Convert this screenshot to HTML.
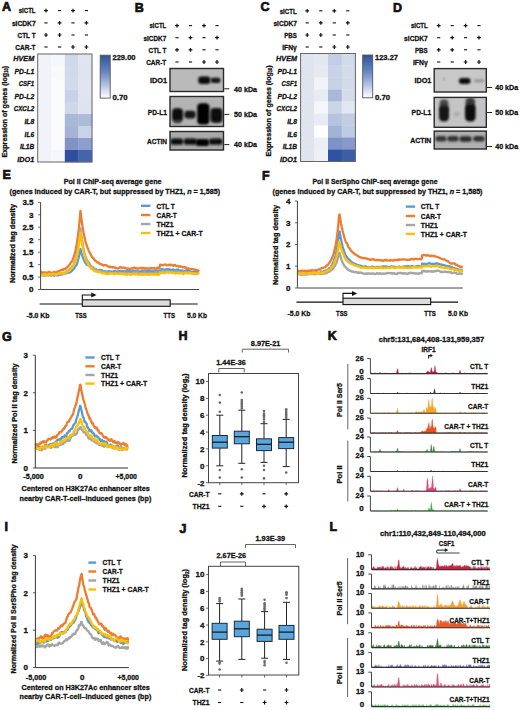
<!DOCTYPE html>
<html><head><meta charset="utf-8"><title>Figure</title>
<style>
html,body{margin:0;padding:0;background:#fff;}
body{width:520px;height:710px;overflow:hidden;}
svg{display:block;font-family:"Liberation Sans", sans-serif;font-weight:bold;}
text{stroke:#111;stroke-width:0.3px;}
</style></head>
<body>
<svg width="520" height="710" viewBox="0 0 520 710" fill="#111">
<rect x="0" y="0" width="520" height="710" fill="#fff"/>
<text x="2.0" y="11.35" font-size="12.5" style="stroke-width:0.7px">A</text>
<text x="35.6" y="13.44" font-size="8.0" text-anchor="end" textLength="16.9" lengthAdjust="spacingAndGlyphs">siCTL</text>
<text x="35.6" y="25.74" font-size="8.0" text-anchor="end" textLength="23.7" lengthAdjust="spacingAndGlyphs">siCDK7</text>
<text x="35.6" y="37.84" font-size="8.0" text-anchor="end" textLength="18.1" lengthAdjust="spacingAndGlyphs">CTL T</text>
<text x="35.6" y="49.84" font-size="8.0" text-anchor="end" textLength="20.4" lengthAdjust="spacingAndGlyphs">CAR-T</text>
<path d="M44.1,10.6H47.9M46.0,8.7V12.5" stroke="#111" stroke-width="1.2"/>
<path d="M58.0,10.6H61.2" stroke="#111" stroke-width="1.1"/>
<path d="M71.1,10.6H74.9M73.0,8.7V12.5" stroke="#111" stroke-width="1.2"/>
<path d="M84.8,10.6H88.0" stroke="#111" stroke-width="1.1"/>
<path d="M44.4,22.9H47.6" stroke="#111" stroke-width="1.1"/>
<path d="M57.7,22.9H61.5M59.6,21.0V24.8" stroke="#111" stroke-width="1.2"/>
<path d="M71.4,22.9H74.6" stroke="#111" stroke-width="1.1"/>
<path d="M84.5,22.9H88.3M86.4,21.0V24.8" stroke="#111" stroke-width="1.2"/>
<path d="M44.1,35.0H47.9M46.0,33.1V36.9" stroke="#111" stroke-width="1.2"/>
<path d="M57.7,35.0H61.5M59.6,33.1V36.9" stroke="#111" stroke-width="1.2"/>
<path d="M71.4,35.0H74.6" stroke="#111" stroke-width="1.1"/>
<path d="M84.8,35.0H88.0" stroke="#111" stroke-width="1.1"/>
<path d="M44.4,47.0H47.6" stroke="#111" stroke-width="1.1"/>
<path d="M58.0,47.0H61.2" stroke="#111" stroke-width="1.1"/>
<path d="M71.1,47.0H74.9M73.0,45.1V48.9" stroke="#111" stroke-width="1.2"/>
<path d="M84.5,47.0H88.3M86.4,45.1V48.9" stroke="#111" stroke-width="1.2"/>
<rect x="37.7" y="54.0" width="13.9" height="12.3" fill="#f1f3f8"/>
<rect x="37.7" y="66.0" width="13.9" height="12.3" fill="#f1f3f8"/>
<rect x="37.7" y="78.0" width="13.9" height="12.3" fill="#f1f3f8"/>
<rect x="37.7" y="90.0" width="13.9" height="12.3" fill="#f1f3f8"/>
<rect x="37.7" y="102.0" width="13.9" height="12.3" fill="#f1f3f8"/>
<rect x="37.7" y="114.0" width="13.9" height="12.3" fill="#f1f3f8"/>
<rect x="37.7" y="126.0" width="13.9" height="12.3" fill="#f1f3f8"/>
<rect x="37.7" y="138.0" width="13.9" height="12.3" fill="#f1f3f8"/>
<rect x="37.7" y="150.0" width="13.9" height="12.3" fill="#f1f3f8"/>
<rect x="51.3" y="54.0" width="13.9" height="12.3" fill="#f6f7fb"/>
<rect x="51.3" y="66.0" width="13.9" height="12.3" fill="#f8f9fb"/>
<rect x="51.3" y="78.0" width="13.9" height="12.3" fill="#fafbfc"/>
<rect x="51.3" y="90.0" width="13.9" height="12.3" fill="#fafbfc"/>
<rect x="51.3" y="102.0" width="13.9" height="12.3" fill="#fafbfc"/>
<rect x="51.3" y="114.0" width="13.9" height="12.3" fill="#fafbfc"/>
<rect x="51.3" y="126.0" width="13.9" height="12.3" fill="#fbfbfd"/>
<rect x="51.3" y="138.0" width="13.9" height="12.3" fill="#fbfbfd"/>
<rect x="51.3" y="150.0" width="13.9" height="12.3" fill="#f6f7fa"/>
<rect x="64.8" y="54.0" width="13.9" height="12.3" fill="#d0d8ea"/>
<rect x="64.8" y="66.0" width="13.9" height="12.3" fill="#d2d9ea"/>
<rect x="64.8" y="78.0" width="13.9" height="12.3" fill="#d3daeb"/>
<rect x="64.8" y="90.0" width="13.9" height="12.3" fill="#c8d1e6"/>
<rect x="64.8" y="102.0" width="13.9" height="12.3" fill="#cfd7e9"/>
<rect x="64.8" y="114.0" width="13.9" height="12.3" fill="#aab8d7"/>
<rect x="64.8" y="126.0" width="13.9" height="12.3" fill="#a5b4d5"/>
<rect x="64.8" y="138.0" width="13.9" height="12.3" fill="#7f93c6"/>
<rect x="64.8" y="150.0" width="13.9" height="12.3" fill="#2e4f9f"/>
<rect x="78.4" y="54.0" width="13.9" height="12.3" fill="#e0e5f0"/>
<rect x="78.4" y="66.0" width="13.9" height="12.3" fill="#dfe4f0"/>
<rect x="78.4" y="78.0" width="13.9" height="12.3" fill="#e0e5f0"/>
<rect x="78.4" y="90.0" width="13.9" height="12.3" fill="#e0e5f0"/>
<rect x="78.4" y="102.0" width="13.9" height="12.3" fill="#dde3ef"/>
<rect x="78.4" y="114.0" width="13.9" height="12.3" fill="#adbad8"/>
<rect x="78.4" y="126.0" width="13.9" height="12.3" fill="#c9d2e7"/>
<rect x="78.4" y="138.0" width="13.9" height="12.3" fill="#8c9ecb"/>
<rect x="78.4" y="150.0" width="13.9" height="12.3" fill="#4464ab"/>
<rect x="37.7" y="54.0" width="54.3" height="108.0" fill="none" stroke="#666" stroke-width="1"/>
<text x="34.2" y="60.84" font-size="8.0" font-style="italic" text-anchor="end" textLength="20.9" lengthAdjust="spacingAndGlyphs">HVEM</text>
<text x="34.2" y="73.84" font-size="8.0" font-style="italic" text-anchor="end" textLength="19.6" lengthAdjust="spacingAndGlyphs">PD-L1</text>
<text x="34.2" y="86.34" font-size="8.0" font-style="italic" text-anchor="end" textLength="15.5" lengthAdjust="spacingAndGlyphs">CSF1</text>
<text x="34.2" y="98.84" font-size="8.0" font-style="italic" text-anchor="end" textLength="19.6" lengthAdjust="spacingAndGlyphs">PD-L2</text>
<text x="34.2" y="111.34" font-size="8.0" font-style="italic" text-anchor="end" textLength="20.5" lengthAdjust="spacingAndGlyphs">CXCL2</text>
<text x="34.2" y="124.04" font-size="8.0" font-style="italic" text-anchor="end" textLength="9.8" lengthAdjust="spacingAndGlyphs">IL8</text>
<text x="34.2" y="136.74" font-size="8.0" font-style="italic" text-anchor="end" textLength="9.6" lengthAdjust="spacingAndGlyphs">IL6</text>
<text x="34.2" y="149.34" font-size="8.0" font-style="italic" text-anchor="end" textLength="14.3" lengthAdjust="spacingAndGlyphs">IL1B</text>
<text x="34.2" y="161.84" font-size="8.0" font-style="italic" text-anchor="end" textLength="17.0" lengthAdjust="spacingAndGlyphs">IDO1</text>
<defs><linearGradient id="cbA" x1="0" y1="0" x2="0" y2="1"><stop offset="0" stop-color="#2d5396"/><stop offset="0.4" stop-color="#6a88c2"/><stop offset="0.7" stop-color="#b4c3e2"/><stop offset="0.88" stop-color="#e2e8f4"/><stop offset="1" stop-color="#ffffff"/></linearGradient></defs>
<rect x="100.2" y="55.2" width="10.0" height="42.9" fill="url(#cbA)" stroke="#555" stroke-width="0.9"/>
<text x="112.5" y="60.24" font-size="8.0" textLength="23.0" lengthAdjust="spacingAndGlyphs">229.00</text>
<text x="112.5" y="100.14" font-size="8.0" textLength="15.2" lengthAdjust="spacingAndGlyphs">0.70</text>
<text transform="translate(4.0,111.7) rotate(-90)" x="0" y="2.6" font-size="8.0" text-anchor="middle" textLength="91.5" lengthAdjust="spacingAndGlyphs">Expression of genes (log<tspan font-size="4.5" dy="1.3">10</tspan><tspan dy="-1.3">)</tspan></text>
<text x="260.6" y="11.35" font-size="12.5" style="stroke-width:0.7px">C</text>
<text x="296.8" y="13.64" font-size="8.0" text-anchor="end" textLength="17.1" lengthAdjust="spacingAndGlyphs">siCTL</text>
<text x="296.8" y="25.74" font-size="8.0" text-anchor="end" textLength="23.4" lengthAdjust="spacingAndGlyphs">siCDK7</text>
<text x="296.8" y="37.84" font-size="8.0" text-anchor="end" textLength="12.6" lengthAdjust="spacingAndGlyphs">PBS</text>
<text x="296.8" y="49.84" font-size="8.0" text-anchor="end" textLength="14.6" lengthAdjust="spacingAndGlyphs">IFNγ</text>
<path d="M305.3,10.8H309.1M307.2,8.9V12.7" stroke="#111" stroke-width="1.2"/>
<path d="M319.2,10.8H322.4" stroke="#111" stroke-width="1.1"/>
<path d="M332.4,10.8H336.2M334.3,8.9V12.7" stroke="#111" stroke-width="1.2"/>
<path d="M346.2,10.8H349.4" stroke="#111" stroke-width="1.1"/>
<path d="M305.6,22.9H308.8" stroke="#111" stroke-width="1.1"/>
<path d="M318.9,22.9H322.7M320.8,21.0V24.8" stroke="#111" stroke-width="1.2"/>
<path d="M332.7,22.9H335.9" stroke="#111" stroke-width="1.1"/>
<path d="M345.9,22.9H349.7M347.8,21.0V24.8" stroke="#111" stroke-width="1.2"/>
<path d="M305.3,35.0H309.1M307.2,33.1V36.9" stroke="#111" stroke-width="1.2"/>
<path d="M318.9,35.0H322.7M320.8,33.1V36.9" stroke="#111" stroke-width="1.2"/>
<path d="M332.7,35.0H335.9" stroke="#111" stroke-width="1.1"/>
<path d="M346.2,35.0H349.4" stroke="#111" stroke-width="1.1"/>
<path d="M305.6,47.0H308.8" stroke="#111" stroke-width="1.1"/>
<path d="M319.2,47.0H322.4" stroke="#111" stroke-width="1.1"/>
<path d="M332.4,47.0H336.2M334.3,45.1V48.9" stroke="#111" stroke-width="1.2"/>
<path d="M345.9,47.0H349.7M347.8,45.1V48.9" stroke="#111" stroke-width="1.2"/>
<rect x="300.6" y="53.5" width="14.0" height="12.3" fill="#e0e4ee"/>
<rect x="300.6" y="65.5" width="14.0" height="12.3" fill="#e0e4ee"/>
<rect x="300.6" y="77.5" width="14.0" height="12.3" fill="#e0e4ee"/>
<rect x="300.6" y="89.5" width="14.0" height="12.3" fill="#e0e4ee"/>
<rect x="300.6" y="101.5" width="14.0" height="12.3" fill="#e0e4ee"/>
<rect x="300.6" y="113.5" width="14.0" height="12.3" fill="#e0e4ee"/>
<rect x="300.6" y="125.5" width="14.0" height="12.3" fill="#e0e4ee"/>
<rect x="300.6" y="137.5" width="14.0" height="12.3" fill="#e0e4ee"/>
<rect x="300.6" y="149.5" width="14.0" height="12.3" fill="#e0e4ee"/>
<rect x="314.3" y="53.5" width="14.0" height="12.3" fill="#e3e7f0"/>
<rect x="314.3" y="65.5" width="14.0" height="12.3" fill="#e6e9f2"/>
<rect x="314.3" y="77.5" width="14.0" height="12.3" fill="#f1f3f8"/>
<rect x="314.3" y="89.5" width="14.0" height="12.3" fill="#e8ebf3"/>
<rect x="314.3" y="101.5" width="14.0" height="12.3" fill="#f6f7fa"/>
<rect x="314.3" y="113.5" width="14.0" height="12.3" fill="#e8ebf3"/>
<rect x="314.3" y="125.5" width="14.0" height="12.3" fill="#ffffff"/>
<rect x="314.3" y="137.5" width="14.0" height="12.3" fill="#eceef5"/>
<rect x="314.3" y="149.5" width="14.0" height="12.3" fill="#eef0f6"/>
<rect x="328.0" y="53.5" width="14.0" height="12.3" fill="#c3cde3"/>
<rect x="328.0" y="65.5" width="14.0" height="12.3" fill="#c9d2e6"/>
<rect x="328.0" y="77.5" width="14.0" height="12.3" fill="#c8d1e6"/>
<rect x="328.0" y="89.5" width="14.0" height="12.3" fill="#abb8d5"/>
<rect x="328.0" y="101.5" width="14.0" height="12.3" fill="#ccd4e7"/>
<rect x="328.0" y="113.5" width="14.0" height="12.3" fill="#b7c3de"/>
<rect x="328.0" y="125.5" width="14.0" height="12.3" fill="#a3b3d6"/>
<rect x="328.0" y="137.5" width="14.0" height="12.3" fill="#7e92c5"/>
<rect x="328.0" y="149.5" width="14.0" height="12.3" fill="#2f52a2"/>
<rect x="341.7" y="53.5" width="14.0" height="12.3" fill="#d3dbea"/>
<rect x="341.7" y="65.5" width="14.0" height="12.3" fill="#d4dbeb"/>
<rect x="341.7" y="77.5" width="14.0" height="12.3" fill="#d3dbea"/>
<rect x="341.7" y="89.5" width="14.0" height="12.3" fill="#d4dbeb"/>
<rect x="341.7" y="101.5" width="14.0" height="12.3" fill="#e2e6f0"/>
<rect x="341.7" y="113.5" width="14.0" height="12.3" fill="#c2cce3"/>
<rect x="341.7" y="125.5" width="14.0" height="12.3" fill="#bfcae3"/>
<rect x="341.7" y="137.5" width="14.0" height="12.3" fill="#879acb"/>
<rect x="341.7" y="149.5" width="14.0" height="12.3" fill="#3c5ea9"/>
<rect x="300.6" y="53.5" width="54.8" height="108.0" fill="none" stroke="#666" stroke-width="1"/>
<text x="297.0" y="60.84" font-size="8.0" font-style="italic" text-anchor="end" textLength="20.9" lengthAdjust="spacingAndGlyphs">HVEM</text>
<text x="297.0" y="73.84" font-size="8.0" font-style="italic" text-anchor="end" textLength="19.6" lengthAdjust="spacingAndGlyphs">PD-L1</text>
<text x="297.0" y="86.34" font-size="8.0" font-style="italic" text-anchor="end" textLength="15.5" lengthAdjust="spacingAndGlyphs">CSF1</text>
<text x="297.0" y="98.84" font-size="8.0" font-style="italic" text-anchor="end" textLength="19.6" lengthAdjust="spacingAndGlyphs">PD-L2</text>
<text x="297.0" y="111.34" font-size="8.0" font-style="italic" text-anchor="end" textLength="20.5" lengthAdjust="spacingAndGlyphs">CXCL2</text>
<text x="297.0" y="124.04" font-size="8.0" font-style="italic" text-anchor="end" textLength="9.8" lengthAdjust="spacingAndGlyphs">IL8</text>
<text x="297.0" y="136.74" font-size="8.0" font-style="italic" text-anchor="end" textLength="9.6" lengthAdjust="spacingAndGlyphs">IL6</text>
<text x="297.0" y="149.34" font-size="8.0" font-style="italic" text-anchor="end" textLength="14.3" lengthAdjust="spacingAndGlyphs">IL1B</text>
<text x="297.0" y="161.84" font-size="8.0" font-style="italic" text-anchor="end" textLength="17.0" lengthAdjust="spacingAndGlyphs">IDO1</text>
<defs><linearGradient id="cbC" x1="0" y1="0" x2="0" y2="1"><stop offset="0" stop-color="#2d5396"/><stop offset="0.4" stop-color="#6a88c2"/><stop offset="0.7" stop-color="#b4c3e2"/><stop offset="0.88" stop-color="#e2e8f4"/><stop offset="1" stop-color="#ffffff"/></linearGradient></defs>
<rect x="362.7" y="55.0" width="10.0" height="42.8" fill="url(#cbC)" stroke="#555" stroke-width="0.9"/>
<text x="375.0" y="60.04" font-size="8.0" textLength="23.0" lengthAdjust="spacingAndGlyphs">123.27</text>
<text x="375.0" y="99.84" font-size="8.0" textLength="15.2" lengthAdjust="spacingAndGlyphs">0.70</text>
<text transform="translate(268.0,110.9) rotate(-90)" x="0" y="2.6" font-size="8.0" text-anchor="middle" textLength="91.0" lengthAdjust="spacingAndGlyphs">Expression of genes (log<tspan font-size="4.5" dy="1.3">10</tspan><tspan dy="-1.3">)</tspan></text>
<defs><filter id="bl1" x="-50%" y="-50%" width="200%" height="200%"><feGaussianBlur stdDeviation="1.2"/></filter><filter id="bl2" x="-50%" y="-50%" width="200%" height="200%"><feGaussianBlur stdDeviation="2"/></filter><filter id="bl3" x="-50%" y="-50%" width="200%" height="200%"><feGaussianBlur stdDeviation="0.8"/></filter></defs>
<text x="134.7" y="11.65" font-size="12.5" style="stroke-width:0.7px">B</text>
<text x="166.3" y="28.44" font-size="8.0" text-anchor="end" textLength="16.8" lengthAdjust="spacingAndGlyphs">siCTL</text>
<text x="166.3" y="40.54" font-size="8.0" text-anchor="end" textLength="22.8" lengthAdjust="spacingAndGlyphs">siCDK7</text>
<text x="166.3" y="52.64" font-size="8.0" text-anchor="end" textLength="17.7" lengthAdjust="spacingAndGlyphs">CTL T</text>
<text x="166.3" y="64.84" font-size="8.0" text-anchor="end" textLength="20.1" lengthAdjust="spacingAndGlyphs">CAR-T</text>
<path d="M175.1,25.6H178.9M177.0,23.7V27.5" stroke="#111" stroke-width="1.2"/>
<path d="M188.9,25.6H192.1" stroke="#111" stroke-width="1.1"/>
<path d="M202.1,25.6H205.9M204.0,23.7V27.5" stroke="#111" stroke-width="1.2"/>
<path d="M215.4,25.6H218.6" stroke="#111" stroke-width="1.1"/>
<path d="M175.4,37.7H178.6" stroke="#111" stroke-width="1.1"/>
<path d="M188.6,37.7H192.4M190.5,35.8V39.6" stroke="#111" stroke-width="1.2"/>
<path d="M202.4,37.7H205.6" stroke="#111" stroke-width="1.1"/>
<path d="M215.1,37.7H218.9M217.0,35.8V39.6" stroke="#111" stroke-width="1.2"/>
<path d="M175.1,49.8H178.9M177.0,47.9V51.7" stroke="#111" stroke-width="1.2"/>
<path d="M188.6,49.8H192.4M190.5,47.9V51.7" stroke="#111" stroke-width="1.2"/>
<path d="M202.4,49.8H205.6" stroke="#111" stroke-width="1.1"/>
<path d="M215.4,49.8H218.6" stroke="#111" stroke-width="1.1"/>
<path d="M175.4,62.0H178.6" stroke="#111" stroke-width="1.1"/>
<path d="M188.9,62.0H192.1" stroke="#111" stroke-width="1.1"/>
<path d="M202.1,62.0H205.9M204.0,60.1V63.9" stroke="#111" stroke-width="1.2"/>
<path d="M215.1,62.0H218.9M217.0,60.1V63.9" stroke="#111" stroke-width="1.2"/>
<clipPath id="clipB0"><rect x="170" y="68.5" width="53.5" height="23.0"/></clipPath>
<rect x="170.0" y="68.5" width="53.5" height="23.0" fill="#bababa"/>
<g clip-path="url(#clipB0)">
<rect x="198.2" y="76.6" width="12.2" height="7.4" rx="3" fill="#0d0d0d" opacity="1" filter="url(#bl3)"/>
<rect x="210.8" y="77.8" width="9.6" height="5.2" rx="2" fill="#161616" opacity="1" filter="url(#bl3)"/>
</g>
<rect x="170.0" y="68.5" width="53.5" height="23.0" fill="none" stroke="#2a2a2a" stroke-width="1.4"/>
<text x="167.0" y="83.14" font-size="8.0" text-anchor="end" textLength="17.0" lengthAdjust="spacingAndGlyphs">IDO1</text>
<clipPath id="clipB1"><rect x="170" y="96.5" width="53.5" height="30.0"/></clipPath>
<rect x="170.0" y="96.5" width="53.5" height="30.0" fill="#b3b3b3"/>
<g clip-path="url(#clipB1)">
<rect x="172.0" y="108.2" width="11.0" height="13.4" rx="4" fill="#080808" opacity="1" filter="url(#bl3)"/>
<rect x="184.4" y="110.8" width="11.2" height="7.6" rx="3" fill="#151515" opacity="1" filter="url(#bl3)"/>
<rect x="197.2" y="103.2" width="12.2" height="21.2" rx="4" fill="#050505" opacity="1" filter="url(#bl3)"/>
<rect x="210.4" y="108.0" width="12.0" height="14.8" rx="4" fill="#080808" opacity="1" filter="url(#bl3)"/>
<rect x="173.5" y="119.0" width="8.0" height="4.5" rx="2" fill="#333" opacity="0.7" filter="url(#bl1)"/>
</g>
<rect x="170.0" y="96.5" width="53.5" height="30.0" fill="none" stroke="#2a2a2a" stroke-width="1.4"/>
<text x="167.0" y="114.64" font-size="8.0" text-anchor="end" textLength="19.3" lengthAdjust="spacingAndGlyphs">PD-L1</text>
<clipPath id="clipB2"><rect x="170" y="131.5" width="53.5" height="18.5"/></clipPath>
<rect x="170.0" y="131.5" width="53.5" height="18.5" fill="#a9a9a9"/>
<g clip-path="url(#clipB2)">
<rect x="170.4" y="138.4" width="12.8" height="6.4" rx="2.5" fill="#0a0a0a" opacity="1" filter="url(#bl3)"/>
<rect x="183.8" y="138.4" width="13.2" height="6.4" rx="2.5" fill="#0a0a0a" opacity="1" filter="url(#bl3)"/>
<rect x="196.0" y="139.0" width="13.0" height="7.0" rx="2.5" fill="#060606" opacity="1" filter="url(#bl3)"/>
<rect x="209.0" y="138.4" width="13.4" height="6.4" rx="2.5" fill="#0a0a0a" opacity="1" filter="url(#bl3)"/>
</g>
<rect x="170.0" y="131.5" width="53.5" height="18.5" fill="none" stroke="#2a2a2a" stroke-width="1.4"/>
<text x="167.0" y="143.89" font-size="8.0" text-anchor="end" textLength="20.0" lengthAdjust="spacingAndGlyphs">ACTIN</text>
<line x1="224.3" y1="88.8" x2="229.3" y2="88.8" stroke="#222" stroke-width="1"/>
<text x="234.0" y="91.64" font-size="8.0" textLength="23.0" lengthAdjust="spacingAndGlyphs">40 kDa</text>
<line x1="224.3" y1="114.4" x2="229.3" y2="114.4" stroke="#222" stroke-width="1"/>
<text x="234.0" y="117.24" font-size="8.0" textLength="23.0" lengthAdjust="spacingAndGlyphs">50 kDa</text>
<line x1="224.3" y1="144.6" x2="229.3" y2="144.6" stroke="#222" stroke-width="1"/>
<text x="234.0" y="147.44" font-size="8.0" textLength="23.0" lengthAdjust="spacingAndGlyphs">40 kDa</text>
<text x="393.0" y="11.65" font-size="12.5" style="stroke-width:0.7px">D</text>
<text x="427.7" y="28.44" font-size="8.0" text-anchor="end" textLength="16.8" lengthAdjust="spacingAndGlyphs">siCTL</text>
<text x="427.7" y="40.54" font-size="8.0" text-anchor="end" textLength="23.6" lengthAdjust="spacingAndGlyphs">siCDK7</text>
<text x="427.7" y="52.64" font-size="8.0" text-anchor="end" textLength="12.8" lengthAdjust="spacingAndGlyphs">PBS</text>
<text x="427.7" y="64.84" font-size="8.0" text-anchor="end" textLength="14.8" lengthAdjust="spacingAndGlyphs">IFNγ</text>
<path d="M436.8,25.6H440.6M438.7,23.7V27.5" stroke="#111" stroke-width="1.2"/>
<path d="M450.6,25.6H453.8" stroke="#111" stroke-width="1.1"/>
<path d="M463.7,25.6H467.5M465.6,23.7V27.5" stroke="#111" stroke-width="1.2"/>
<path d="M477.4,25.6H480.6" stroke="#111" stroke-width="1.1"/>
<path d="M437.1,37.7H440.3" stroke="#111" stroke-width="1.1"/>
<path d="M450.3,37.7H454.1M452.2,35.8V39.6" stroke="#111" stroke-width="1.2"/>
<path d="M464.0,37.7H467.2" stroke="#111" stroke-width="1.1"/>
<path d="M477.1,37.7H480.9M479.0,35.8V39.6" stroke="#111" stroke-width="1.2"/>
<path d="M436.8,49.8H440.6M438.7,47.9V51.7" stroke="#111" stroke-width="1.2"/>
<path d="M450.3,49.8H454.1M452.2,47.9V51.7" stroke="#111" stroke-width="1.2"/>
<path d="M464.0,49.8H467.2" stroke="#111" stroke-width="1.1"/>
<path d="M477.4,49.8H480.6" stroke="#111" stroke-width="1.1"/>
<path d="M437.1,62.0H440.3" stroke="#111" stroke-width="1.1"/>
<path d="M450.6,62.0H453.8" stroke="#111" stroke-width="1.1"/>
<path d="M463.7,62.0H467.5M465.6,60.1V63.9" stroke="#111" stroke-width="1.2"/>
<path d="M477.1,62.0H480.9M479.0,60.1V63.9" stroke="#111" stroke-width="1.2"/>
<clipPath id="clipD0"><rect x="434.2" y="68.6" width="52.10000000000002" height="23.400000000000006"/></clipPath>
<rect x="434.2" y="68.6" width="52.1" height="23.4" fill="#c8c8c8"/>
<g clip-path="url(#clipD0)">
<rect x="458.9" y="78.0" width="11.6" height="6.0" rx="3" fill="#0d0d0d" opacity="1" filter="url(#bl3)"/>
<rect x="474.0" y="79.3" width="10.0" height="3.0" rx="1.5" fill="#888" opacity="0.8" filter="url(#bl3)"/>
<ellipse cx="444.0" cy="79.0" rx="1.0" ry="0.8" fill="#444" opacity="0.7" filter="url(#bl3)"/>
</g>
<rect x="434.2" y="68.6" width="52.1" height="23.4" fill="none" stroke="#2a2a2a" stroke-width="1.4"/>
<text x="431.3" y="83.44" font-size="8.0" text-anchor="end" textLength="16.9" lengthAdjust="spacingAndGlyphs">IDO1</text>
<clipPath id="clipD1"><rect x="434.2" y="97.4" width="52.10000000000002" height="29.89999999999999"/></clipPath>
<rect x="434.2" y="97.4" width="52.1" height="29.9" fill="#c4c4c4"/>
<g clip-path="url(#clipD1)">
<rect x="439.6" y="99.5" width="8.8" height="12.5" rx="4" fill="#3a3a3a" opacity="0.9" filter="url(#bl1)"/>
<rect x="465.6" y="97.8" width="9.4" height="12.2" rx="4" fill="#2a2a2a" opacity="0.9" filter="url(#bl1)"/>
<rect x="439.0" y="105.5" width="10.0" height="16.0" rx="4.5" fill="#141414" opacity="1" filter="url(#bl3)"/>
<rect x="465.0" y="104.5" width="10.6" height="17.0" rx="4.5" fill="#111" opacity="1" filter="url(#bl3)"/>
<ellipse cx="456.5" cy="114.0" rx="3.0" ry="2.0" fill="#999" opacity="0.6" filter="url(#bl1)"/>
</g>
<rect x="434.2" y="97.4" width="52.1" height="29.9" fill="none" stroke="#2a2a2a" stroke-width="1.4"/>
<text x="431.3" y="115.49" font-size="8.0" text-anchor="end" textLength="19.7" lengthAdjust="spacingAndGlyphs">PD-L1</text>
<clipPath id="clipD2"><rect x="434.2" y="131.1" width="52.10000000000002" height="17.900000000000006"/></clipPath>
<rect x="434.2" y="131.1" width="52.1" height="17.9" fill="#b0b0b0"/>
<g clip-path="url(#clipD2)">
<rect x="435.6" y="136.0" width="10.8" height="5.4" rx="2.5" fill="#363636" opacity="1" filter="url(#bl3)"/>
<rect x="447.2" y="136.0" width="11.4" height="5.4" rx="2.5" fill="#363636" opacity="1" filter="url(#bl3)"/>
<rect x="459.6" y="136.2" width="12.0" height="5.6" rx="2.5" fill="#2a2a2a" opacity="1" filter="url(#bl3)"/>
<rect x="473.2" y="136.0" width="11.4" height="5.4" rx="2.5" fill="#333" opacity="1" filter="url(#bl3)"/>
</g>
<rect x="434.2" y="131.1" width="52.1" height="17.9" fill="none" stroke="#2a2a2a" stroke-width="1.4"/>
<text x="431.3" y="143.19" font-size="8.0" text-anchor="end" textLength="21.1" lengthAdjust="spacingAndGlyphs">ACTIN</text>
<line x1="487.1" y1="87.5" x2="492.1" y2="87.5" stroke="#222" stroke-width="1"/>
<text x="495.2" y="90.34" font-size="8.0" textLength="23.0" lengthAdjust="spacingAndGlyphs">40 kDa</text>
<line x1="487.1" y1="112.5" x2="492.1" y2="112.5" stroke="#222" stroke-width="1"/>
<text x="495.2" y="115.34" font-size="8.0" textLength="23.0" lengthAdjust="spacingAndGlyphs">50 kDa</text>
<line x1="487.1" y1="146.5" x2="492.1" y2="146.5" stroke="#222" stroke-width="1"/>
<text x="495.2" y="149.34" font-size="8.0" textLength="23.0" lengthAdjust="spacingAndGlyphs">40 kDa</text>
<text x="2.6" y="179.35" font-size="12.5" style="stroke-width:0.7px">E</text>
<text x="112.6" y="184.44" font-size="8.0" text-anchor="middle" textLength="97.8" lengthAdjust="spacingAndGlyphs">Pol II ChIP-seq average gene</text>
<text x="114.8" y="194.20" font-size="8.0" text-anchor="middle" textLength="210.5" lengthAdjust="spacingAndGlyphs">(genes induced by CAR-T, but suppressed by THZ1, <tspan font-style="italic">n</tspan> = 1,585)</text>
<path d="M41.0,275.4 L41.5,274.9 L42.0,274.7 L42.5,275.1 L43.0,275.1 L43.5,275.1 L44.0,274.9 L44.5,274.7 L45.0,275.2 L45.5,275.6 L46.0,275.0 L46.5,275.1 L47.0,274.8 L47.5,275.4 L48.0,275.3 L48.5,274.9 L49.0,275.2 L49.5,274.7 L50.0,274.4 L50.5,275.1 L51.0,275.5 L51.5,275.2 L52.0,274.7 L52.5,274.9 L53.0,275.2 L53.5,275.1 L54.0,275.5 L54.5,275.5 L55.0,275.3 L55.5,275.1 L56.0,275.2 L56.5,275.3 L57.0,275.3 L57.5,275.1 L58.0,275.1 L58.5,275.4 L59.0,274.7 L59.5,274.6 L60.0,274.4 L60.5,274.7 L61.0,274.1 L61.5,273.8 L62.0,274.4 L62.5,274.4 L63.0,274.1 L63.5,273.8 L64.0,273.4 L64.5,273.6 L65.0,273.3 L65.5,273.2 L66.0,273.5 L66.5,273.3 L67.0,272.8 L67.5,272.5 L68.0,272.6 L68.5,272.5 L69.0,272.8 L69.5,272.7 L70.0,272.0 L70.5,271.8 L71.0,271.8 L71.5,271.3 L72.0,270.6 L72.5,270.1 L73.0,269.8 L73.5,269.3 L74.0,268.7 L74.5,267.8 L75.0,267.1 L75.5,266.4 L76.0,265.5 L76.5,264.9 L77.0,263.9 L77.5,262.1 L78.0,259.9 L78.5,258.2 L79.0,256.3 L79.5,254.3 L80.0,251.5 L80.5,249.0 L81.0,251.1 L81.5,253.2 L82.0,254.7 L82.5,256.7 L83.0,258.1 L83.5,258.9 L84.0,260.0 L84.5,261.2 L85.0,262.3 L85.5,263.0 L86.0,263.3 L86.5,264.5 L87.0,264.7 L87.5,265.0 L88.0,265.2 L88.5,265.7 L89.0,266.0 L89.5,266.6 L90.0,267.0 L90.5,267.5 L91.0,268.3 L91.5,268.0 L92.0,268.3 L92.5,268.8 L93.0,268.9 L93.5,269.1 L94.0,269.4 L94.5,269.6 L95.0,269.6 L95.5,269.6 L96.0,269.6 L96.5,269.8 L97.0,270.4 L97.5,270.6 L98.0,270.8 L98.5,270.5 L99.0,270.1 L99.5,270.0 L100.0,269.9 L100.5,269.9 L101.0,270.4 L101.5,270.2 L102.0,270.2 L102.5,270.9 L103.0,271.3 L103.5,271.6 L104.0,271.1 L104.5,271.3 L105.0,271.5 L105.5,271.2 L106.0,271.3 L106.5,271.6 L107.0,271.7 L107.5,271.4 L108.0,271.6 L108.5,271.6 L109.0,271.2 L109.5,271.2 L110.0,271.4 L110.5,271.3 L111.0,271.7 L111.5,271.6 L112.0,271.5 L112.5,271.7 L113.0,271.9 L113.5,271.2 L114.0,271.2 L114.5,271.5 L115.0,271.3 L115.5,271.0 L116.0,271.5 L116.5,271.9 L117.0,272.0 L117.5,271.5 L118.0,271.7 L118.5,271.3 L119.0,271.1 L119.5,271.1 L120.0,271.5 L120.5,270.9 L121.0,270.8 L121.5,270.9 L122.0,271.3 L122.5,271.2 L123.0,271.3 L123.5,271.2 L124.0,271.4 L124.5,271.2 L125.0,271.7 L125.5,271.7 L126.0,271.1 L126.5,270.8 L127.0,271.2 L127.5,270.8 L128.0,271.2 L128.5,270.8 L129.0,270.7 L129.5,271.0 L130.0,271.4 L130.5,271.8 L131.0,271.2 L131.5,271.7 L132.0,271.2 L132.5,270.7 L133.0,270.9 L133.5,271.3 L134.0,270.9 L134.5,270.6 L135.0,270.6 L135.5,270.9 L136.0,271.1 L136.5,271.3 L137.0,271.6 L137.5,271.2 L138.0,271.3 L138.5,271.6 L139.0,271.8 L139.5,271.4 L140.0,271.5 L140.5,271.4 L141.0,271.5 L141.5,271.0 L142.0,270.7 L142.5,271.4 L143.0,271.6 L143.5,271.6 L144.0,270.9 L144.5,270.7 L145.0,271.1 L145.5,271.4 L146.0,271.1 L146.5,270.8 L147.0,270.5 L147.5,270.9 L148.0,270.6 L148.5,270.6 L149.0,270.9 L149.5,270.5 L150.0,271.0 L150.5,270.8 L151.0,271.4 L151.5,271.6 L152.0,271.0 L152.5,271.3 L153.0,271.0 L153.5,270.9 L154.0,270.7 L154.5,271.0 L155.0,271.2 L155.5,271.4 L156.0,270.9 L156.5,270.9 L157.0,270.5 L157.5,270.3 L158.0,271.0 L158.5,271.0 L159.0,271.4 L159.5,271.7 L160.0,270.4 L160.5,269.7 L161.0,269.4 L161.5,269.1 L162.0,269.5 L162.5,269.4 L163.0,269.2 L163.5,269.5 L164.0,269.4 L164.5,269.8 L165.0,270.1 L165.5,270.1 L166.0,269.5 L166.5,269.5 L167.0,269.1 L167.5,269.3 L168.0,269.7 L168.5,269.3 L169.0,269.1 L169.5,269.8 L170.0,269.5 L170.5,270.0 L171.0,270.2 L171.5,269.6 L172.0,270.0 L172.5,270.1 L173.0,269.4 L173.5,269.6 L174.0,269.9 L174.5,270.2 L175.0,270.3 L175.5,269.9 L176.0,270.3 L176.5,269.7 L177.0,270.0 L177.5,269.6 L178.0,269.4 L178.5,269.9 L179.0,270.3 L179.5,270.3 L180.0,270.8 L180.5,270.5 L181.0,270.9 L181.5,271.3 L182.0,270.5 L182.5,270.8 L183.0,270.7 L183.5,270.8 L184.0,271.0 L184.5,271.4 L185.0,270.8 L185.5,270.4 L186.0,270.2 L186.5,271.0 L187.0,271.4 L187.5,271.2 L188.0,270.8 L188.5,271.0 L189.0,271.0 L189.5,271.0 L190.0,271.5 L190.5,271.5 L191.0,271.8 L191.5,272.0 L192.0,272.4 L192.5,272.4 L193.0,271.7 L193.5,271.9 L194.0,271.8 L194.5,271.8 L195.0,271.5 L195.5,271.9 L196.0,272.3 L196.5,272.5 L197.0,272.6 L197.5,272.2 L198.0,272.0 L198.5,272.4 L199.0,272.7" fill="none" stroke="#5b9bd5" stroke-width="2.3" stroke-linejoin="round"/>
<path d="M41.0,272.3 L41.5,272.0 L42.0,272.7 L42.5,273.1 L43.0,272.6 L43.5,272.4 L44.0,272.3 L44.5,272.7 L45.0,272.5 L45.5,272.5 L46.0,272.4 L46.5,272.8 L47.0,272.8 L47.5,272.8 L48.0,272.5 L48.5,272.0 L49.0,271.7 L49.5,272.0 L50.0,272.2 L50.5,272.5 L51.0,272.9 L51.5,273.2 L52.0,272.8 L52.5,272.8 L53.0,272.7 L53.5,272.1 L54.0,272.1 L54.5,272.0 L55.0,272.2 L55.5,272.6 L56.0,272.5 L56.5,272.5 L57.0,272.2 L57.5,271.4 L58.0,271.3 L58.5,271.6 L59.0,271.1 L59.5,270.8 L60.0,270.6 L60.5,270.3 L61.0,270.2 L61.5,270.0 L62.0,270.3 L62.5,269.7 L63.0,269.3 L63.5,269.8 L64.0,269.4 L64.5,269.0 L65.0,269.0 L65.5,268.7 L66.0,268.5 L66.5,267.7 L67.0,267.5 L67.5,266.9 L68.0,266.7 L68.5,265.9 L69.0,265.1 L69.5,264.8 L70.0,264.2 L70.5,263.2 L71.0,262.4 L71.5,261.8 L72.0,261.2 L72.5,260.2 L73.0,258.7 L73.5,257.8 L74.0,255.8 L74.5,254.5 L75.0,252.2 L75.5,250.5 L76.0,247.7 L76.5,245.2 L77.0,242.5 L77.5,239.3 L78.0,235.6 L78.5,231.5 L79.0,227.1 L79.5,222.1 L80.0,215.9 L80.5,210.9 L81.0,215.3 L81.5,219.8 L82.0,223.0 L82.5,226.2 L83.0,228.9 L83.5,232.2 L84.0,234.5 L84.5,237.4 L85.0,239.2 L85.5,241.4 L86.0,243.4 L86.5,244.5 L87.0,246.4 L87.5,247.7 L88.0,248.6 L88.5,250.2 L89.0,251.5 L89.5,252.0 L90.0,253.2 L90.5,253.8 L91.0,255.2 L91.5,256.0 L92.0,257.0 L92.5,257.3 L93.0,258.3 L93.5,258.2 L94.0,259.3 L94.5,259.4 L95.0,260.4 L95.5,260.9 L96.0,260.8 L96.5,261.6 L97.0,262.2 L97.5,262.1 L98.0,262.5 L98.5,263.2 L99.0,262.8 L99.5,263.5 L100.0,264.1 L100.5,264.3 L101.0,264.2 L101.5,264.1 L102.0,264.8 L102.5,265.0 L103.0,265.6 L103.5,265.5 L104.0,265.2 L104.5,265.2 L105.0,265.0 L105.5,265.1 L106.0,265.1 L106.5,265.3 L107.0,265.7 L107.5,266.3 L108.0,266.2 L108.5,266.5 L109.0,267.0 L109.5,267.0 L110.0,266.5 L110.5,267.1 L111.0,267.0 L111.5,267.1 L112.0,267.1 L112.5,267.5 L113.0,267.0 L113.5,267.3 L114.0,267.3 L114.5,267.4 L115.0,267.9 L115.5,267.7 L116.0,268.0 L116.5,268.3 L117.0,268.5 L117.5,268.5 L118.0,268.6 L118.5,268.1 L119.0,268.0 L119.5,267.4 L120.0,267.2 L120.5,266.9 L121.0,267.6 L121.5,267.8 L122.0,268.1 L122.5,267.9 L123.0,267.8 L123.5,267.6 L124.0,267.5 L124.5,268.0 L125.0,268.1 L125.5,268.0 L126.0,268.5 L126.5,268.8 L127.0,268.6 L127.5,268.8 L128.0,268.3 L128.5,268.5 L129.0,268.7 L129.5,268.8 L130.0,268.8 L130.5,268.8 L131.0,268.5 L131.5,268.4 L132.0,268.5 L132.5,268.2 L133.0,268.5 L133.5,268.0 L134.0,267.6 L134.5,267.6 L135.0,267.9 L135.5,268.0 L136.0,268.0 L136.5,268.5 L137.0,268.5 L137.5,268.3 L138.0,268.6 L138.5,268.8 L139.0,268.3 L139.5,268.4 L140.0,268.3 L140.5,267.8 L141.0,267.9 L141.5,268.2 L142.0,267.7 L142.5,268.0 L143.0,268.6 L143.5,268.2 L144.0,268.6 L144.5,268.6 L145.0,268.1 L145.5,268.0 L146.0,268.5 L146.5,268.4 L147.0,268.4 L147.5,268.3 L148.0,268.5 L148.5,268.3 L149.0,268.7 L149.5,268.7 L150.0,268.6 L150.5,268.0 L151.0,268.5 L151.5,268.1 L152.0,268.4 L152.5,268.2 L153.0,268.3 L153.5,268.3 L154.0,267.9 L154.5,268.1 L155.0,268.5 L155.5,268.7 L156.0,268.9 L156.5,268.2 L157.0,268.0 L157.5,267.6 L158.0,267.6 L158.5,268.3 L159.0,268.0 L159.5,267.8 L160.0,264.7 L160.5,264.8 L161.0,265.1 L161.5,265.1 L162.0,264.8 L162.5,265.2 L163.0,265.1 L163.5,265.1 L164.0,264.7 L164.5,264.5 L165.0,264.3 L165.5,264.3 L166.0,264.8 L166.5,265.2 L167.0,265.2 L167.5,265.4 L168.0,265.3 L168.5,265.1 L169.0,264.7 L169.5,264.7 L170.0,264.6 L170.5,265.2 L171.0,265.3 L171.5,264.7 L172.0,265.2 L172.5,265.3 L173.0,265.6 L173.5,265.8 L174.0,265.1 L174.5,264.8 L175.0,264.9 L175.5,265.6 L176.0,265.8 L176.5,266.1 L177.0,265.9 L177.5,265.8 L178.0,266.0 L178.5,266.1 L179.0,266.7 L179.5,266.6 L180.0,266.2 L180.5,266.2 L181.0,266.9 L181.5,266.9 L182.0,266.8 L182.5,267.3 L183.0,266.9 L183.5,267.2 L184.0,267.2 L184.5,267.5 L185.0,267.2 L185.5,267.2 L186.0,267.5 L186.5,268.2 L187.0,268.3 L187.5,268.9 L188.0,268.7 L188.5,268.3 L189.0,268.9 L189.5,268.9 L190.0,269.0 L190.5,269.2 L191.0,269.0 L191.5,268.8 L192.0,268.9 L192.5,269.2 L193.0,269.0 L193.5,269.6 L194.0,269.5 L194.5,269.6 L195.0,269.6 L195.5,269.6 L196.0,270.2 L196.5,270.3 L197.0,270.6 L197.5,270.5 L198.0,270.3 L198.5,270.5 L199.0,271.3" fill="none" stroke="#ed7d31" stroke-width="2.3" stroke-linejoin="round"/>
<path d="M41.0,275.3 L41.5,275.1 L42.0,275.2 L42.5,275.0 L43.0,274.9 L43.5,275.4 L44.0,275.7 L44.5,275.1 L45.0,275.3 L45.5,275.4 L46.0,274.7 L46.5,274.8 L47.0,274.5 L47.5,274.7 L48.0,274.7 L48.5,275.1 L49.0,274.9 L49.5,274.5 L50.0,274.6 L50.5,274.5 L51.0,274.4 L51.5,275.0 L52.0,274.7 L52.5,274.6 L53.0,274.9 L53.5,275.3 L54.0,274.7 L54.5,274.7 L55.0,274.4 L55.5,274.1 L56.0,274.0 L56.5,273.8 L57.0,274.1 L57.5,273.9 L58.0,274.1 L58.5,273.7 L59.0,273.5 L59.5,274.1 L60.0,274.4 L60.5,274.5 L61.0,273.7 L61.5,273.8 L62.0,273.6 L62.5,273.7 L63.0,273.5 L63.5,273.5 L64.0,273.4 L64.5,273.0 L65.0,272.7 L65.5,272.2 L66.0,271.9 L66.5,271.4 L67.0,271.1 L67.5,270.6 L68.0,270.5 L68.5,270.8 L69.0,270.1 L69.5,269.3 L70.0,268.7 L70.5,268.5 L71.0,267.9 L71.5,267.8 L72.0,266.8 L72.5,266.1 L73.0,265.5 L73.5,265.0 L74.0,263.3 L74.5,261.6 L75.0,260.9 L75.5,259.0 L76.0,257.5 L76.5,255.9 L77.0,253.7 L77.5,250.8 L78.0,247.6 L78.5,244.9 L79.0,241.0 L79.5,237.1 L80.0,231.8 L80.5,228.4 L81.0,232.4 L81.5,236.0 L82.0,239.7 L82.5,242.5 L83.0,245.7 L83.5,248.6 L84.0,250.6 L84.5,253.0 L85.0,254.8 L85.5,256.2 L86.0,257.4 L86.5,258.9 L87.0,260.4 L87.5,260.7 L88.0,261.9 L88.5,262.2 L89.0,262.7 L89.5,263.8 L90.0,264.6 L90.5,265.2 L91.0,265.7 L91.5,266.1 L92.0,266.6 L92.5,267.0 L93.0,267.1 L93.5,267.7 L94.0,268.2 L94.5,268.4 L95.0,269.1 L95.5,269.5 L96.0,269.2 L96.5,269.5 L97.0,269.8 L97.5,270.6 L98.0,270.7 L98.5,270.7 L99.0,271.3 L99.5,271.1 L100.0,271.0 L100.5,271.6 L101.0,271.4 L101.5,271.5 L102.0,271.4 L102.5,271.7 L103.0,271.5 L103.5,271.5 L104.0,272.2 L104.5,272.6 L105.0,272.2 L105.5,271.7 L106.0,272.2 L106.5,272.3 L107.0,272.2 L107.5,272.5 L108.0,272.6 L108.5,272.7 L109.0,272.8 L109.5,272.6 L110.0,272.8 L110.5,272.8 L111.0,272.5 L111.5,273.0 L112.0,272.8 L112.5,272.6 L113.0,272.8 L113.5,273.1 L114.0,272.7 L114.5,273.0 L115.0,273.2 L115.5,273.1 L116.0,272.8 L116.5,273.2 L117.0,273.3 L117.5,273.3 L118.0,272.8 L118.5,272.9 L119.0,272.6 L119.5,273.0 L120.0,273.2 L120.5,272.9 L121.0,272.6 L121.5,272.8 L122.0,273.1 L122.5,273.4 L123.0,273.2 L123.5,273.4 L124.0,273.0 L124.5,272.6 L125.0,273.1 L125.5,273.3 L126.0,272.9 L126.5,272.8 L127.0,272.6 L127.5,272.9 L128.0,273.3 L128.5,273.4 L129.0,273.0 L129.5,273.2 L130.0,273.3 L130.5,273.3 L131.0,273.3 L131.5,273.3 L132.0,272.8 L132.5,273.2 L133.0,273.6 L133.5,273.0 L134.0,272.6 L134.5,272.3 L135.0,272.7 L135.5,272.4 L136.0,272.2 L136.5,272.8 L137.0,272.7 L137.5,272.5 L138.0,272.6 L138.5,272.7 L139.0,273.1 L139.5,273.2 L140.0,273.4 L140.5,273.7 L141.0,273.4 L141.5,273.5 L142.0,273.0 L142.5,273.5 L143.0,272.9 L143.5,272.8 L144.0,272.5 L144.5,272.3 L145.0,272.2 L145.5,272.5 L146.0,273.2 L146.5,272.9 L147.0,273.3 L147.5,273.4 L148.0,273.1 L148.5,273.1 L149.0,273.1 L149.5,272.7 L150.0,272.7 L150.5,273.0 L151.0,273.3 L151.5,272.8 L152.0,272.9 L152.5,272.7 L153.0,273.0 L153.5,273.3 L154.0,273.2 L154.5,272.8 L155.0,273.2 L155.5,272.9 L156.0,272.5 L156.5,272.4 L157.0,272.4 L157.5,273.1 L158.0,273.0 L158.5,272.7 L159.0,273.3 L159.5,273.4 L160.0,272.0 L160.5,271.8 L161.0,271.8 L161.5,271.7 L162.0,271.4 L162.5,272.0 L163.0,272.2 L163.5,272.3 L164.0,272.4 L164.5,272.5 L165.0,271.7 L165.5,271.3 L166.0,271.8 L166.5,271.7 L167.0,271.8 L167.5,271.9 L168.0,271.9 L168.5,271.6 L169.0,271.5 L169.5,271.7 L170.0,271.9 L170.5,272.0 L171.0,272.2 L171.5,271.9 L172.0,271.5 L172.5,271.7 L173.0,272.1 L173.5,272.2 L174.0,272.1 L174.5,271.8 L175.0,271.5 L175.5,271.7 L176.0,271.4 L176.5,271.5 L177.0,271.7 L177.5,271.9 L178.0,271.9 L178.5,271.8 L179.0,271.9 L179.5,271.8 L180.0,272.0 L180.5,272.3 L181.0,272.2 L181.5,272.0 L182.0,272.6 L182.5,272.5 L183.0,272.5 L183.5,272.1 L184.0,271.8 L184.5,272.2 L185.0,271.9 L185.5,271.9 L186.0,272.4 L186.5,272.5 L187.0,273.0 L187.5,272.5 L188.0,272.5 L188.5,272.2 L189.0,272.2 L189.5,272.3 L190.0,272.3 L190.5,272.5 L191.0,273.1 L191.5,273.0 L192.0,273.5 L192.5,273.7 L193.0,273.2 L193.5,273.7 L194.0,273.9 L194.5,274.0 L195.0,273.4 L195.5,273.7 L196.0,274.0 L196.5,273.5 L197.0,273.8 L197.5,273.4 L198.0,273.3 L198.5,273.1 L199.0,272.8" fill="none" stroke="#a5a5a5" stroke-width="2.3" stroke-linejoin="round"/>
<path d="M41.0,274.8 L41.5,275.1 L42.0,275.0 L42.5,275.1 L43.0,275.3 L43.5,275.1 L44.0,274.4 L44.5,274.2 L45.0,274.0 L45.5,274.5 L46.0,274.4 L46.5,274.7 L47.0,274.9 L47.5,275.1 L48.0,275.1 L48.5,274.4 L49.0,274.1 L49.5,273.9 L50.0,273.8 L50.5,274.3 L51.0,274.5 L51.5,274.3 L52.0,274.1 L52.5,273.8 L53.0,273.6 L53.5,274.3 L54.0,274.1 L54.5,274.0 L55.0,274.0 L55.5,274.4 L56.0,274.3 L56.5,274.6 L57.0,273.9 L57.5,273.6 L58.0,273.6 L58.5,273.9 L59.0,273.4 L59.5,273.5 L60.0,273.1 L60.5,272.9 L61.0,273.1 L61.5,273.3 L62.0,273.2 L62.5,273.2 L63.0,273.4 L63.5,273.4 L64.0,272.8 L64.5,273.1 L65.0,273.2 L65.5,272.7 L66.0,272.6 L66.5,272.2 L67.0,271.9 L67.5,271.7 L68.0,270.8 L68.5,271.0 L69.0,270.7 L69.5,270.5 L70.0,269.8 L70.5,269.5 L71.0,269.0 L71.5,268.1 L72.0,267.7 L72.5,266.9 L73.0,265.7 L73.5,265.4 L74.0,264.8 L74.5,263.7 L75.0,262.0 L75.5,260.5 L76.0,259.3 L76.5,257.6 L77.0,255.8 L77.5,253.5 L78.0,251.2 L78.5,247.9 L79.0,244.1 L79.5,239.9 L80.0,235.6 L80.5,232.3 L81.0,237.2 L81.5,241.0 L82.0,243.6 L82.5,246.3 L83.0,249.1 L83.5,251.0 L84.0,253.1 L84.5,254.7 L85.0,256.7 L85.5,258.5 L86.0,259.8 L86.5,261.3 L87.0,262.2 L87.5,262.6 L88.0,263.7 L88.5,265.0 L89.0,265.9 L89.5,266.6 L90.0,266.6 L90.5,267.3 L91.0,267.9 L91.5,268.6 L92.0,268.3 L92.5,268.9 L93.0,269.5 L93.5,270.2 L94.0,270.7 L94.5,271.0 L95.0,270.8 L95.5,271.2 L96.0,271.7 L96.5,271.6 L97.0,271.9 L97.5,271.4 L98.0,272.0 L98.5,272.0 L99.0,271.9 L99.5,272.2 L100.0,271.8 L100.5,272.2 L101.0,272.7 L101.5,272.8 L102.0,273.3 L102.5,273.3 L103.0,273.5 L103.5,273.0 L104.0,272.7 L104.5,273.0 L105.0,273.6 L105.5,273.8 L106.0,273.9 L106.5,274.1 L107.0,274.1 L107.5,273.6 L108.0,274.0 L108.5,274.3 L109.0,273.7 L109.5,273.6 L110.0,273.2 L110.5,273.6 L111.0,273.3 L111.5,273.4 L112.0,273.3 L112.5,273.3 L113.0,273.6 L113.5,274.2 L114.0,274.4 L114.5,273.9 L115.0,273.6 L115.5,273.3 L116.0,273.8 L116.5,273.8 L117.0,273.6 L117.5,273.7 L118.0,273.6 L118.5,273.8 L119.0,273.8 L119.5,273.8 L120.0,274.2 L120.5,273.8 L121.0,273.5 L121.5,274.2 L122.0,273.8 L122.5,273.5 L123.0,273.6 L123.5,274.3 L124.0,273.9 L124.5,274.4 L125.0,273.9 L125.5,273.9 L126.0,274.5 L126.5,274.8 L127.0,274.4 L127.5,274.3 L128.0,274.1 L128.5,273.8 L129.0,274.3 L129.5,274.8 L130.0,274.2 L130.5,274.7 L131.0,274.2 L131.5,274.7 L132.0,274.2 L132.5,274.0 L133.0,273.8 L133.5,274.0 L134.0,273.8 L134.5,274.3 L135.0,274.2 L135.5,274.4 L136.0,274.0 L136.5,273.9 L137.0,274.1 L137.5,274.2 L138.0,274.8 L138.5,275.1 L139.0,274.7 L139.5,274.6 L140.0,274.2 L140.5,274.2 L141.0,274.6 L141.5,274.7 L142.0,274.3 L142.5,274.4 L143.0,274.9 L143.5,274.4 L144.0,274.1 L144.5,274.6 L145.0,274.5 L145.5,274.6 L146.0,274.3 L146.5,274.5 L147.0,274.8 L147.5,274.7 L148.0,274.1 L148.5,274.7 L149.0,275.0 L149.5,274.7 L150.0,274.2 L150.5,274.3 L151.0,274.5 L151.5,274.1 L152.0,274.0 L152.5,274.6 L153.0,274.2 L153.5,274.6 L154.0,274.8 L154.5,274.4 L155.0,274.5 L155.5,274.2 L156.0,274.7 L156.5,274.3 L157.0,274.7 L157.5,275.0 L158.0,274.8 L158.5,274.9 L159.0,274.7 L159.5,274.2 L160.0,272.4 L160.5,273.1 L161.0,273.2 L161.5,273.0 L162.0,272.9 L162.5,272.7 L163.0,272.7 L163.5,273.2 L164.0,273.3 L164.5,272.8 L165.0,272.9 L165.5,272.6 L166.0,272.2 L166.5,272.3 L167.0,272.3 L167.5,272.4 L168.0,272.8 L168.5,272.4 L169.0,272.6 L169.5,272.3 L170.0,272.7 L170.5,272.4 L171.0,272.3 L171.5,272.4 L172.0,272.6 L172.5,273.0 L173.0,272.7 L173.5,272.9 L174.0,272.7 L174.5,273.1 L175.0,273.5 L175.5,273.6 L176.0,273.0 L176.5,273.3 L177.0,272.8 L177.5,273.0 L178.0,273.0 L178.5,273.2 L179.0,273.0 L179.5,273.5 L180.0,273.4 L180.5,272.9 L181.0,273.3 L181.5,273.1 L182.0,273.4 L182.5,273.5 L183.0,273.9 L183.5,274.2 L184.0,273.4 L184.5,273.1 L185.0,272.9 L185.5,272.8 L186.0,272.6 L186.5,273.3 L187.0,273.3 L187.5,273.4 L188.0,273.4 L188.5,273.0 L189.0,273.0 L189.5,272.8 L190.0,273.5 L190.5,273.4 L191.0,273.4 L191.5,273.3 L192.0,273.3 L192.5,273.2 L193.0,273.6 L193.5,273.3 L194.0,273.6 L194.5,273.6 L195.0,273.3 L195.5,273.4 L196.0,273.8 L196.5,274.1 L197.0,274.3 L197.5,274.0 L198.0,273.5 L198.5,273.4 L199.0,273.8" fill="none" stroke="#ffc000" stroke-width="2.3" stroke-linejoin="round"/>
<line x1="40.6" y1="202.4" x2="40.6" y2="289.5" stroke="#444" stroke-width="1"/>
<line x1="40.6" y1="289.5" x2="199.0" y2="289.5" stroke="#444" stroke-width="1"/>
<line x1="38.1" y1="289.5" x2="40.6" y2="289.5" stroke="#444" stroke-width="0.8"/>
<text x="33.5" y="292.34" font-size="8.0" text-anchor="end">0</text>
<line x1="38.1" y1="277.1" x2="40.6" y2="277.1" stroke="#444" stroke-width="0.8"/>
<text x="33.5" y="279.89" font-size="8.0" text-anchor="end">0.5</text>
<line x1="38.1" y1="264.6" x2="40.6" y2="264.6" stroke="#444" stroke-width="0.8"/>
<text x="33.5" y="267.44" font-size="8.0" text-anchor="end">1</text>
<line x1="38.1" y1="252.2" x2="40.6" y2="252.2" stroke="#444" stroke-width="0.8"/>
<text x="33.5" y="254.99" font-size="8.0" text-anchor="end">1.5</text>
<line x1="38.1" y1="239.7" x2="40.6" y2="239.7" stroke="#444" stroke-width="0.8"/>
<text x="33.5" y="242.54" font-size="8.0" text-anchor="end">2</text>
<line x1="38.1" y1="227.2" x2="40.6" y2="227.2" stroke="#444" stroke-width="0.8"/>
<text x="33.5" y="230.09" font-size="8.0" text-anchor="end">2.5</text>
<line x1="38.1" y1="214.8" x2="40.6" y2="214.8" stroke="#444" stroke-width="0.8"/>
<text x="33.5" y="217.64" font-size="8.0" text-anchor="end">3</text>
<line x1="38.1" y1="202.4" x2="40.6" y2="202.4" stroke="#444" stroke-width="0.8"/>
<text x="33.5" y="205.19" font-size="8.0" text-anchor="end">3.5</text>
<text transform="translate(12.2,243.5) rotate(-90)" x="0" y="2.84" font-size="8.0" text-anchor="middle" textLength="79.0" lengthAdjust="spacingAndGlyphs">Normalized tag density</text>
<line x1="141.0" y1="205.8" x2="150.4" y2="205.8" stroke="#5b9bd5" stroke-width="2.4"/>
<text x="156.5" y="208.64" font-size="8.0" textLength="18.3" lengthAdjust="spacingAndGlyphs">CTL T</text>
<line x1="141.0" y1="215.0" x2="150.4" y2="215.0" stroke="#ed7d31" stroke-width="2.4"/>
<text x="156.5" y="217.84" font-size="8.0" textLength="20.2" lengthAdjust="spacingAndGlyphs">CAR-T</text>
<line x1="141.0" y1="224.0" x2="150.4" y2="224.0" stroke="#a5a5a5" stroke-width="2.4"/>
<text x="156.5" y="226.84" font-size="8.0" textLength="17.0" lengthAdjust="spacingAndGlyphs">THZ1</text>
<line x1="141.0" y1="233.0" x2="150.4" y2="233.0" stroke="#ffc000" stroke-width="2.4"/>
<text x="156.5" y="235.84" font-size="8.0" textLength="46.2" lengthAdjust="spacingAndGlyphs">THZ1 + CAR-T</text>
<line x1="39.6" y1="304.0" x2="197.7" y2="304.0" stroke="#111" stroke-width="1.2"/>
<rect x="82.3" y="299.8" width="87.9" height="6.5" fill="#dcdcdc" stroke="#111" stroke-width="1.1"/>
<path d="M82.3,299.8V295.0H92.3" fill="none" stroke="#111" stroke-width="1.1"/>
<path d="M91.3,292.5L96.5,295.0L91.3,297.5Z" fill="#111"/>
<text x="38.0" y="317.84" font-size="8.0" text-anchor="middle" textLength="23.0" lengthAdjust="spacingAndGlyphs">-5.0 Kb</text>
<text x="81.0" y="317.84" font-size="8.0" text-anchor="middle" textLength="11.5" lengthAdjust="spacingAndGlyphs">TSS</text>
<text x="169.2" y="317.84" font-size="8.0" text-anchor="middle" textLength="11.5" lengthAdjust="spacingAndGlyphs">TTS</text>
<text x="197.0" y="317.84" font-size="8.0" text-anchor="middle" textLength="20.0" lengthAdjust="spacingAndGlyphs">5.0 Kb</text>
<text x="262.0" y="179.55" font-size="12.5" style="stroke-width:0.7px">F</text>
<text x="375.0" y="184.44" font-size="8.0" text-anchor="middle" textLength="125.0" lengthAdjust="spacingAndGlyphs">Pol II SerSpho ChIP-seq average gene</text>
<text x="377.5" y="194.20" font-size="8.0" text-anchor="middle" textLength="210.0" lengthAdjust="spacingAndGlyphs">(genes induced by CAR-T, but suppressed by THZ1, <tspan font-style="italic">n</tspan> = 1,585)</text>
<path d="M297.5,273.7 L298.0,273.6 L298.5,273.2 L299.0,273.4 L299.5,273.5 L300.0,273.5 L300.5,273.8 L301.0,273.7 L301.5,273.5 L302.0,273.3 L302.5,273.8 L303.0,273.9 L303.5,274.1 L304.0,273.6 L304.5,273.4 L305.0,273.9 L305.5,273.3 L306.0,273.0 L306.5,273.1 L307.0,273.1 L307.5,273.6 L308.0,274.0 L308.5,273.7 L309.0,274.0 L309.5,274.0 L310.0,274.0 L310.5,274.2 L311.0,273.9 L311.5,273.7 L312.0,273.3 L312.5,273.3 L313.0,273.1 L313.5,273.2 L314.0,273.0 L314.5,273.1 L315.0,273.3 L315.5,272.8 L316.0,272.5 L316.5,272.4 L317.0,272.4 L317.5,272.7 L318.0,273.0 L318.5,273.1 L319.0,273.3 L319.5,272.7 L320.0,272.7 L320.5,272.2 L321.0,272.3 L321.5,271.8 L322.0,271.6 L322.5,272.1 L323.0,272.1 L323.5,271.5 L324.0,271.4 L324.5,270.8 L325.1,270.9 L325.6,271.1 L326.1,270.6 L326.6,270.1 L327.1,270.1 L327.6,270.1 L328.1,269.7 L328.6,268.7 L329.1,268.1 L329.6,268.1 L330.1,267.7 L330.6,267.3 L331.1,266.8 L331.6,265.5 L332.1,264.8 L332.6,263.7 L333.1,262.6 L333.6,261.6 L334.1,260.0 L334.6,258.8 L335.1,256.9 L335.6,255.3 L336.1,253.0 L336.6,250.7 L337.1,248.0 L337.6,244.2 L338.1,240.3 L338.6,236.5 L339.1,231.3 L339.6,231.3 L340.1,234.6 L340.6,237.2 L341.1,239.8 L341.6,242.6 L342.1,244.2 L342.6,246.5 L343.1,248.4 L343.6,249.6 L344.1,251.2 L344.6,252.6 L345.1,254.0 L345.6,255.2 L346.1,255.9 L346.6,256.9 L347.1,257.4 L347.6,258.2 L348.1,258.8 L348.6,259.0 L349.1,259.7 L349.6,260.2 L350.1,260.5 L350.6,261.4 L351.1,262.1 L351.6,262.0 L352.1,262.1 L352.6,262.8 L353.1,263.4 L353.6,263.4 L354.1,263.3 L354.6,264.0 L355.1,263.8 L355.6,263.9 L356.1,264.2 L356.6,264.6 L357.1,265.2 L357.6,265.7 L358.1,265.2 L358.6,265.6 L359.1,265.5 L359.6,265.9 L360.1,265.6 L360.6,265.7 L361.1,266.1 L361.6,266.4 L362.1,266.2 L362.6,266.7 L363.1,266.8 L363.6,266.7 L364.1,266.3 L364.6,266.4 L365.1,266.7 L365.6,266.3 L366.1,266.8 L366.6,267.2 L367.1,267.3 L367.6,267.2 L368.1,267.5 L368.6,267.5 L369.1,267.4 L369.6,267.2 L370.1,267.4 L370.6,267.4 L371.1,266.9 L371.6,266.6 L372.1,266.6 L372.6,266.7 L373.1,266.8 L373.6,267.2 L374.1,267.6 L374.6,267.8 L375.1,267.2 L375.6,267.0 L376.1,266.7 L376.6,267.3 L377.1,267.1 L377.6,267.1 L378.1,267.0 L378.6,267.2 L379.1,266.7 L379.6,267.3 L380.1,267.2 L380.7,267.0 L381.2,266.7 L381.7,266.7 L382.2,266.7 L382.7,266.6 L383.2,266.5 L383.7,266.9 L384.2,266.8 L384.7,266.6 L385.2,266.5 L385.7,266.8 L386.2,266.7 L386.7,266.5 L387.2,266.7 L387.7,266.7 L388.2,267.0 L388.7,266.9 L389.2,266.9 L389.7,267.3 L390.2,267.1 L390.7,266.6 L391.2,266.4 L391.7,266.5 L392.2,266.8 L392.7,266.6 L393.2,266.7 L393.7,266.8 L394.2,266.6 L394.7,267.1 L395.2,266.8 L395.7,267.2 L396.2,267.0 L396.7,267.0 L397.2,267.2 L397.7,266.9 L398.2,266.9 L398.7,266.7 L399.2,266.4 L399.7,266.8 L400.2,267.2 L400.7,267.2 L401.2,266.9 L401.7,267.1 L402.2,267.2 L402.7,266.7 L403.2,266.6 L403.7,266.7 L404.2,266.3 L404.7,266.6 L405.2,266.5 L405.7,266.8 L406.2,266.8 L406.7,266.5 L407.2,266.2 L407.7,266.0 L408.2,266.3 L408.7,266.4 L409.2,266.6 L409.7,266.9 L410.2,266.8 L410.7,266.4 L411.2,266.1 L411.7,266.1 L412.2,265.9 L412.7,266.3 L413.2,266.6 L413.7,266.6 L414.2,266.7 L414.7,266.9 L415.2,266.8 L415.7,266.5 L416.2,266.5 L416.7,266.6 L417.2,266.2 L417.7,265.8 L418.2,266.1 L418.7,266.5 L419.2,266.9 L419.7,266.3 L420.2,266.7 L420.7,266.3 L421.2,266.2 L421.7,266.4 L422.2,263.5 L422.7,264.0 L423.2,264.1 L423.7,264.0 L424.2,264.3 L424.7,263.7 L425.2,263.9 L425.7,264.1 L426.2,264.3 L426.7,263.9 L427.2,263.9 L427.7,263.7 L428.2,263.5 L428.7,263.3 L429.2,263.0 L429.7,263.1 L430.2,263.6 L430.7,263.6 L431.2,263.9 L431.7,264.2 L432.2,264.0 L432.7,263.7 L433.2,263.9 L433.7,264.0 L434.2,264.0 L434.7,263.7 L435.2,263.6 L435.8,263.5 L436.3,263.4 L436.8,263.6 L437.3,263.4 L437.8,263.3 L438.3,264.0 L438.8,263.8 L439.3,263.8 L439.8,264.5 L440.3,264.6 L440.8,264.6 L441.3,264.4 L441.8,264.8 L442.3,264.9 L442.8,264.8 L443.3,264.8 L443.8,264.8 L444.3,265.2 L444.8,265.4 L445.3,265.9 L445.8,265.8 L446.3,265.8 L446.8,265.9 L447.3,266.0 L447.8,266.6 L448.3,266.3 L448.8,266.2 L449.3,266.2 L449.8,266.6 L450.3,266.7 L450.8,267.2 L451.3,267.0 L451.8,267.0 L452.3,267.5 L452.8,268.1 L453.3,268.2 L453.8,268.2 L454.3,268.1 L454.8,268.3 L455.3,268.9 L455.8,268.6 L456.3,269.2 L456.8,268.9 L457.3,269.4 L457.8,269.5 L458.3,269.3 L458.8,269.8 L459.3,270.1 L459.8,270.1 L460.3,269.9 L460.8,269.7 L461.3,269.8 L461.8,269.7 L462.3,270.1 L462.8,270.0" fill="none" stroke="#5b9bd5" stroke-width="2.3" stroke-linejoin="round"/>
<path d="M297.5,271.0 L298.0,270.9 L298.5,270.7 L299.0,271.1 L299.5,271.5 L300.0,271.4 L300.5,271.4 L301.0,270.9 L301.5,270.8 L302.0,270.7 L302.5,270.7 L303.0,270.7 L303.5,271.1 L304.0,271.0 L304.5,271.3 L305.0,270.7 L305.5,271.2 L306.0,270.7 L306.5,271.1 L307.0,270.8 L307.5,270.9 L308.0,270.9 L308.5,270.5 L309.0,271.0 L309.5,271.2 L310.0,270.6 L310.5,270.6 L311.0,270.9 L311.5,270.3 L312.0,270.0 L312.5,270.5 L313.0,270.5 L313.5,270.7 L314.0,270.7 L314.5,270.4 L315.0,270.6 L315.5,270.2 L316.0,270.5 L316.5,270.5 L317.0,269.9 L317.5,269.9 L318.0,269.8 L318.5,269.6 L319.0,269.5 L319.5,269.4 L320.0,269.7 L320.5,269.1 L321.0,268.5 L321.5,268.1 L322.0,268.0 L322.5,268.1 L323.0,268.1 L323.5,267.7 L324.0,267.3 L324.5,267.4 L325.1,267.3 L325.6,266.9 L326.1,266.4 L326.6,265.6 L327.1,265.2 L327.6,265.2 L328.1,264.2 L328.6,263.7 L329.1,263.1 L329.6,262.6 L330.1,261.8 L330.6,260.9 L331.1,259.6 L331.6,259.0 L332.1,257.7 L332.6,256.6 L333.1,254.9 L333.6,253.6 L334.1,251.9 L334.6,249.9 L335.1,247.3 L335.6,245.2 L336.1,242.2 L336.6,239.2 L337.1,235.6 L337.6,231.4 L338.1,226.4 L338.6,221.3 L339.1,215.0 L339.6,214.5 L340.1,217.5 L340.6,220.8 L341.1,223.9 L341.6,226.2 L342.1,228.2 L342.6,231.0 L343.1,233.1 L343.6,234.6 L344.1,236.5 L344.6,238.2 L345.1,240.0 L345.6,241.5 L346.1,242.4 L346.6,243.0 L347.1,243.7 L347.6,244.9 L348.1,246.4 L348.6,247.4 L349.1,247.8 L349.6,248.3 L350.1,249.0 L350.6,250.1 L351.1,250.7 L351.6,251.3 L352.1,251.7 L352.6,252.5 L353.1,252.5 L353.6,252.7 L354.1,253.6 L354.6,254.2 L355.1,254.2 L355.6,254.9 L356.1,254.8 L356.6,255.2 L357.1,255.4 L357.6,255.7 L358.1,256.3 L358.6,256.7 L359.1,257.1 L359.6,257.0 L360.1,257.1 L360.6,257.6 L361.1,257.4 L361.6,257.7 L362.1,258.1 L362.6,258.3 L363.1,257.9 L363.6,258.1 L364.1,258.3 L364.6,258.1 L365.1,258.0 L365.6,258.2 L366.1,258.6 L366.6,258.8 L367.1,258.6 L367.6,258.7 L368.1,258.9 L368.6,259.3 L369.1,259.5 L369.6,259.4 L370.1,259.4 L370.6,260.0 L371.1,259.7 L371.6,259.4 L372.1,259.3 L372.6,259.2 L373.1,259.2 L373.6,259.5 L374.1,259.4 L374.6,259.8 L375.1,260.2 L375.6,260.3 L376.1,260.4 L376.6,259.9 L377.1,259.8 L377.6,259.9 L378.1,259.9 L378.6,260.4 L379.1,260.3 L379.6,260.1 L380.1,260.2 L380.7,260.4 L381.2,260.4 L381.7,260.5 L382.2,260.2 L382.7,260.5 L383.2,260.8 L383.7,260.7 L384.2,260.4 L384.7,260.1 L385.2,260.0 L385.7,259.7 L386.2,260.0 L386.7,260.5 L387.2,260.4 L387.7,260.4 L388.2,260.6 L388.7,260.3 L389.2,260.4 L389.7,260.5 L390.2,260.5 L390.7,260.0 L391.2,260.4 L391.7,260.4 L392.2,260.5 L392.7,260.6 L393.2,260.4 L393.7,260.5 L394.2,259.9 L394.7,260.0 L395.2,259.8 L395.7,260.2 L396.2,260.1 L396.7,259.9 L397.2,259.6 L397.7,260.0 L398.2,260.0 L398.7,259.6 L399.2,259.4 L399.7,259.8 L400.2,259.8 L400.7,259.5 L401.2,259.7 L401.7,259.6 L402.2,259.5 L402.7,259.2 L403.2,259.3 L403.7,259.3 L404.2,259.6 L404.7,259.4 L405.2,259.6 L405.7,259.6 L406.2,259.7 L406.7,259.8 L407.2,260.0 L407.7,260.0 L408.2,259.8 L408.7,259.8 L409.2,260.1 L409.7,259.5 L410.2,259.6 L410.7,259.1 L411.2,259.1 L411.7,259.3 L412.2,259.0 L412.7,258.7 L413.2,259.1 L413.7,259.5 L414.2,259.2 L414.7,258.9 L415.2,258.9 L415.7,258.7 L416.2,258.9 L416.7,258.9 L417.2,259.2 L417.7,259.2 L418.2,259.2 L418.7,259.2 L419.2,259.2 L419.7,258.8 L420.2,259.1 L420.7,259.3 L421.2,259.3 L421.7,258.7 L422.2,255.3 L422.7,255.7 L423.2,255.3 L423.7,255.0 L424.2,254.9 L424.7,255.2 L425.2,255.0 L425.7,255.3 L426.2,255.7 L426.7,255.2 L427.2,255.0 L427.7,255.4 L428.2,255.1 L428.7,255.6 L429.2,255.7 L429.7,256.0 L430.2,256.0 L430.7,256.1 L431.2,255.6 L431.7,255.7 L432.2,255.8 L432.7,255.9 L433.2,256.0 L433.7,255.7 L434.2,255.8 L434.7,256.4 L435.2,256.3 L435.8,256.5 L436.3,256.7 L436.8,256.9 L437.3,257.0 L437.8,257.0 L438.3,257.3 L438.8,257.5 L439.3,257.8 L439.8,257.9 L440.3,258.3 L440.8,258.6 L441.3,258.8 L441.8,258.8 L442.3,259.2 L442.8,259.0 L443.3,259.4 L443.8,259.4 L444.3,259.6 L444.8,259.5 L445.3,259.8 L445.8,260.3 L446.3,260.7 L446.8,260.9 L447.3,260.9 L447.8,260.9 L448.3,261.7 L448.8,262.2 L449.3,262.6 L449.8,262.9 L450.3,263.2 L450.8,263.6 L451.3,263.6 L451.8,263.8 L452.3,263.6 L452.8,263.5 L453.3,263.3 L453.8,263.3 L454.3,263.5 L454.8,263.5 L455.3,264.4 L455.8,264.9 L456.3,264.7 L456.8,265.0 L457.3,265.5 L457.8,265.4 L458.3,265.7 L458.8,265.9 L459.3,266.3 L459.8,266.6 L460.3,267.1 L460.8,267.0 L461.3,266.7 L461.8,266.6 L462.3,266.8 L462.8,266.8" fill="none" stroke="#ed7d31" stroke-width="2.3" stroke-linejoin="round"/>
<path d="M297.5,274.5 L298.0,274.2 L298.5,274.1 L299.0,273.9 L299.5,274.3 L300.0,274.5 L300.5,274.7 L301.0,274.8 L301.5,274.4 L302.0,274.7 L302.5,274.5 L303.0,274.6 L303.5,274.7 L304.0,274.6 L304.5,274.1 L305.0,274.1 L305.5,274.6 L306.0,274.6 L306.5,274.8 L307.0,274.2 L307.5,274.0 L308.0,273.8 L308.5,273.7 L309.0,273.7 L309.5,273.5 L310.0,273.5 L310.5,274.0 L311.0,273.8 L311.5,273.9 L312.0,273.8 L312.5,273.9 L313.0,274.0 L313.5,274.2 L314.0,274.2 L314.5,274.3 L315.0,274.5 L315.5,274.0 L316.0,273.8 L316.5,273.4 L317.0,273.5 L317.5,273.6 L318.0,273.5 L318.5,273.9 L319.0,273.7 L319.5,273.8 L320.0,274.0 L320.5,274.1 L321.0,273.9 L321.5,273.9 L322.0,273.8 L322.5,273.5 L323.0,273.5 L323.5,273.7 L324.0,273.4 L324.5,273.5 L325.1,273.4 L325.6,273.4 L326.1,273.2 L326.6,273.2 L327.1,272.7 L327.6,272.0 L328.1,272.0 L328.6,271.6 L329.1,271.1 L329.6,271.5 L330.1,271.5 L330.6,270.7 L331.1,270.1 L331.6,269.7 L332.1,269.7 L332.6,269.3 L333.1,268.4 L333.6,267.5 L334.1,266.8 L334.6,266.5 L335.1,265.4 L335.6,264.6 L336.1,263.4 L336.6,262.6 L337.1,260.7 L337.6,259.1 L338.1,257.1 L338.6,255.4 L339.1,252.8 L339.6,252.8 L340.1,254.9 L340.6,256.9 L341.1,258.3 L341.6,259.9 L342.1,261.3 L342.6,262.7 L343.1,263.4 L343.6,264.6 L344.1,265.5 L344.6,266.4 L345.1,266.6 L345.6,267.1 L346.1,267.5 L346.6,268.4 L347.1,268.7 L347.6,269.1 L348.1,269.7 L348.6,270.3 L349.1,269.9 L349.6,270.5 L350.1,270.8 L350.6,271.0 L351.1,271.0 L351.6,271.5 L352.1,271.5 L352.6,271.7 L353.1,271.4 L353.6,272.1 L354.1,272.2 L354.6,272.2 L355.1,271.8 L355.6,272.0 L356.1,272.2 L356.6,272.2 L357.1,272.5 L357.6,273.0 L358.1,272.9 L358.6,272.5 L359.1,272.4 L359.6,272.8 L360.1,272.7 L360.6,272.5 L361.1,272.9 L361.6,272.9 L362.1,273.1 L362.6,273.3 L363.1,273.5 L363.6,273.6 L364.1,273.6 L364.6,273.9 L365.1,273.7 L365.6,273.9 L366.1,273.4 L366.6,273.3 L367.1,273.8 L367.6,273.4 L368.1,273.6 L368.6,273.6 L369.1,273.4 L369.6,273.6 L370.1,273.7 L370.6,273.6 L371.1,273.9 L371.6,273.4 L372.1,273.7 L372.6,273.3 L373.1,273.6 L373.6,273.7 L374.1,273.7 L374.6,274.0 L375.1,274.1 L375.6,274.0 L376.1,273.8 L376.6,273.4 L377.1,273.0 L377.6,273.6 L378.1,273.5 L378.6,273.8 L379.1,273.4 L379.6,273.6 L380.1,273.2 L380.7,273.3 L381.2,273.7 L381.7,274.0 L382.2,274.0 L382.7,273.5 L383.2,273.8 L383.7,273.7 L384.2,273.7 L384.7,273.7 L385.2,273.4 L385.7,273.7 L386.2,273.4 L386.7,273.3 L387.2,273.0 L387.7,273.1 L388.2,272.9 L388.7,273.2 L389.2,273.2 L389.7,273.2 L390.2,273.0 L390.7,272.8 L391.2,273.4 L391.7,273.7 L392.2,273.6 L392.7,273.2 L393.2,273.3 L393.7,273.5 L394.2,273.1 L394.7,273.4 L395.2,273.8 L395.7,274.0 L396.2,274.2 L396.7,273.7 L397.2,273.9 L397.7,273.5 L398.2,273.1 L398.7,272.8 L399.2,272.8 L399.7,273.1 L400.2,273.1 L400.7,272.9 L401.2,272.9 L401.7,273.3 L402.2,273.1 L402.7,273.5 L403.2,273.6 L403.7,273.1 L404.2,273.2 L404.7,273.5 L405.2,273.2 L405.7,273.3 L406.2,273.7 L406.7,274.0 L407.2,273.9 L407.7,273.8 L408.2,273.2 L408.7,273.5 L409.2,273.1 L409.7,272.9 L410.2,273.1 L410.7,272.8 L411.2,272.7 L411.7,273.0 L412.2,273.3 L412.7,273.3 L413.2,273.0 L413.7,273.0 L414.2,273.4 L414.7,273.5 L415.2,273.4 L415.7,273.6 L416.2,273.4 L416.7,273.7 L417.2,273.3 L417.7,273.5 L418.2,273.8 L418.7,273.5 L419.2,273.5 L419.7,273.1 L420.2,273.1 L420.7,273.1 L421.2,272.9 L421.7,273.3 L422.2,271.1 L422.7,271.0 L423.2,271.2 L423.7,270.8 L424.2,271.4 L424.7,271.0 L425.2,271.4 L425.7,271.1 L426.2,271.4 L426.7,271.8 L427.2,271.6 L427.7,271.1 L428.2,271.3 L428.7,271.3 L429.2,271.2 L429.7,271.4 L430.2,271.3 L430.7,271.7 L431.2,271.6 L431.7,271.2 L432.2,271.4 L432.7,271.6 L433.2,271.8 L433.7,271.4 L434.2,271.4 L434.7,271.0 L435.2,270.9 L435.8,271.4 L436.3,271.0 L436.8,270.7 L437.3,270.7 L437.8,270.7 L438.3,270.8 L438.8,270.9 L439.3,271.0 L439.8,271.2 L440.3,271.6 L440.8,272.0 L441.3,271.7 L441.8,271.6 L442.3,272.1 L442.8,271.9 L443.3,271.8 L443.8,271.9 L444.3,271.7 L444.8,271.6 L445.3,271.9 L445.8,271.8 L446.3,272.0 L446.8,272.0 L447.3,272.2 L447.8,271.9 L448.3,272.2 L448.8,271.9 L449.3,272.3 L449.8,272.3 L450.3,272.1 L450.8,272.2 L451.3,272.5 L451.8,273.0 L452.3,273.0 L452.8,273.0 L453.3,272.7 L453.8,272.6 L454.3,272.4 L454.8,272.7 L455.3,273.0 L455.8,273.0 L456.3,272.9 L456.8,273.4 L457.3,273.7 L457.8,273.9 L458.3,273.9 L458.8,273.9 L459.3,273.4 L459.8,273.7 L460.3,273.3 L460.8,273.7 L461.3,274.0 L461.8,273.5 L462.3,274.0 L462.8,274.3" fill="none" stroke="#a5a5a5" stroke-width="2.3" stroke-linejoin="round"/>
<path d="M297.5,274.0 L298.0,273.7 L298.5,273.5 L299.0,273.2 L299.5,273.5 L300.0,273.8 L300.5,273.5 L301.0,273.4 L301.5,273.7 L302.0,273.5 L302.5,273.6 L303.0,273.4 L303.5,273.8 L304.0,273.9 L304.5,273.4 L305.0,273.6 L305.5,273.8 L306.0,273.4 L306.5,273.4 L307.0,273.7 L307.5,273.6 L308.0,273.4 L308.5,273.8 L309.0,273.5 L309.5,273.8 L310.0,273.8 L310.5,274.0 L311.0,274.1 L311.5,273.4 L312.0,273.5 L312.5,273.0 L313.0,273.2 L313.5,273.2 L314.0,272.9 L314.5,272.9 L315.0,273.4 L315.5,273.2 L316.0,273.1 L316.5,273.4 L317.0,273.6 L317.5,273.1 L318.0,273.0 L318.5,273.3 L319.0,273.1 L319.5,273.2 L320.0,272.8 L320.5,272.7 L321.0,273.0 L321.5,272.5 L322.0,272.8 L322.5,272.8 L323.0,272.9 L323.5,272.3 L324.0,272.5 L324.5,272.1 L325.1,272.2 L325.6,271.8 L326.1,271.4 L326.6,271.1 L327.1,270.9 L327.6,270.7 L328.1,270.4 L328.6,270.0 L329.1,270.0 L329.6,269.5 L330.1,269.3 L330.6,268.3 L331.1,267.5 L331.6,267.5 L332.1,267.1 L332.6,266.0 L333.1,265.2 L333.6,264.7 L334.1,263.4 L334.6,261.8 L335.1,260.8 L335.6,259.5 L336.1,257.8 L336.6,255.6 L337.1,253.9 L337.6,251.7 L338.1,249.1 L338.6,245.7 L339.1,242.0 L339.6,241.9 L340.1,244.2 L340.6,246.7 L341.1,248.5 L341.6,249.7 L342.1,251.2 L342.6,252.8 L343.1,253.7 L343.6,255.0 L344.1,256.3 L344.6,257.6 L345.1,258.6 L345.6,259.3 L346.1,260.0 L346.6,260.1 L347.1,260.9 L347.6,261.6 L348.1,261.8 L348.6,261.9 L349.1,262.6 L349.6,262.8 L350.1,263.3 L350.6,263.6 L351.1,263.9 L351.6,263.8 L352.1,264.0 L352.6,264.5 L353.1,264.5 L353.6,265.1 L354.1,265.4 L354.6,265.2 L355.1,265.5 L355.6,265.5 L356.1,266.0 L356.6,265.8 L357.1,266.0 L357.6,266.5 L358.1,266.2 L358.6,266.5 L359.1,266.8 L359.6,267.1 L360.1,267.4 L360.6,267.6 L361.1,267.3 L361.6,267.6 L362.1,267.7 L362.6,267.6 L363.1,267.5 L363.6,267.6 L364.1,267.3 L364.6,267.6 L365.1,267.7 L365.6,267.8 L366.1,268.1 L366.6,268.2 L367.1,268.3 L367.6,267.9 L368.1,268.2 L368.6,267.9 L369.1,268.1 L369.6,267.9 L370.1,267.7 L370.6,267.9 L371.1,267.5 L371.6,267.5 L372.1,267.6 L372.6,268.1 L373.1,268.1 L373.6,268.3 L374.1,268.2 L374.6,267.7 L375.1,267.5 L375.6,268.1 L376.1,267.9 L376.6,267.5 L377.1,267.7 L377.6,268.1 L378.1,267.8 L378.6,267.9 L379.1,267.5 L379.6,267.4 L380.1,267.3 L380.7,267.2 L381.2,267.9 L381.7,267.7 L382.2,267.9 L382.7,268.3 L383.2,268.2 L383.7,268.0 L384.2,268.4 L384.7,268.3 L385.2,267.9 L385.7,267.9 L386.2,267.9 L386.7,268.1 L387.2,267.6 L387.7,267.9 L388.2,267.8 L388.7,267.7 L389.2,268.2 L389.7,267.6 L390.2,268.0 L390.7,267.5 L391.2,267.3 L391.7,267.2 L392.2,267.1 L392.7,267.5 L393.2,267.7 L393.7,267.9 L394.2,267.5 L394.7,268.0 L395.2,268.2 L395.7,267.7 L396.2,267.4 L396.7,267.4 L397.2,267.1 L397.7,267.4 L398.2,267.2 L398.7,267.5 L399.2,267.2 L399.7,267.8 L400.2,267.8 L400.7,267.7 L401.2,267.4 L401.7,267.6 L402.2,267.5 L402.7,267.1 L403.2,267.4 L403.7,267.8 L404.2,268.1 L404.7,267.6 L405.2,267.6 L405.7,267.7 L406.2,267.7 L406.7,268.0 L407.2,268.1 L407.7,268.1 L408.2,268.1 L408.7,267.6 L409.2,267.8 L409.7,268.0 L410.2,267.5 L410.7,267.5 L411.2,267.9 L411.7,267.6 L412.2,267.4 L412.7,267.3 L413.2,267.1 L413.7,267.3 L414.2,267.6 L414.7,267.3 L415.2,267.3 L415.7,267.2 L416.2,267.5 L416.7,267.6 L417.2,267.4 L417.7,267.5 L418.2,267.4 L418.7,267.4 L419.2,267.2 L419.7,267.4 L420.2,267.4 L420.7,267.1 L421.2,267.3 L421.7,267.6 L422.2,266.3 L422.7,266.6 L423.2,266.1 L423.7,266.4 L424.2,266.0 L424.7,266.1 L425.2,266.4 L425.7,266.3 L426.2,266.1 L426.7,266.2 L427.2,266.1 L427.7,266.3 L428.2,265.9 L428.7,266.3 L429.2,266.0 L429.7,266.5 L430.2,266.4 L430.7,266.7 L431.2,266.9 L431.7,266.5 L432.2,266.1 L432.7,266.3 L433.2,266.4 L433.7,266.3 L434.2,266.2 L434.7,266.4 L435.2,266.4 L435.8,266.1 L436.3,266.1 L436.8,266.3 L437.3,266.0 L437.8,265.8 L438.3,266.2 L438.8,266.8 L439.3,267.0 L439.8,266.6 L440.3,267.1 L440.8,267.4 L441.3,267.0 L441.8,267.5 L442.3,267.2 L442.8,267.5 L443.3,267.7 L443.8,267.6 L444.3,268.0 L444.8,267.7 L445.3,267.9 L445.8,267.7 L446.3,267.7 L446.8,268.3 L447.3,268.1 L447.8,267.9 L448.3,268.4 L448.8,268.4 L449.3,268.8 L449.8,268.8 L450.3,268.7 L450.8,268.9 L451.3,269.0 L451.8,269.4 L452.3,269.1 L452.8,269.1 L453.3,269.0 L453.8,269.6 L454.3,269.5 L454.8,270.0 L455.3,269.9 L455.8,270.2 L456.3,269.8 L456.8,270.3 L457.3,270.4 L457.8,270.4 L458.3,270.6 L458.8,271.0 L459.3,270.7 L459.8,270.3 L460.3,270.7 L460.8,270.5 L461.3,270.9 L461.8,271.2 L462.3,271.3 L462.8,270.9" fill="none" stroke="#ffc000" stroke-width="2.3" stroke-linejoin="round"/>
<line x1="297.4" y1="201.0" x2="297.4" y2="288.0" stroke="#444" stroke-width="1"/>
<line x1="297.4" y1="288.0" x2="462.8" y2="288.0" stroke="#444" stroke-width="1"/>
<line x1="294.9" y1="288.0" x2="297.4" y2="288.0" stroke="#444" stroke-width="0.8"/>
<text x="290.5" y="290.84" font-size="8.0" text-anchor="end">0</text>
<line x1="294.9" y1="266.2" x2="297.4" y2="266.2" stroke="#444" stroke-width="0.8"/>
<text x="290.5" y="269.09" font-size="8.0" text-anchor="end">1</text>
<line x1="294.9" y1="244.5" x2="297.4" y2="244.5" stroke="#444" stroke-width="0.8"/>
<text x="290.5" y="247.34" font-size="8.0" text-anchor="end">2</text>
<line x1="294.9" y1="222.8" x2="297.4" y2="222.8" stroke="#444" stroke-width="0.8"/>
<text x="290.5" y="225.59" font-size="8.0" text-anchor="end">3</text>
<line x1="294.9" y1="201.0" x2="297.4" y2="201.0" stroke="#444" stroke-width="0.8"/>
<text x="290.5" y="203.84" font-size="8.0" text-anchor="end">4</text>
<text transform="translate(275.0,245.0) rotate(-90)" x="0" y="2.84" font-size="8.0" text-anchor="middle" textLength="80.0" lengthAdjust="spacingAndGlyphs">Normalized tag density</text>
<line x1="405.8" y1="206.6" x2="415.0" y2="206.6" stroke="#5b9bd5" stroke-width="2.4"/>
<text x="420.8" y="209.44" font-size="8.0" textLength="18.3" lengthAdjust="spacingAndGlyphs">CTL T</text>
<line x1="405.8" y1="216.0" x2="415.0" y2="216.0" stroke="#ed7d31" stroke-width="2.4"/>
<text x="420.8" y="218.84" font-size="8.0" textLength="20.2" lengthAdjust="spacingAndGlyphs">CAR-T</text>
<line x1="405.8" y1="225.0" x2="415.0" y2="225.0" stroke="#a5a5a5" stroke-width="2.4"/>
<text x="420.8" y="227.84" font-size="8.0" textLength="17.0" lengthAdjust="spacingAndGlyphs">THZ1</text>
<line x1="405.8" y1="233.9" x2="415.0" y2="233.9" stroke="#ffc000" stroke-width="2.4"/>
<text x="420.8" y="236.74" font-size="8.0" textLength="46.2" lengthAdjust="spacingAndGlyphs">THZ1 + CAR-T</text>
<line x1="296.4" y1="302.2" x2="458.2" y2="302.2" stroke="#111" stroke-width="1.2"/>
<rect x="343.0" y="298.2" width="87.7" height="6.4" fill="#dcdcdc" stroke="#111" stroke-width="1.1"/>
<path d="M343.0,298.2V293.4H353.0" fill="none" stroke="#111" stroke-width="1.1"/>
<path d="M352.0,290.9L357.2,293.4L352.0,295.9Z" fill="#111"/>
<text x="299.0" y="316.34" font-size="8.0" text-anchor="middle" textLength="23.0" lengthAdjust="spacingAndGlyphs">-5.0 Kb</text>
<text x="341.8" y="316.34" font-size="8.0" text-anchor="middle" textLength="11.5" lengthAdjust="spacingAndGlyphs">TSS</text>
<text x="430.0" y="316.34" font-size="8.0" text-anchor="middle" textLength="11.5" lengthAdjust="spacingAndGlyphs">TTS</text>
<text x="458.0" y="316.34" font-size="8.0" text-anchor="middle" textLength="20.0" lengthAdjust="spacingAndGlyphs">5.0 Kb</text>
<text x="2.0" y="340.95" font-size="12.5" style="stroke-width:0.7px">G</text>
<path d="M35.5,448.8 L36.0,448.0 L36.5,447.6 L37.0,447.7 L37.5,448.3 L38.0,447.3 L38.5,446.7 L39.0,446.9 L39.5,447.1 L40.0,447.7 L40.5,448.6 L41.0,448.2 L41.5,447.5 L42.0,448.2 L42.5,446.9 L43.0,447.3 L43.5,447.6 L44.0,448.1 L44.5,446.2 L45.0,445.6 L45.5,444.9 L46.0,445.0 L46.5,446.3 L47.0,446.3 L47.5,445.9 L48.0,446.5 L48.5,444.9 L49.0,445.1 L49.5,445.7 L50.0,444.5 L50.5,445.2 L51.0,443.8 L51.5,443.9 L52.0,443.7 L52.5,444.0 L53.0,443.7 L53.5,444.1 L54.0,444.6 L54.5,443.0 L55.0,443.3 L55.5,442.2 L56.0,442.7 L56.5,441.1 L57.0,440.3 L57.5,440.0 L58.0,439.6 L58.5,439.7 L59.0,439.3 L59.5,440.3 L60.0,440.0 L60.5,438.8 L61.0,439.4 L61.5,438.0 L62.0,437.1 L62.5,437.4 L63.0,437.6 L63.5,437.3 L64.0,437.1 L64.5,435.5 L65.0,435.6 L65.5,436.4 L66.0,436.4 L66.5,434.9 L67.0,433.1 L67.5,432.9 L68.0,432.6 L68.5,432.1 L69.0,431.0 L69.5,431.3 L70.0,430.4 L70.5,429.6 L71.0,428.8 L71.5,428.9 L72.0,428.7 L72.5,427.9 L73.0,425.7 L73.5,425.3 L74.0,424.2 L74.5,423.7 L75.0,423.5 L75.5,423.0 L76.0,420.5 L76.5,418.5 L77.0,417.7 L77.5,415.9 L78.0,414.2 L78.5,412.0 L79.0,409.7 L79.5,408.8 L80.0,406.0 L80.5,406.0 L81.0,408.6 L81.5,410.2 L82.0,412.6 L82.5,414.9 L83.0,417.0 L83.5,417.4 L84.0,419.6 L84.5,421.6 L85.0,421.6 L85.5,422.0 L86.0,423.3 L86.5,423.6 L87.0,425.8 L87.5,427.1 L88.0,428.0 L88.5,428.6 L89.0,429.8 L89.5,431.0 L90.0,431.4 L90.5,430.6 L91.0,430.1 L91.5,430.6 L92.0,431.8 L92.5,433.2 L93.0,432.6 L93.5,433.5 L94.0,433.7 L94.5,435.6 L95.0,436.5 L95.5,435.8 L96.0,435.7 L96.5,435.6 L97.0,436.3 L97.5,437.3 L98.0,437.7 L98.5,437.4 L99.0,438.7 L99.5,439.0 L100.0,439.9 L100.5,439.5 L101.0,441.1 L101.5,440.6 L102.0,439.9 L102.5,441.6 L103.0,441.5 L103.5,441.4 L104.0,441.0 L104.5,441.4 L105.0,442.5 L105.5,443.0 L106.0,442.1 L106.5,441.7 L107.0,443.3 L107.5,444.5 L108.0,445.2 L108.5,445.9 L109.0,445.5 L109.5,446.0 L110.0,444.7 L110.5,444.5 L111.0,445.6 L111.5,445.4 L112.0,445.8 L112.5,445.8 L113.0,446.4 L113.5,447.0 L114.0,447.3 L114.5,447.1 L115.0,446.3 L115.5,446.3 L116.0,447.4 L116.5,446.6 L117.0,445.8 L117.5,445.6 L118.0,445.5 L118.5,447.3 L119.0,447.3 L119.5,448.3 L120.0,447.3 L120.5,448.1 L121.0,447.4 L121.5,448.1 L122.0,447.5 L122.5,448.0 L123.0,449.0 L123.5,448.8 L124.0,448.9 L124.5,447.7 L125.0,448.4 L125.5,448.3 L126.0,448.2 L126.5,447.2 L127.0,448.6 L127.5,448.3 L128.0,448.4" fill="none" stroke="#5b9bd5" stroke-width="2.3" stroke-linejoin="round"/>
<path d="M35.5,443.8 L36.0,444.9 L36.5,445.8 L37.0,444.1 L37.5,444.9 L38.0,445.4 L38.5,444.5 L39.0,444.6 L39.5,443.4 L40.0,444.0 L40.5,442.8 L41.0,443.4 L41.5,443.0 L42.0,442.0 L42.5,441.9 L43.0,441.2 L43.5,441.3 L44.0,442.7 L44.5,441.6 L45.0,441.5 L45.5,442.0 L46.0,442.5 L46.5,441.2 L47.0,440.9 L47.5,439.9 L48.0,439.6 L48.5,438.8 L49.0,439.2 L49.5,439.0 L50.0,439.0 L50.5,439.6 L51.0,438.4 L51.5,438.9 L52.0,438.1 L52.5,437.1 L53.0,437.0 L53.5,438.0 L54.0,436.9 L54.5,436.5 L55.0,437.1 L55.5,437.7 L56.0,436.8 L56.5,437.2 L57.0,435.3 L57.5,434.9 L58.0,434.5 L58.5,434.3 L59.0,433.4 L59.5,432.1 L60.0,432.5 L60.5,432.4 L61.0,431.7 L61.5,431.7 L62.0,430.7 L62.5,430.1 L63.0,429.7 L63.5,428.7 L64.0,428.1 L64.5,428.5 L65.0,426.4 L65.5,426.3 L66.0,425.8 L66.5,425.3 L67.0,423.4 L67.5,421.9 L68.0,421.7 L68.5,421.5 L69.0,421.6 L69.5,419.6 L70.0,419.6 L70.5,418.3 L71.0,417.6 L71.5,416.7 L72.0,415.7 L72.5,414.9 L73.0,414.3 L73.5,412.3 L74.0,409.9 L74.5,408.2 L75.0,407.6 L75.5,405.4 L76.0,404.9 L76.5,402.9 L77.0,400.0 L77.5,397.2 L78.0,395.5 L78.5,392.7 L79.0,390.6 L79.5,388.0 L80.0,385.0 L80.5,384.7 L81.0,387.7 L81.5,391.0 L82.0,393.3 L82.5,395.7 L83.0,398.5 L83.5,399.9 L84.0,401.4 L84.5,403.3 L85.0,404.4 L85.5,407.6 L86.0,409.0 L86.5,410.0 L87.0,411.8 L87.5,413.7 L88.0,414.1 L88.5,415.4 L89.0,416.9 L89.5,418.7 L90.0,418.1 L90.5,419.5 L91.0,421.2 L91.5,422.3 L92.0,423.3 L92.5,422.7 L93.0,424.3 L93.5,425.3 L94.0,426.6 L94.5,426.8 L95.0,427.8 L95.5,428.3 L96.0,428.0 L96.5,427.6 L97.0,427.8 L97.5,430.0 L98.0,430.7 L98.5,430.3 L99.0,432.1 L99.5,433.0 L100.0,433.1 L100.5,433.5 L101.0,433.2 L101.5,433.2 L102.0,434.0 L102.5,435.1 L103.0,435.9 L103.5,436.5 L104.0,437.5 L104.5,436.9 L105.0,437.8 L105.5,436.8 L106.0,436.9 L106.5,438.4 L107.0,438.4 L107.5,438.3 L108.0,439.7 L108.5,439.6 L109.0,440.6 L109.5,439.7 L110.0,441.0 L110.5,440.5 L111.0,439.4 L111.5,439.2 L112.0,440.6 L112.5,440.8 L113.0,441.9 L113.5,442.2 L114.0,441.2 L114.5,440.9 L115.0,442.6 L115.5,442.8 L116.0,442.4 L116.5,443.3 L117.0,442.5 L117.5,441.9 L118.0,442.3 L118.5,443.1 L119.0,442.5 L119.5,443.0 L120.0,444.0 L120.5,444.5 L121.0,445.1 L121.5,444.0 L122.0,444.1 L122.5,443.8 L123.0,443.4 L123.5,442.9 L124.0,444.4 L124.5,444.8 L125.0,444.0 L125.5,443.9 L126.0,444.7 L126.5,444.6 L127.0,445.6 L127.5,446.3 L128.0,447.0" fill="none" stroke="#ed7d31" stroke-width="2.3" stroke-linejoin="round"/>
<path d="M35.5,448.0 L36.0,447.3 L36.5,447.1 L37.0,448.7 L37.5,448.5 L38.0,448.8 L38.5,448.6 L39.0,449.5 L39.5,449.8 L40.0,449.4 L40.5,449.6 L41.0,449.2 L41.5,449.9 L42.0,450.2 L42.5,448.9 L43.0,448.8 L43.5,448.5 L44.0,447.7 L44.5,448.1 L45.0,449.0 L45.5,447.9 L46.0,447.6 L46.5,447.2 L47.0,447.1 L47.5,446.2 L48.0,446.9 L48.5,446.5 L49.0,447.1 L49.5,446.9 L50.0,446.6 L50.5,447.1 L51.0,447.9 L51.5,447.5 L52.0,446.6 L52.5,446.3 L53.0,446.4 L53.5,446.0 L54.0,446.7 L54.5,447.1 L55.0,447.0 L55.5,445.7 L56.0,446.3 L56.5,446.8 L57.0,447.0 L57.5,447.3 L58.0,446.8 L58.5,445.8 L59.0,444.5 L59.5,444.8 L60.0,444.8 L60.5,444.9 L61.0,444.9 L61.5,443.7 L62.0,443.4 L62.5,443.8 L63.0,444.3 L63.5,443.0 L64.0,442.3 L64.5,441.5 L65.0,442.2 L65.5,441.8 L66.0,440.7 L66.5,440.6 L67.0,439.6 L67.5,440.7 L68.0,439.4 L68.5,440.5 L69.0,440.2 L69.5,440.8 L70.0,439.3 L70.5,438.4 L71.0,437.1 L71.5,436.6 L72.0,435.7 L72.5,435.9 L73.0,434.9 L73.5,434.6 L74.0,435.1 L74.5,433.7 L75.0,434.0 L75.5,434.4 L76.0,434.6 L76.5,433.5 L77.0,433.2 L77.5,431.0 L78.0,429.3 L78.5,429.5 L79.0,429.4 L79.5,428.0 L80.0,427.4 L80.5,427.1 L81.0,427.4 L81.5,429.1 L82.0,430.1 L82.5,429.9 L83.0,431.1 L83.5,432.4 L84.0,432.1 L84.5,432.4 L85.0,432.6 L85.5,433.4 L86.0,434.7 L86.5,435.0 L87.0,435.1 L87.5,435.8 L88.0,437.2 L88.5,438.1 L89.0,438.6 L89.5,438.2 L90.0,438.6 L90.5,438.9 L91.0,438.7 L91.5,440.3 L92.0,440.2 L92.5,440.9 L93.0,440.9 L93.5,440.5 L94.0,441.6 L94.5,440.8 L95.0,442.4 L95.5,442.4 L96.0,442.5 L96.5,443.3 L97.0,443.2 L97.5,443.4 L98.0,443.7 L98.5,443.3 L99.0,444.7 L99.5,444.9 L100.0,444.1 L100.5,445.1 L101.0,444.2 L101.5,445.2 L102.0,444.8 L102.5,445.8 L103.0,445.8 L103.5,445.9 L104.0,446.8 L104.5,446.0 L105.0,446.1 L105.5,445.7 L106.0,445.8 L106.5,446.0 L107.0,446.1 L107.5,446.8 L108.0,445.9 L108.5,447.2 L109.0,446.3 L109.5,445.8 L110.0,446.3 L110.5,446.1 L111.0,446.2 L111.5,446.5 L112.0,447.4 L112.5,447.9 L113.0,448.1 L113.5,448.4 L114.0,447.2 L114.5,447.8 L115.0,448.2 L115.5,448.3 L116.0,447.5 L116.5,447.8 L117.0,447.9 L117.5,448.6 L118.0,449.0 L118.5,449.7 L119.0,449.9 L119.5,449.9 L120.0,448.6 L120.5,448.6 L121.0,449.5 L121.5,449.3 L122.0,450.0 L122.5,449.4 L123.0,449.3 L123.5,448.3 L124.0,449.1 L124.5,448.3 L125.0,449.2 L125.5,448.0 L126.0,448.2 L126.5,449.6 L127.0,448.7 L127.5,449.4 L128.0,449.7" fill="none" stroke="#a5a5a5" stroke-width="2.3" stroke-linejoin="round"/>
<path d="M35.5,448.4 L36.0,447.8 L36.5,448.9 L37.0,447.7 L37.5,448.7 L38.0,448.3 L38.5,449.3 L39.0,448.3 L39.5,449.1 L40.0,448.3 L40.5,447.8 L41.0,447.3 L41.5,447.7 L42.0,447.0 L42.5,446.2 L43.0,447.7 L43.5,447.7 L44.0,446.6 L44.5,446.4 L45.0,446.9 L45.5,447.5 L46.0,446.4 L46.5,447.6 L47.0,446.8 L47.5,446.0 L48.0,447.1 L48.5,447.3 L49.0,447.4 L49.5,446.9 L50.0,446.9 L50.5,445.7 L51.0,444.9 L51.5,445.7 L52.0,444.8 L52.5,446.0 L53.0,446.7 L53.5,445.7 L54.0,444.7 L54.5,444.1 L55.0,443.2 L55.5,442.9 L56.0,444.0 L56.5,443.5 L57.0,442.7 L57.5,444.0 L58.0,443.8 L58.5,444.3 L59.0,444.6 L59.5,443.9 L60.0,442.9 L60.5,441.6 L61.0,442.6 L61.5,442.2 L62.0,440.7 L62.5,440.3 L63.0,440.4 L63.5,441.0 L64.0,440.4 L64.5,440.7 L65.0,439.9 L65.5,439.2 L66.0,439.3 L66.5,438.2 L67.0,438.3 L67.5,438.1 L68.0,437.0 L68.5,437.4 L69.0,437.6 L69.5,436.7 L70.0,436.3 L70.5,434.8 L71.0,435.1 L71.5,434.8 L72.0,435.1 L72.5,434.1 L73.0,433.6 L73.5,432.7 L74.0,431.2 L74.5,431.6 L75.0,429.4 L75.5,428.4 L76.0,427.1 L76.5,426.6 L77.0,425.8 L77.5,425.3 L78.0,424.5 L78.5,423.9 L79.0,422.8 L79.5,421.5 L80.0,420.0 L80.5,419.0 L81.0,420.0 L81.5,421.4 L82.0,424.0 L82.5,425.5 L83.0,426.1 L83.5,426.5 L84.0,427.7 L84.5,428.2 L85.0,428.3 L85.5,430.0 L86.0,431.0 L86.5,431.1 L87.0,432.3 L87.5,432.4 L88.0,433.4 L88.5,435.0 L89.0,435.3 L89.5,436.5 L90.0,435.8 L90.5,435.4 L91.0,436.0 L91.5,435.8 L92.0,437.3 L92.5,437.9 L93.0,439.0 L93.5,440.1 L94.0,439.1 L94.5,440.4 L95.0,439.4 L95.5,439.7 L96.0,439.7 L96.5,441.3 L97.0,440.4 L97.5,440.3 L98.0,441.9 L98.5,442.7 L99.0,443.5 L99.5,443.2 L100.0,444.1 L100.5,443.1 L101.0,443.2 L101.5,443.0 L102.0,443.9 L102.5,443.6 L103.0,444.0 L103.5,443.9 L104.0,444.4 L104.5,443.5 L105.0,443.3 L105.5,443.3 L106.0,444.5 L106.5,445.6 L107.0,446.4 L107.5,447.0 L108.0,445.6 L108.5,446.3 L109.0,445.4 L109.5,446.4 L110.0,446.2 L110.5,446.9 L111.0,447.3 L111.5,446.6 L112.0,446.5 L112.5,445.7 L113.0,446.9 L113.5,447.6 L114.0,448.5 L114.5,448.8 L115.0,447.2 L115.5,447.3 L116.0,447.5 L116.5,448.0 L117.0,447.4 L117.5,447.2 L118.0,448.4 L118.5,449.3 L119.0,449.6 L119.5,448.4 L120.0,447.9 L120.5,448.7 L121.0,449.3 L121.5,449.4 L122.0,448.7 L122.5,448.2 L123.0,449.0 L123.5,449.3 L124.0,449.7 L124.5,448.4 L125.0,448.5 L125.5,447.7 L126.0,448.9 L126.5,448.7 L127.0,448.7 L127.5,447.9 L128.0,448.8" fill="none" stroke="#ffc000" stroke-width="2.3" stroke-linejoin="round"/>
<line x1="35.3" y1="355.3" x2="35.3" y2="468.0" stroke="#333" stroke-width="1"/>
<line x1="35.3" y1="468.0" x2="128.0" y2="468.0" stroke="#333" stroke-width="1"/>
<line x1="32.8" y1="468.0" x2="35.3" y2="468.0" stroke="#333" stroke-width="0.8"/>
<text x="28.0" y="470.84" font-size="8.0" text-anchor="end">0</text>
<line x1="32.8" y1="430.4" x2="35.3" y2="430.4" stroke="#333" stroke-width="0.8"/>
<text x="28.0" y="433.24" font-size="8.0" text-anchor="end">1</text>
<line x1="32.8" y1="392.8" x2="35.3" y2="392.8" stroke="#333" stroke-width="0.8"/>
<text x="28.0" y="395.64" font-size="8.0" text-anchor="end">2</text>
<line x1="32.8" y1="355.2" x2="35.3" y2="355.2" stroke="#333" stroke-width="0.8"/>
<text x="28.0" y="358.04" font-size="8.0" text-anchor="end">3</text>
<text x="33.5" y="479.14" font-size="8.0" text-anchor="middle" textLength="20.5" lengthAdjust="spacingAndGlyphs">-5,000</text>
<text x="80.3" y="479.14" font-size="8.0" text-anchor="middle">0</text>
<text x="126.2" y="479.14" font-size="8.0" text-anchor="middle" textLength="21.5" lengthAdjust="spacingAndGlyphs">+5,000</text>
<text x="21.5" y="491.34" font-size="8.0" textLength="128.3" lengthAdjust="spacingAndGlyphs">Centered on H3K27Ac enhancer sites</text>
<text x="19.5" y="500.64" font-size="8.0" textLength="131.8" lengthAdjust="spacingAndGlyphs">nearby CAR-T-cell–induced genes (bp)</text>
<text transform="translate(14.0,413.5) rotate(-90)" x="0" y="2.84" font-size="8.0" text-anchor="middle" textLength="100.0" lengthAdjust="spacingAndGlyphs">Normalized Pol II tag density</text>
<line x1="85.4" y1="357.5" x2="94.6" y2="357.5" stroke="#5b9bd5" stroke-width="2.4"/>
<text x="101.1" y="360.34" font-size="8.0" textLength="18.3" lengthAdjust="spacingAndGlyphs">CTL T</text>
<line x1="85.4" y1="366.3" x2="94.6" y2="366.3" stroke="#ed7d31" stroke-width="2.4"/>
<text x="101.1" y="369.14" font-size="8.0" textLength="20.2" lengthAdjust="spacingAndGlyphs">CAR-T</text>
<line x1="85.4" y1="375.0" x2="94.6" y2="375.0" stroke="#a5a5a5" stroke-width="2.4"/>
<text x="101.1" y="377.84" font-size="8.0" textLength="17.0" lengthAdjust="spacingAndGlyphs">THZ1</text>
<line x1="85.4" y1="383.6" x2="94.6" y2="383.6" stroke="#ffc000" stroke-width="2.4"/>
<text x="101.1" y="386.44" font-size="8.0" textLength="46.2" lengthAdjust="spacingAndGlyphs">THZ1 + CAR-T</text>
<text x="4.6" y="530.75" font-size="12.5" style="stroke-width:0.7px">I</text>
<path d="M35.5,643.8 L36.0,644.2 L36.5,643.8 L37.0,642.8 L37.5,643.5 L38.0,643.9 L38.5,643.8 L39.0,642.5 L39.5,643.1 L40.0,642.1 L40.5,641.6 L41.0,642.5 L41.5,642.1 L42.0,642.0 L42.5,642.0 L43.0,640.6 L43.5,641.8 L44.0,642.6 L44.5,641.0 L45.0,641.1 L45.5,641.7 L46.0,641.6 L46.5,641.5 L47.0,640.0 L47.5,640.7 L48.0,641.1 L48.5,640.4 L49.0,640.0 L49.5,638.8 L50.0,638.3 L50.5,639.0 L51.0,639.7 L51.6,638.6 L52.1,637.5 L52.6,639.0 L53.1,638.2 L53.6,637.3 L54.1,637.2 L54.6,638.0 L55.1,637.1 L55.6,636.6 L56.1,637.4 L56.6,636.8 L57.1,637.3 L57.6,637.8 L58.1,637.4 L58.6,637.0 L59.1,636.6 L59.6,635.6 L60.1,634.4 L60.6,633.4 L61.1,632.5 L61.6,631.9 L62.1,631.8 L62.6,632.6 L63.1,633.3 L63.6,632.6 L64.1,632.1 L64.6,631.4 L65.1,632.1 L65.6,632.1 L66.1,630.3 L66.6,629.7 L67.1,629.0 L67.6,629.7 L68.1,629.2 L68.6,627.5 L69.1,626.9 L69.6,625.5 L70.1,626.2 L70.6,625.8 L71.1,624.5 L71.6,624.2 L72.1,623.0 L72.6,622.5 L73.1,622.9 L73.6,622.8 L74.1,620.4 L74.6,620.6 L75.1,620.1 L75.6,619.1 L76.1,617.3 L76.6,615.4 L77.1,614.6 L77.6,613.6 L78.1,611.7 L78.6,611.2 L79.1,610.0 L79.6,608.1 L80.1,606.1 L80.6,605.4 L81.1,603.9 L81.6,603.3 L82.2,604.3 L82.7,605.6 L83.2,606.3 L83.7,607.8 L84.2,610.4 L84.7,611.2 L85.2,611.8 L85.7,613.9 L86.2,616.4 L86.7,617.4 L87.2,618.6 L87.7,620.0 L88.2,621.4 L88.7,622.4 L89.2,621.6 L89.7,623.3 L90.2,623.3 L90.7,624.5 L91.2,625.5 L91.7,624.9 L92.2,626.0 L92.7,627.2 L93.2,627.5 L93.7,627.3 L94.2,627.8 L94.7,627.6 L95.2,628.7 L95.7,629.2 L96.2,629.3 L96.7,630.1 L97.2,630.2 L97.7,631.0 L98.2,632.3 L98.7,633.3 L99.2,632.6 L99.7,632.4 L100.2,632.0 L100.7,632.4 L101.2,633.1 L101.7,634.5 L102.2,634.0 L102.7,635.4 L103.2,635.7 L103.7,636.6 L104.2,636.8 L104.7,637.1 L105.2,637.1 L105.7,636.6 L106.2,636.8 L106.7,637.7 L107.2,637.1 L107.7,636.9 L108.2,636.7 L108.7,638.4 L109.2,638.2 L109.7,637.6 L110.2,638.7 L110.7,639.5 L111.2,638.7 L111.7,639.3 L112.2,639.7 L112.7,639.0 L113.3,639.7 L113.8,640.5 L114.3,641.1 L114.8,641.2 L115.3,640.5 L115.8,640.9 L116.3,640.2 L116.8,641.5 L117.3,641.9 L117.8,641.3 L118.3,641.4 L118.8,641.4 L119.3,640.4 L119.8,641.4 L120.3,642.2 L120.8,643.1 L121.3,642.7 L121.8,642.9 L122.3,642.6 L122.8,643.5 L123.3,644.1 L123.8,643.7 L124.3,642.6 L124.8,643.0 L125.3,641.9 L125.8,642.0 L126.3,642.5 L126.8,642.0 L127.3,642.9 L127.8,642.7 L128.3,642.0 L128.8,642.3" fill="none" stroke="#5b9bd5" stroke-width="2.3" stroke-linejoin="round"/>
<path d="M35.5,640.2 L36.0,640.4 L36.5,640.2 L37.0,638.8 L37.5,638.7 L38.0,638.2 L38.5,639.1 L39.0,638.8 L39.5,637.7 L40.0,637.8 L40.5,636.8 L41.0,636.3 L41.5,637.1 L42.0,638.3 L42.5,637.3 L43.0,638.0 L43.5,638.6 L44.0,637.3 L44.5,636.2 L45.0,635.5 L45.5,634.7 L46.0,635.8 L46.5,636.7 L47.0,637.0 L47.5,635.2 L48.0,636.0 L48.5,636.2 L49.0,636.6 L49.5,636.6 L50.0,636.6 L50.5,635.7 L51.0,635.5 L51.6,634.9 L52.1,633.1 L52.6,633.6 L53.1,632.3 L53.6,631.5 L54.1,631.3 L54.6,631.0 L55.1,630.3 L55.6,630.1 L56.1,630.6 L56.6,630.5 L57.1,630.5 L57.6,630.0 L58.1,628.2 L58.6,628.1 L59.1,628.7 L59.6,628.0 L60.1,626.6 L60.6,626.4 L61.1,625.4 L61.6,626.0 L62.1,626.2 L62.6,624.7 L63.1,625.0 L63.6,624.3 L64.1,623.4 L64.6,623.1 L65.1,623.0 L65.6,622.6 L66.1,620.0 L66.6,618.8 L67.1,617.1 L67.6,616.8 L68.1,615.2 L68.6,614.1 L69.1,613.6 L69.6,613.2 L70.1,612.5 L70.6,612.4 L71.1,611.5 L71.6,609.8 L72.1,609.4 L72.6,607.3 L73.1,606.3 L73.6,604.9 L74.1,603.0 L74.6,601.7 L75.1,601.5 L75.6,600.4 L76.1,599.7 L76.6,598.4 L77.1,594.8 L77.6,592.6 L78.1,589.6 L78.6,587.2 L79.1,585.8 L79.6,582.4 L80.1,579.2 L80.6,577.0 L81.1,575.1 L81.6,573.9 L82.2,577.8 L82.7,580.7 L83.2,584.1 L83.7,585.6 L84.2,586.8 L84.7,590.0 L85.2,591.4 L85.7,593.4 L86.2,595.4 L86.7,596.3 L87.2,598.7 L87.7,599.7 L88.2,602.5 L88.7,602.7 L89.2,605.0 L89.7,607.3 L90.2,607.2 L90.7,607.9 L91.2,608.8 L91.7,609.6 L92.2,611.3 L92.7,613.3 L93.2,614.4 L93.7,614.0 L94.2,614.0 L94.7,616.0 L95.2,617.1 L95.7,618.0 L96.2,617.8 L96.7,620.0 L97.2,619.8 L97.7,621.2 L98.2,621.6 L98.7,623.1 L99.2,624.3 L99.7,623.5 L100.2,624.1 L100.7,623.6 L101.2,623.7 L101.7,624.3 L102.2,626.3 L102.7,626.6 L103.2,626.1 L103.7,627.0 L104.2,628.7 L104.7,629.7 L105.2,628.6 L105.7,628.1 L106.2,629.7 L106.7,630.6 L107.2,630.3 L107.7,630.8 L108.2,632.0 L108.7,631.0 L109.2,631.4 L109.7,632.3 L110.2,633.7 L110.7,633.6 L111.2,633.1 L111.7,634.2 L112.2,635.2 L112.7,634.4 L113.3,633.6 L113.8,634.5 L114.3,634.9 L114.8,634.8 L115.3,635.2 L115.8,636.3 L116.3,636.8 L116.8,637.3 L117.3,637.7 L117.8,638.2 L118.3,638.0 L118.8,638.2 L119.3,637.1 L119.8,637.6 L120.3,636.6 L120.8,636.4 L121.3,637.5 L121.8,638.5 L122.3,638.2 L122.8,638.3 L123.3,638.3 L123.8,639.3 L124.3,639.0 L124.8,638.4 L125.3,638.7 L125.8,639.4 L126.3,638.4 L126.8,639.2 L127.3,638.2 L127.8,638.3 L128.3,639.9 L128.8,640.0" fill="none" stroke="#ed7d31" stroke-width="2.3" stroke-linejoin="round"/>
<path d="M35.5,647.1 L36.0,646.9 L36.5,646.3 L37.0,647.1 L37.5,646.7 L38.0,646.0 L38.5,645.4 L39.0,646.7 L39.5,646.4 L40.0,646.3 L40.5,646.5 L41.0,645.5 L41.5,645.9 L42.0,646.3 L42.5,645.4 L43.0,645.5 L43.5,646.3 L44.0,646.7 L44.5,646.5 L45.0,647.4 L45.5,646.6 L46.0,645.8 L46.5,646.0 L47.0,645.1 L47.5,644.4 L48.0,644.8 L48.5,644.7 L49.0,645.8 L49.5,646.6 L50.0,645.0 L50.5,645.5 L51.0,645.9 L51.6,644.6 L52.1,644.1 L52.6,645.2 L53.1,645.3 L53.6,645.5 L54.1,645.5 L54.6,646.0 L55.1,645.2 L55.6,645.0 L56.1,644.7 L56.6,644.9 L57.1,645.2 L57.6,645.4 L58.1,643.6 L58.6,642.7 L59.1,642.5 L59.6,643.3 L60.1,643.7 L60.6,643.9 L61.1,643.5 L61.6,643.7 L62.1,643.3 L62.6,643.1 L63.1,642.9 L63.6,641.7 L64.1,641.2 L64.6,640.9 L65.1,640.8 L65.6,640.2 L66.1,639.2 L66.6,639.5 L67.1,640.2 L67.6,639.5 L68.1,639.2 L68.6,637.9 L69.1,638.6 L69.6,637.1 L70.1,637.9 L70.6,637.1 L71.1,636.7 L71.6,636.6 L72.1,635.0 L72.6,634.3 L73.1,634.9 L73.6,634.3 L74.1,633.4 L74.6,634.0 L75.1,634.0 L75.6,632.6 L76.1,631.2 L76.6,630.6 L77.1,630.1 L77.6,629.3 L78.1,629.0 L78.6,627.1 L79.1,625.3 L79.6,624.9 L80.1,625.2 L80.6,624.1 L81.1,621.9 L81.6,621.8 L82.2,624.0 L82.7,625.5 L83.2,625.6 L83.7,626.2 L84.2,627.6 L84.7,628.0 L85.2,628.3 L85.7,628.2 L86.2,628.8 L86.7,630.2 L87.2,630.5 L87.7,630.6 L88.2,631.0 L88.7,631.7 L89.2,632.7 L89.7,633.6 L90.2,633.6 L90.7,634.3 L91.2,634.6 L91.7,636.1 L92.2,637.4 L92.7,638.0 L93.2,637.8 L93.7,637.8 L94.2,638.8 L94.7,639.5 L95.2,638.4 L95.7,639.8 L96.2,638.8 L96.7,638.7 L97.2,639.2 L97.7,638.6 L98.2,639.1 L98.7,641.0 L99.2,640.1 L99.7,640.9 L100.2,640.3 L100.7,640.2 L101.2,641.8 L101.7,643.1 L102.2,643.9 L102.7,642.8 L103.2,642.2 L103.7,643.2 L104.2,644.1 L104.7,644.1 L105.2,643.2 L105.7,642.9 L106.2,642.5 L106.7,642.0 L107.2,642.3 L107.7,642.4 L108.2,644.3 L108.7,645.5 L109.2,644.4 L109.7,644.3 L110.2,644.9 L110.7,645.8 L111.2,645.9 L111.7,646.0 L112.2,645.8 L112.7,645.8 L113.3,646.4 L113.8,647.0 L114.3,647.2 L114.8,647.5 L115.3,647.8 L115.8,647.2 L116.3,647.6 L116.8,646.4 L117.3,646.2 L117.8,646.3 L118.3,646.0 L118.8,646.8 L119.3,647.8 L119.8,648.2 L120.3,648.0 L120.8,647.8 L121.3,647.9 L121.8,647.9 L122.3,646.8 L122.8,647.9 L123.3,647.7 L123.8,647.7 L124.3,647.9 L124.8,647.1 L125.3,647.8 L125.8,648.6 L126.3,648.8 L126.8,647.1 L127.3,647.6 L127.8,648.4 L128.3,646.9 L128.8,646.8" fill="none" stroke="#a5a5a5" stroke-width="2.3" stroke-linejoin="round"/>
<path d="M35.5,641.9 L36.0,641.7 L36.5,640.9 L37.0,640.3 L37.5,640.0 L38.0,640.9 L38.5,640.1 L39.0,640.8 L39.5,641.4 L40.0,642.2 L40.5,641.7 L41.0,642.2 L41.5,642.2 L42.0,641.4 L42.5,640.4 L43.0,639.9 L43.5,641.0 L44.0,641.7 L44.5,641.7 L45.0,640.9 L45.5,639.7 L46.0,639.1 L46.5,638.3 L47.0,638.6 L47.5,638.6 L48.0,639.3 L48.5,639.6 L49.0,640.0 L49.5,639.4 L50.0,638.8 L50.5,638.5 L51.0,638.6 L51.6,638.5 L52.1,638.8 L52.6,637.6 L53.1,637.3 L53.6,636.7 L54.1,636.1 L54.6,636.8 L55.1,637.5 L55.6,637.5 L56.1,635.9 L56.6,635.2 L57.1,635.5 L57.6,634.7 L58.1,635.1 L58.6,634.1 L59.1,635.1 L59.6,634.1 L60.1,632.8 L60.6,633.2 L61.1,633.1 L61.6,633.7 L62.1,633.6 L62.6,633.5 L63.1,633.1 L63.6,633.2 L64.1,632.6 L64.6,632.5 L65.1,631.3 L65.6,630.7 L66.1,630.5 L66.6,628.6 L67.1,628.7 L67.6,628.0 L68.1,626.5 L68.6,625.8 L69.1,624.6 L69.6,624.4 L70.1,623.5 L70.6,624.5 L71.1,623.3 L71.6,623.2 L72.1,622.9 L72.6,621.3 L73.1,620.2 L73.6,620.0 L74.1,619.5 L74.6,619.0 L75.1,616.9 L75.6,615.9 L76.1,615.6 L76.6,614.4 L77.1,614.2 L77.6,613.1 L78.1,611.4 L78.6,608.6 L79.1,606.6 L79.6,605.3 L80.1,603.3 L80.6,602.4 L81.1,599.9 L81.6,598.1 L82.2,601.6 L82.7,602.6 L83.2,603.8 L83.7,606.4 L84.2,607.5 L84.7,608.3 L85.2,611.2 L85.7,612.6 L86.2,613.6 L86.7,614.2 L87.2,616.1 L87.7,616.5 L88.2,617.2 L88.7,617.6 L89.2,618.5 L89.7,619.0 L90.2,620.2 L90.7,621.3 L91.2,622.4 L91.7,623.5 L92.2,624.3 L92.7,624.9 L93.2,625.7 L93.7,627.0 L94.2,627.4 L94.7,626.7 L95.2,627.8 L95.7,627.2 L96.2,627.4 L96.7,628.5 L97.2,629.9 L97.7,629.4 L98.2,629.1 L98.7,630.5 L99.2,630.7 L99.7,630.8 L100.2,631.3 L100.7,632.9 L101.2,633.7 L101.7,633.2 L102.2,633.3 L102.7,633.4 L103.2,634.4 L103.7,633.8 L104.2,633.8 L104.7,634.5 L105.2,634.2 L105.7,635.4 L106.2,635.7 L106.7,636.0 L107.2,635.3 L107.7,635.0 L108.2,636.3 L108.7,636.1 L109.2,637.2 L109.7,636.6 L110.2,636.3 L110.7,636.7 L111.2,638.4 L111.7,639.0 L112.2,639.6 L112.7,639.4 L113.3,640.3 L113.8,640.9 L114.3,641.2 L114.8,639.7 L115.3,639.5 L115.8,638.8 L116.3,638.3 L116.8,638.9 L117.3,638.6 L117.8,639.5 L118.3,639.6 L118.8,640.8 L119.3,640.9 L119.8,641.8 L120.3,641.5 L120.8,640.3 L121.3,639.5 L121.8,639.6 L122.3,641.3 L122.8,640.2 L123.3,640.7 L123.8,640.6 L124.3,641.2 L124.8,640.8 L125.3,641.6 L125.8,642.6 L126.3,642.4 L126.8,643.0 L127.3,643.2 L127.8,643.5 L128.3,642.5 L128.8,642.0" fill="none" stroke="#ffc000" stroke-width="2.3" stroke-linejoin="round"/>
<line x1="35.4" y1="555.5" x2="35.4" y2="667.6" stroke="#333" stroke-width="1"/>
<line x1="35.4" y1="667.6" x2="128.8" y2="667.6" stroke="#333" stroke-width="1"/>
<line x1="32.9" y1="667.6" x2="35.4" y2="667.6" stroke="#333" stroke-width="0.8"/>
<text x="28.0" y="670.44" font-size="8.0" text-anchor="end">0</text>
<line x1="32.9" y1="630.2" x2="35.4" y2="630.2" stroke="#333" stroke-width="0.8"/>
<text x="28.0" y="633.04" font-size="8.0" text-anchor="end">1</text>
<line x1="32.9" y1="592.8" x2="35.4" y2="592.8" stroke="#333" stroke-width="0.8"/>
<text x="28.0" y="595.64" font-size="8.0" text-anchor="end">2</text>
<line x1="32.9" y1="555.4" x2="35.4" y2="555.4" stroke="#333" stroke-width="0.8"/>
<text x="28.0" y="558.24" font-size="8.0" text-anchor="end">3</text>
<text x="36.0" y="679.84" font-size="8.0" text-anchor="middle" textLength="20.5" lengthAdjust="spacingAndGlyphs">-5,000</text>
<text x="82.2" y="679.84" font-size="8.0" text-anchor="middle">0</text>
<text x="128.2" y="679.84" font-size="8.0" text-anchor="middle" textLength="21.5" lengthAdjust="spacingAndGlyphs">+5,000</text>
<text x="21.5" y="690.14" font-size="8.0" textLength="128.3" lengthAdjust="spacingAndGlyphs">Centered on H3K27Ac enhancer sites</text>
<text x="19.5" y="699.44" font-size="8.0" textLength="131.8" lengthAdjust="spacingAndGlyphs">nearby CAR-T-cell–induced genes (bp)</text>
<text transform="translate(13.5,609.0) rotate(-90)" x="0" y="2.84" font-size="8.0" text-anchor="middle" textLength="129.0" lengthAdjust="spacingAndGlyphs">Normalized Pol II SerSPho tag density</text>
<line x1="88.4" y1="562.6" x2="96.2" y2="562.6" stroke="#5b9bd5" stroke-width="2.4"/>
<text x="102.6" y="565.44" font-size="8.0" textLength="18.3" lengthAdjust="spacingAndGlyphs">CTL T</text>
<line x1="88.4" y1="571.5" x2="96.2" y2="571.5" stroke="#ed7d31" stroke-width="2.4"/>
<text x="102.6" y="574.34" font-size="8.0" textLength="20.2" lengthAdjust="spacingAndGlyphs">CAR-T</text>
<line x1="88.4" y1="580.5" x2="96.2" y2="580.5" stroke="#a5a5a5" stroke-width="2.4"/>
<text x="102.6" y="583.34" font-size="8.0" textLength="17.0" lengthAdjust="spacingAndGlyphs">THZ1</text>
<line x1="88.4" y1="589.5" x2="96.2" y2="589.5" stroke="#ffc000" stroke-width="2.4"/>
<text x="102.6" y="592.34" font-size="8.0" textLength="46.2" lengthAdjust="spacingAndGlyphs">THZ1 + CAR-T</text>
<text x="178.5" y="340.15" font-size="12.5" style="stroke-width:0.7px">H</text>
<path d="M218.8,372.5V368.5H244.2V372.5" fill="none" stroke="#555" stroke-width="0.9"/>
<text x="231.0" y="364.84" font-size="8.0" text-anchor="middle" textLength="29.5" lengthAdjust="spacingAndGlyphs">1.44E-36</text>
<path d="M242.3,352.5V349.2H288.5V352.5" fill="none" stroke="#555" stroke-width="0.9"/>
<text x="265.6" y="345.84" font-size="8.0" text-anchor="middle" textLength="29.5" lengthAdjust="spacingAndGlyphs">8.97E-21</text>
<rect x="208.5" y="373.5" width="90.0" height="109.2" fill="none" stroke="#444" stroke-width="1"/>
<line x1="206.0" y1="482.7" x2="208.5" y2="482.7" stroke="#444" stroke-width="0.8"/>
<text x="204.5" y="485.50" font-size="8.0" text-anchor="end">-2</text>
<line x1="206.0" y1="465.8" x2="208.5" y2="465.8" stroke="#444" stroke-width="0.8"/>
<text x="204.5" y="468.64" font-size="8.0" text-anchor="end">0</text>
<line x1="206.0" y1="448.9" x2="208.5" y2="448.9" stroke="#444" stroke-width="0.8"/>
<text x="204.5" y="451.78" font-size="8.0" text-anchor="end">2</text>
<line x1="206.0" y1="432.1" x2="208.5" y2="432.1" stroke="#444" stroke-width="0.8"/>
<text x="204.5" y="434.92" font-size="8.0" text-anchor="end">4</text>
<line x1="206.0" y1="415.2" x2="208.5" y2="415.2" stroke="#444" stroke-width="0.8"/>
<text x="204.5" y="418.06" font-size="8.0" text-anchor="end">6</text>
<line x1="206.0" y1="398.4" x2="208.5" y2="398.4" stroke="#444" stroke-width="0.8"/>
<text x="204.5" y="401.20" font-size="8.0" text-anchor="end">8</text>
<line x1="206.0" y1="381.5" x2="208.5" y2="381.5" stroke="#444" stroke-width="0.8"/>
<text x="204.5" y="384.34" font-size="8.0" text-anchor="end">10</text>
<line x1="219.8" y1="482.7" x2="219.8" y2="485.2" stroke="#444" stroke-width="0.8"/>
<line x1="241.8" y1="482.7" x2="241.8" y2="485.2" stroke="#444" stroke-width="0.8"/>
<line x1="264.0" y1="482.7" x2="264.0" y2="485.2" stroke="#444" stroke-width="0.8"/>
<line x1="286.2" y1="482.7" x2="286.2" y2="485.2" stroke="#444" stroke-width="0.8"/>
<line x1="219.8" y1="415.2" x2="219.8" y2="435.5" stroke="#222" stroke-width="1"/>
<line x1="219.8" y1="448.1" x2="219.8" y2="465.8" stroke="#222" stroke-width="1"/>
<line x1="216.3" y1="415.2" x2="223.3" y2="415.2" stroke="#222" stroke-width="1"/>
<line x1="216.3" y1="465.8" x2="223.3" y2="465.8" stroke="#222" stroke-width="1"/>
<rect x="212.3" y="435.5" width="15.0" height="12.6" fill="#5aa5dc" stroke="#1a2a3a" stroke-width="1"/>
<line x1="212.3" y1="442.2" x2="227.3" y2="442.2" stroke="#111" stroke-width="1.2"/>
<circle cx="219.8" cy="411.8" r="1.3" fill="#6a6a6a"/>
<circle cx="219.8" cy="402.6" r="1.3" fill="#6a6a6a"/>
<circle cx="219.8" cy="395.0" r="1.3" fill="#6a6a6a"/>
<circle cx="219.8" cy="470.0" r="1.3" fill="#6a6a6a"/>
<circle cx="219.8" cy="477.6" r="1.3" fill="#6a6a6a"/>
<line x1="241.8" y1="410.2" x2="241.8" y2="431.2" stroke="#222" stroke-width="1"/>
<line x1="241.8" y1="443.9" x2="241.8" y2="463.3" stroke="#222" stroke-width="1"/>
<line x1="238.3" y1="410.2" x2="245.3" y2="410.2" stroke="#222" stroke-width="1"/>
<line x1="238.3" y1="463.3" x2="245.3" y2="463.3" stroke="#222" stroke-width="1"/>
<rect x="234.3" y="431.2" width="15.0" height="12.6" fill="#5aa5dc" stroke="#1a2a3a" stroke-width="1"/>
<line x1="234.3" y1="436.7" x2="249.3" y2="436.7" stroke="#111" stroke-width="1.2"/>
<circle cx="241.8" cy="408.5" r="1.3" fill="#6a6a6a"/>
<circle cx="241.8" cy="406.8" r="1.3" fill="#6a6a6a"/>
<circle cx="241.8" cy="405.1" r="1.3" fill="#6a6a6a"/>
<circle cx="241.8" cy="403.4" r="1.3" fill="#6a6a6a"/>
<circle cx="241.8" cy="401.7" r="1.3" fill="#6a6a6a"/>
<circle cx="241.8" cy="400.0" r="1.3" fill="#6a6a6a"/>
<circle cx="241.8" cy="392.5" r="1.3" fill="#6a6a6a"/>
<circle cx="241.8" cy="469.2" r="1.3" fill="#6a6a6a"/>
<circle cx="241.8" cy="477.6" r="1.3" fill="#6a6a6a"/>
<line x1="264.0" y1="423.7" x2="264.0" y2="438.8" stroke="#222" stroke-width="1"/>
<line x1="264.0" y1="450.6" x2="264.0" y2="462.4" stroke="#222" stroke-width="1"/>
<line x1="260.5" y1="423.7" x2="267.5" y2="423.7" stroke="#222" stroke-width="1"/>
<line x1="260.5" y1="462.4" x2="267.5" y2="462.4" stroke="#222" stroke-width="1"/>
<rect x="256.5" y="438.8" width="15.0" height="11.8" fill="#5aa5dc" stroke="#1a2a3a" stroke-width="1"/>
<line x1="256.5" y1="444.3" x2="271.5" y2="444.3" stroke="#111" stroke-width="1.2"/>
<circle cx="264.0" cy="422.0" r="1.3" fill="#6a6a6a"/>
<circle cx="264.0" cy="419.4" r="1.3" fill="#6a6a6a"/>
<circle cx="264.0" cy="416.9" r="1.3" fill="#6a6a6a"/>
<circle cx="264.0" cy="415.2" r="1.3" fill="#6a6a6a"/>
<circle cx="264.0" cy="413.5" r="1.3" fill="#6a6a6a"/>
<circle cx="264.0" cy="411.0" r="1.3" fill="#6a6a6a"/>
<circle cx="264.0" cy="465.8" r="1.3" fill="#6a6a6a"/>
<circle cx="264.0" cy="470.0" r="1.3" fill="#6a6a6a"/>
<circle cx="264.0" cy="478.4" r="1.3" fill="#6a6a6a"/>
<line x1="286.2" y1="419.4" x2="286.2" y2="437.6" stroke="#222" stroke-width="1"/>
<line x1="286.2" y1="448.5" x2="286.2" y2="466.6" stroke="#222" stroke-width="1"/>
<line x1="282.7" y1="419.4" x2="289.7" y2="419.4" stroke="#222" stroke-width="1"/>
<line x1="282.7" y1="466.6" x2="289.7" y2="466.6" stroke="#222" stroke-width="1"/>
<rect x="278.7" y="437.6" width="15.0" height="11.0" fill="#5aa5dc" stroke="#1a2a3a" stroke-width="1"/>
<line x1="278.7" y1="442.2" x2="293.7" y2="442.2" stroke="#111" stroke-width="1.2"/>
<circle cx="286.2" cy="417.7" r="1.3" fill="#6a6a6a"/>
<circle cx="286.2" cy="416.1" r="1.3" fill="#6a6a6a"/>
<circle cx="286.2" cy="414.4" r="1.3" fill="#6a6a6a"/>
<circle cx="286.2" cy="412.7" r="1.3" fill="#6a6a6a"/>
<circle cx="286.2" cy="411.0" r="1.3" fill="#6a6a6a"/>
<circle cx="286.2" cy="409.3" r="1.3" fill="#6a6a6a"/>
<circle cx="286.2" cy="472.5" r="1.3" fill="#6a6a6a"/>
<text transform="translate(184.8,425.5) rotate(-90)" x="0" y="2.6" font-size="8.0" text-anchor="middle" textLength="104.0" lengthAdjust="spacingAndGlyphs">Normalized tag density (log<tspan font-size="5" dy="1.5">2</tspan><tspan dy="-1.5">)</tspan></text>
<text x="209.5" y="496.64" font-size="8.0" text-anchor="end" textLength="20.5" lengthAdjust="spacingAndGlyphs">CAR-T</text>
<text x="209.5" y="509.14" font-size="8.0" text-anchor="end" textLength="17.0" lengthAdjust="spacingAndGlyphs">THZ1</text>
<path d="M218.2,493.8H221.4" stroke="#111" stroke-width="1.1"/>
<path d="M239.9,493.8H243.7M241.8,491.9V495.7" stroke="#111" stroke-width="1.2"/>
<path d="M262.4,493.8H265.6" stroke="#111" stroke-width="1.1"/>
<path d="M284.3,493.8H288.1M286.2,491.9V495.7" stroke="#111" stroke-width="1.2"/>
<path d="M218.2,506.3H221.4" stroke="#111" stroke-width="1.1"/>
<path d="M240.2,506.3H243.4" stroke="#111" stroke-width="1.1"/>
<path d="M262.1,506.3H265.9M264.0,504.4V508.2" stroke="#111" stroke-width="1.2"/>
<path d="M284.3,506.3H288.1M286.2,504.4V508.2" stroke="#111" stroke-width="1.2"/>
<text x="179.5" y="533.45" font-size="12.5" style="stroke-width:0.7px">J</text>
<path d="M220.5,566.0V562.0H245.5V566.0" fill="none" stroke="#555" stroke-width="0.9"/>
<text x="231.3" y="557.84" font-size="8.0" text-anchor="middle" textLength="29.5" lengthAdjust="spacingAndGlyphs">2.67E-26</text>
<path d="M245.5,548.0V544.5H295.5V548.0" fill="none" stroke="#555" stroke-width="0.9"/>
<text x="270.3" y="540.84" font-size="8.0" text-anchor="middle" textLength="29.5" lengthAdjust="spacingAndGlyphs">1.93E-39</text>
<rect x="208.5" y="566.3" width="90.3" height="108.7" fill="none" stroke="#444" stroke-width="1"/>
<line x1="206.0" y1="675.4" x2="208.5" y2="675.4" stroke="#444" stroke-width="0.8"/>
<text x="204.5" y="678.24" font-size="8.0" text-anchor="end">-2</text>
<line x1="206.0" y1="658.6" x2="208.5" y2="658.6" stroke="#444" stroke-width="0.8"/>
<text x="204.5" y="661.44" font-size="8.0" text-anchor="end">0</text>
<line x1="206.0" y1="641.8" x2="208.5" y2="641.8" stroke="#444" stroke-width="0.8"/>
<text x="204.5" y="644.64" font-size="8.0" text-anchor="end">2</text>
<line x1="206.0" y1="625.0" x2="208.5" y2="625.0" stroke="#444" stroke-width="0.8"/>
<text x="204.5" y="627.84" font-size="8.0" text-anchor="end">4</text>
<line x1="206.0" y1="608.2" x2="208.5" y2="608.2" stroke="#444" stroke-width="0.8"/>
<text x="204.5" y="611.04" font-size="8.0" text-anchor="end">6</text>
<line x1="206.0" y1="591.4" x2="208.5" y2="591.4" stroke="#444" stroke-width="0.8"/>
<text x="204.5" y="594.24" font-size="8.0" text-anchor="end">8</text>
<line x1="206.0" y1="574.6" x2="208.5" y2="574.6" stroke="#444" stroke-width="0.8"/>
<text x="204.5" y="577.44" font-size="8.0" text-anchor="end">10</text>
<line x1="219.6" y1="675.0" x2="219.6" y2="677.5" stroke="#444" stroke-width="0.8"/>
<line x1="241.8" y1="675.0" x2="241.8" y2="677.5" stroke="#444" stroke-width="0.8"/>
<line x1="264.6" y1="675.0" x2="264.6" y2="677.5" stroke="#444" stroke-width="0.8"/>
<line x1="286.5" y1="675.0" x2="286.5" y2="677.5" stroke="#444" stroke-width="0.8"/>
<line x1="219.6" y1="603.6" x2="219.6" y2="623.3" stroke="#222" stroke-width="1"/>
<line x1="219.6" y1="639.3" x2="219.6" y2="661.1" stroke="#222" stroke-width="1"/>
<line x1="216.1" y1="603.6" x2="223.1" y2="603.6" stroke="#222" stroke-width="1"/>
<line x1="216.1" y1="661.1" x2="223.1" y2="661.1" stroke="#222" stroke-width="1"/>
<rect x="212.1" y="623.3" width="15.0" height="16.0" fill="#5aa5dc" stroke="#1a2a3a" stroke-width="1"/>
<line x1="212.1" y1="632.1" x2="227.1" y2="632.1" stroke="#111" stroke-width="1.2"/>
<circle cx="219.6" cy="601.5" r="1.3" fill="#6a6a6a"/>
<circle cx="219.6" cy="599.8" r="1.3" fill="#6a6a6a"/>
<circle cx="219.6" cy="598.1" r="1.3" fill="#6a6a6a"/>
<circle cx="219.6" cy="662.0" r="1.3" fill="#6a6a6a"/>
<circle cx="219.6" cy="663.6" r="1.3" fill="#6a6a6a"/>
<circle cx="219.6" cy="669.5" r="1.3" fill="#6a6a6a"/>
<line x1="241.8" y1="599.0" x2="241.8" y2="621.2" stroke="#222" stroke-width="1"/>
<line x1="241.8" y1="636.8" x2="241.8" y2="659.4" stroke="#222" stroke-width="1"/>
<line x1="238.3" y1="599.0" x2="245.3" y2="599.0" stroke="#222" stroke-width="1"/>
<line x1="238.3" y1="659.4" x2="245.3" y2="659.4" stroke="#222" stroke-width="1"/>
<rect x="234.3" y="621.2" width="15.0" height="15.5" fill="#5aa5dc" stroke="#1a2a3a" stroke-width="1"/>
<line x1="234.3" y1="628.8" x2="249.3" y2="628.8" stroke="#111" stroke-width="1.2"/>
<circle cx="241.8" cy="595.6" r="1.3" fill="#6a6a6a"/>
<circle cx="241.8" cy="593.9" r="1.3" fill="#6a6a6a"/>
<circle cx="241.8" cy="592.2" r="1.3" fill="#6a6a6a"/>
<circle cx="241.8" cy="590.6" r="1.3" fill="#6a6a6a"/>
<circle cx="241.8" cy="588.9" r="1.3" fill="#6a6a6a"/>
<line x1="264.6" y1="611.6" x2="264.6" y2="629.2" stroke="#222" stroke-width="1"/>
<line x1="264.6" y1="641.4" x2="264.6" y2="658.2" stroke="#222" stroke-width="1"/>
<line x1="261.1" y1="611.6" x2="268.1" y2="611.6" stroke="#222" stroke-width="1"/>
<line x1="261.1" y1="658.2" x2="268.1" y2="658.2" stroke="#222" stroke-width="1"/>
<rect x="257.1" y="629.2" width="15.0" height="12.2" fill="#5aa5dc" stroke="#1a2a3a" stroke-width="1"/>
<line x1="257.1" y1="635.1" x2="272.1" y2="635.1" stroke="#111" stroke-width="1.2"/>
<circle cx="264.6" cy="609.9" r="1.3" fill="#6a6a6a"/>
<circle cx="264.6" cy="608.2" r="1.3" fill="#6a6a6a"/>
<circle cx="264.6" cy="606.5" r="1.3" fill="#6a6a6a"/>
<circle cx="264.6" cy="604.8" r="1.3" fill="#6a6a6a"/>
<circle cx="264.6" cy="603.2" r="1.3" fill="#6a6a6a"/>
<circle cx="264.6" cy="599.8" r="1.3" fill="#6a6a6a"/>
<circle cx="264.6" cy="661.1" r="1.3" fill="#6a6a6a"/>
<circle cx="264.6" cy="662.8" r="1.3" fill="#6a6a6a"/>
<circle cx="264.6" cy="665.3" r="1.3" fill="#6a6a6a"/>
<line x1="286.5" y1="602.3" x2="286.5" y2="625.4" stroke="#222" stroke-width="1"/>
<line x1="286.5" y1="639.3" x2="286.5" y2="659.4" stroke="#222" stroke-width="1"/>
<line x1="283.0" y1="602.3" x2="290.0" y2="602.3" stroke="#222" stroke-width="1"/>
<line x1="283.0" y1="659.4" x2="290.0" y2="659.4" stroke="#222" stroke-width="1"/>
<rect x="279.0" y="625.4" width="15.0" height="13.9" fill="#5aa5dc" stroke="#1a2a3a" stroke-width="1"/>
<line x1="279.0" y1="632.1" x2="294.0" y2="632.1" stroke="#111" stroke-width="1.2"/>
<circle cx="286.5" cy="598.1" r="1.3" fill="#6a6a6a"/>
<circle cx="286.5" cy="594.8" r="1.3" fill="#6a6a6a"/>
<circle cx="286.5" cy="593.1" r="1.3" fill="#6a6a6a"/>
<circle cx="286.5" cy="592.2" r="1.3" fill="#6a6a6a"/>
<circle cx="286.5" cy="662.8" r="1.3" fill="#6a6a6a"/>
<text transform="translate(184.8,620.0) rotate(-90)" x="0" y="2.6" font-size="8.0" text-anchor="middle" textLength="102.0" lengthAdjust="spacingAndGlyphs">Normalized tag density (log<tspan font-size="5" dy="1.5">2</tspan><tspan dy="-1.5">)</tspan></text>
<text x="209.5" y="692.84" font-size="8.0" text-anchor="end" textLength="20.5" lengthAdjust="spacingAndGlyphs">CAR-T</text>
<text x="209.5" y="705.34" font-size="8.0" text-anchor="end" textLength="17.0" lengthAdjust="spacingAndGlyphs">THZ1</text>
<path d="M218.0,690.0H221.2" stroke="#111" stroke-width="1.1"/>
<path d="M239.9,690.0H243.7M241.8,688.1V691.9" stroke="#111" stroke-width="1.2"/>
<path d="M263.0,690.0H266.2" stroke="#111" stroke-width="1.1"/>
<path d="M284.6,690.0H288.4M286.5,688.1V691.9" stroke="#111" stroke-width="1.2"/>
<path d="M218.0,702.5H221.2" stroke="#111" stroke-width="1.1"/>
<path d="M240.2,702.5H243.4" stroke="#111" stroke-width="1.1"/>
<path d="M262.7,702.5H266.5M264.6,700.6V704.4" stroke="#111" stroke-width="1.2"/>
<path d="M284.6,702.5H288.4M286.5,700.6V704.4" stroke="#111" stroke-width="1.2"/>
<text x="327.7" y="340.15" font-size="12.5" style="stroke-width:0.7px">K</text>
<text x="378.7" y="341.64" font-size="8.0" textLength="105.6" lengthAdjust="spacingAndGlyphs">chr5:131,684,408-131,959,357</text>
<text x="428.5" y="351.54" font-size="8.0" text-anchor="middle" textLength="14.0" lengthAdjust="spacingAndGlyphs">IRF1</text>
<path d="M428.6,358.6V355.6H431" fill="none" stroke="#222" stroke-width="1.1"/><path d="M430.4,353.8L432.8,355.6L430.4,357.4Z" fill="#222"/>
<path d="M370.4,373.6L370.9,373.6L371.4,372.6L371.9,373.6L372.4,373.6L372.9,373.6L373.4,373.2L373.9,373.6L374.4,373.6L374.9,372.6L375.4,373.2L375.9,372.8L376.4,373.6L376.9,373.6L377.4,373.6L377.9,373.6L378.4,373.6L378.9,373.1L379.4,373.1L379.9,372.2L380.4,372.5L380.9,373.6L381.4,373.6L381.9,373.6L382.4,373.6L382.9,373.6L383.4,373.0L383.9,373.6L384.4,373.6L384.9,372.8L385.4,372.9L385.9,373.4L386.4,373.3L386.9,372.9L387.4,373.6L387.9,373.6L388.4,373.6L388.9,373.6L389.4,373.6L389.9,373.6L390.4,373.6L390.9,373.6L391.4,373.6L391.9,373.6L392.4,373.3L392.9,373.1L393.4,373.6L393.9,373.6L394.4,373.6L394.9,372.8L395.4,373.6L395.9,373.6L396.4,373.6L396.9,370.9L397.4,368.7L397.9,369.6L398.4,372.6L398.9,373.6L399.4,373.0L399.9,373.6L400.4,373.6L400.9,373.2L401.4,373.6L401.9,372.7L402.4,373.6L402.9,373.3L403.4,373.6L403.9,373.6L404.4,373.6L404.9,372.9L405.4,373.6L405.9,372.9L406.4,373.6L406.9,373.6L407.4,373.6L407.9,373.6L408.4,373.2L408.9,373.6L409.4,373.3L409.9,372.4L410.4,372.8L410.9,373.6L411.4,373.6L411.9,373.2L412.4,373.3L412.9,373.1L413.4,373.6L413.9,373.6L414.4,373.6L414.9,373.6L415.4,373.6L415.9,373.6L416.4,373.6L416.9,373.6L417.4,373.0L417.9,373.6L418.4,373.6L418.9,373.6L419.4,373.1L419.9,373.6L420.4,373.6L420.9,373.4L421.4,373.6L421.9,373.6L422.4,373.6L422.9,373.6L423.4,373.6L423.9,373.6L424.4,373.6L424.9,373.6L425.4,373.6L425.9,373.6L426.4,372.5L426.9,371.9L427.4,371.0L427.9,371.2L428.4,371.6L428.9,371.9L429.4,372.2L429.9,372.4L430.4,372.5L430.9,368.6L431.4,367.6L431.9,370.1L432.4,372.1L432.9,371.7L433.4,371.7L433.9,372.0L434.4,369.7L434.9,365.6L435.4,367.7L435.9,372.2L436.4,372.3L436.9,372.2L437.4,373.6L437.9,372.7L438.4,373.6L438.9,373.6L439.4,373.6L439.9,373.6L440.4,373.2L440.9,373.6L441.4,373.6L441.9,373.3L442.4,373.0L442.9,373.6L443.4,373.6L443.9,373.6L444.4,373.6L444.9,372.8L445.4,373.0L445.9,372.7L446.4,372.9L446.9,373.6L447.4,373.6L447.9,373.6L448.4,373.6L448.9,373.6L449.4,373.6L449.9,373.6L450.4,373.6L450.9,373.6L451.4,372.9L451.9,372.9L452.4,373.6L452.9,373.6L453.4,372.6L453.9,373.4L454.4,373.3L454.9,373.6L455.4,373.6L455.9,373.6L456.4,372.8L456.9,373.6L457.4,373.6L457.9,373.6L458.4,373.6L458.9,373.6L459.4,372.0L459.9,370.2L460.4,371.1L460.9,373.4L461.4,373.6L461.9,373.0L462.4,373.6L462.9,372.8L463.4,373.6L463.9,373.6L464.4,373.6L464.9,372.6L465.4,373.3L465.9,373.6L466.4,373.3L466.9,373.6L467.4,373.0L467.9,373.6L468.4,373.6L468.9,373.6L469.4,373.6L469.9,373.3L470.4,373.6L470.9,373.6L471.4,373.6L471.9,373.6L472.4,373.6L472.9,373.6L473.4,373.6L473.9,373.6L474.4,373.6L474.9,372.8L475.4,373.6L475.9,373.2L476.4,373.6L476.9,373.6L477.4,373.6L477.9,373.6L478.4,373.6L478.9,373.6L479.4,373.6L479.9,373.6L480.4,373.6L480.9,373.3L481.4,373.6L481.9,373.6L482.4,373.3L482.9,373.6L483.4,373.6L483.9,373.3L484.4,373.6L484.9,373.6L485.4,372.8L485.9,373.2L486.4,373.6L486.9,373.1L487.4,373.2L487.7,373.6Z" fill="#c41840" stroke="#c41840" stroke-width="0.3"/>
<path d="M367.2,358.6H370.4V373.6" fill="none" stroke="#333" stroke-width="0.9"/>
<line x1="370.4" y1="373.6" x2="487.7" y2="373.6" stroke="#333" stroke-width="1.1"/>
<text x="363.8" y="360.54" font-size="8.0" text-anchor="end" textLength="8.3" lengthAdjust="spacingAndGlyphs">26</text>
<text x="363.8" y="373.84" font-size="8.0" text-anchor="end">0</text>
<text x="488.3" y="369.24" font-size="8.0" text-anchor="end" textLength="18.3" lengthAdjust="spacingAndGlyphs">CTL T</text>
<path d="M370.4,393.5L370.9,392.9L371.4,393.5L371.9,393.5L372.4,393.5L372.9,393.5L373.4,393.5L373.9,393.5L374.4,393.0L374.9,393.5L375.4,393.5L375.9,393.5L376.4,393.5L376.9,393.5L377.4,393.5L377.9,392.8L378.4,393.5L378.9,393.5L379.4,393.5L379.9,393.5L380.4,393.5L380.9,393.5L381.4,392.9L381.9,393.5L382.4,393.5L382.9,393.5L383.4,393.1L383.9,393.5L384.4,393.5L384.9,393.5L385.4,393.5L385.9,393.5L386.4,393.5L386.9,393.5L387.4,393.5L387.9,393.5L388.4,393.5L388.9,393.5L389.4,393.5L389.9,393.5L390.4,393.5L390.9,393.5L391.4,393.5L391.9,393.5L392.4,393.5L392.9,393.5L393.4,393.5L393.9,393.5L394.4,393.5L394.9,393.5L395.4,393.5L395.9,393.5L396.4,393.5L396.9,392.9L397.4,392.0L397.9,392.5L398.4,393.5L398.9,393.5L399.4,393.5L399.9,392.8L400.4,393.5L400.9,393.5L401.4,393.5L401.9,393.5L402.4,393.5L402.9,393.5L403.4,393.5L403.9,393.5L404.4,393.5L404.9,393.5L405.4,393.0L405.9,393.5L406.4,393.1L406.9,393.5L407.4,393.2L407.9,393.5L408.4,393.5L408.9,393.5L409.4,393.5L409.9,393.5L410.4,393.5L410.9,393.5L411.4,393.5L411.9,393.5L412.4,393.5L412.9,393.5L413.4,393.5L413.9,393.5L414.4,393.5L414.9,393.5L415.4,393.5L415.9,393.2L416.4,393.5L416.9,393.5L417.4,393.5L417.9,393.5L418.4,393.5L418.9,393.5L419.4,393.1L419.9,393.5L420.4,393.5L420.9,393.5L421.4,393.5L421.9,393.5L422.4,393.5L422.9,393.5L423.4,393.5L423.9,393.5L424.4,393.5L424.9,393.5L425.4,393.5L425.9,393.5L426.4,393.2L426.9,393.5L427.4,393.0L427.9,393.5L428.4,393.5L428.9,393.5L429.4,393.5L429.9,393.0L430.4,392.1L430.9,392.5L431.4,393.0L431.9,393.5L432.4,393.5L432.9,393.5L433.4,393.5L433.9,391.3L434.4,388.7L434.9,390.1L435.4,393.2L435.9,393.5L436.4,393.5L436.9,393.5L437.4,393.5L437.9,393.5L438.4,393.5L438.9,393.5L439.4,393.5L439.9,392.9L440.4,392.8L440.9,393.5L441.4,393.5L441.9,393.5L442.4,393.2L442.9,393.5L443.4,393.5L443.9,393.5L444.4,393.1L444.9,393.5L445.4,393.5L445.9,393.5L446.4,393.5L446.9,393.5L447.4,393.5L447.9,392.9L448.4,393.5L448.9,393.5L449.4,393.5L449.9,393.3L450.4,393.5L450.9,393.5L451.4,393.0L451.9,393.5L452.4,393.5L452.9,393.5L453.4,393.5L453.9,393.5L454.4,393.0L454.9,393.5L455.4,393.5L455.9,393.5L456.4,393.5L456.9,393.5L457.4,393.5L457.9,393.5L458.4,393.5L458.9,393.5L459.4,392.9L459.9,392.1L460.4,392.4L460.9,393.5L461.4,393.5L461.9,392.8L462.4,393.5L462.9,393.5L463.4,393.5L463.9,393.5L464.4,393.5L464.9,393.5L465.4,393.2L465.9,393.5L466.4,393.5L466.9,393.5L467.4,393.5L467.9,393.5L468.4,393.5L468.9,393.5L469.4,393.5L469.9,393.5L470.4,393.5L470.9,393.5L471.4,393.5L471.9,393.5L472.4,393.5L472.9,393.5L473.4,393.0L473.9,393.5L474.4,393.5L474.9,393.0L475.4,393.5L475.9,393.1L476.4,393.5L476.9,392.8L477.4,393.0L477.9,393.5L478.4,393.5L478.9,393.5L479.4,393.5L479.9,393.5L480.4,393.5L480.9,393.5L481.4,393.5L481.9,393.5L482.4,393.5L482.9,393.5L483.4,393.5L483.9,393.5L484.4,393.5L484.9,393.5L485.4,393.5L485.9,393.0L486.4,393.5L486.9,393.5L487.4,393.5L487.7,393.5Z" fill="#3a3a3a" stroke="#3a3a3a" stroke-width="0.3"/>
<path d="M367.2,378.5H370.4V393.5" fill="none" stroke="#333" stroke-width="0.9"/>
<line x1="370.4" y1="393.5" x2="487.7" y2="393.5" stroke="#333" stroke-width="1.1"/>
<text x="363.8" y="380.44" font-size="8.0" text-anchor="end" textLength="8.3" lengthAdjust="spacingAndGlyphs">26</text>
<text x="363.8" y="393.74" font-size="8.0" text-anchor="end">0</text>
<text x="488.3" y="389.14" font-size="8.0" text-anchor="end" textLength="17.0" lengthAdjust="spacingAndGlyphs">THZ1</text>
<path d="M370.4,413.3L370.9,413.3L371.4,413.3L371.9,413.3L372.4,413.3L372.9,413.0L373.4,413.3L373.9,412.8L374.4,413.3L374.9,413.3L375.4,413.0L375.9,412.4L376.4,412.9L376.9,413.0L377.4,413.3L377.9,412.8L378.4,413.3L378.9,413.3L379.4,413.3L379.9,413.3L380.4,413.3L380.9,413.3L381.4,412.8L381.9,413.3L382.4,413.3L382.9,413.3L383.4,413.3L383.9,412.9L384.4,412.3L384.9,413.3L385.4,413.3L385.9,413.3L386.4,413.3L386.9,412.7L387.4,412.8L387.9,413.0L388.4,413.3L388.9,412.4L389.4,413.3L389.9,412.7L390.4,413.3L390.9,413.3L391.4,413.3L391.9,413.3L392.4,413.3L392.9,412.7L393.4,413.3L393.9,413.3L394.4,413.3L394.9,413.3L395.4,413.3L395.9,412.7L396.4,412.6L396.9,410.8L397.4,408.3L397.9,409.4L398.4,413.0L398.9,413.3L399.4,413.3L399.9,413.3L400.4,413.3L400.9,413.3L401.4,413.3L401.9,413.3L402.4,413.3L402.9,413.3L403.4,413.3L403.9,413.3L404.4,412.8L404.9,413.3L405.4,412.6L405.9,413.3L406.4,413.3L406.9,413.3L407.4,413.3L407.9,413.3L408.4,413.3L408.9,413.1L409.4,413.3L409.9,413.3L410.4,412.8L410.9,412.4L411.4,412.5L411.9,413.3L412.4,413.3L412.9,412.7L413.4,413.3L413.9,413.3L414.4,413.3L414.9,413.3L415.4,412.3L415.9,411.6L416.4,411.9L416.9,411.6L417.4,412.4L417.9,412.2L418.4,411.8L418.9,412.2L419.4,411.7L419.9,412.3L420.4,411.9L420.9,411.7L421.4,411.7L421.9,412.0L422.4,411.7L422.9,411.9L423.4,411.0L423.9,409.3L424.4,410.1L424.9,412.0L425.4,412.4L425.9,411.9L426.4,407.3L426.9,408.2L427.4,408.8L427.9,407.9L428.4,401.8L428.9,399.5L429.4,403.9L429.9,407.7L430.4,406.5L430.9,407.1L431.4,405.7L431.9,399.3L432.4,398.1L432.9,405.5L433.4,407.1L433.9,407.5L434.4,409.5L434.9,406.8L435.4,408.5L435.9,408.8L436.4,413.3L436.9,413.3L437.4,412.9L437.9,412.4L438.4,413.3L438.9,413.3L439.4,413.3L439.9,413.3L440.4,413.3L440.9,413.3L441.4,412.9L441.9,413.3L442.4,413.3L442.9,413.3L443.4,413.3L443.9,413.3L444.4,413.3L444.9,412.5L445.4,413.3L445.9,413.3L446.4,413.3L446.9,413.0L447.4,413.3L447.9,413.3L448.4,413.3L448.9,413.3L449.4,413.3L449.9,413.1L450.4,412.8L450.9,413.0L451.4,413.3L451.9,413.3L452.4,413.3L452.9,413.3L453.4,413.3L453.9,413.3L454.4,412.9L454.9,413.3L455.4,413.3L455.9,413.3L456.4,412.9L456.9,412.7L457.4,413.3L457.9,413.3L458.4,413.1L458.9,413.3L459.4,412.4L459.9,411.6L460.4,411.9L460.9,413.2L461.4,413.3L461.9,412.5L462.4,413.0L462.9,413.3L463.4,413.3L463.9,413.3L464.4,412.3L464.9,413.3L465.4,412.3L465.9,413.3L466.4,412.7L466.9,413.3L467.4,413.3L467.9,413.3L468.4,413.3L468.9,413.3L469.4,413.3L469.9,413.3L470.4,413.3L470.9,413.3L471.4,412.4L471.9,413.3L472.4,412.4L472.9,413.3L473.4,412.9L473.9,413.3L474.4,413.3L474.9,412.4L475.4,412.5L475.9,413.3L476.4,413.3L476.9,413.3L477.4,413.3L477.9,413.3L478.4,413.3L478.9,413.3L479.4,413.3L479.9,413.3L480.4,413.3L480.9,413.3L481.4,413.3L481.9,413.3L482.4,412.6L482.9,413.3L483.4,413.3L483.9,412.5L484.4,413.3L484.9,413.3L485.4,413.1L485.9,413.3L486.4,413.3L486.9,413.3L487.4,413.3L487.7,413.3Z" fill="#f4a52a" stroke="#f4a52a" stroke-width="0.3"/>
<path d="M367.2,398.3H370.4V413.3" fill="none" stroke="#333" stroke-width="0.9"/>
<line x1="370.4" y1="413.3" x2="487.7" y2="413.3" stroke="#333" stroke-width="1.1"/>
<text x="363.8" y="400.24" font-size="8.0" text-anchor="end" textLength="8.3" lengthAdjust="spacingAndGlyphs">26</text>
<text x="363.8" y="413.54" font-size="8.0" text-anchor="end">0</text>
<text x="488.3" y="408.94" font-size="8.0" text-anchor="end" textLength="20.2" lengthAdjust="spacingAndGlyphs">CAR-T</text>
<path d="M370.4,433.1L370.9,433.1L371.4,433.1L371.9,433.1L372.4,432.6L372.9,433.1L373.4,433.1L373.9,432.8L374.4,433.1L374.9,432.4L375.4,433.1L375.9,433.1L376.4,433.1L376.9,433.1L377.4,433.1L377.9,433.1L378.4,433.1L378.9,433.1L379.4,433.1L379.9,433.1L380.4,433.1L380.9,432.8L381.4,433.1L381.9,432.4L382.4,433.1L382.9,433.1L383.4,432.6L383.9,433.1L384.4,433.1L384.9,433.1L385.4,432.2L385.9,432.4L386.4,433.1L386.9,433.1L387.4,433.1L387.9,433.1L388.4,433.1L388.9,432.5L389.4,432.6L389.9,432.8L390.4,433.1L390.9,432.8L391.4,432.2L391.9,432.8L392.4,433.1L392.9,433.1L393.4,433.1L393.9,433.1L394.4,433.1L394.9,433.1L395.4,433.1L395.9,433.1L396.4,433.1L396.9,431.6L397.4,430.3L397.9,430.8L398.4,432.9L398.9,433.1L399.4,432.5L399.9,433.1L400.4,432.4L400.9,433.1L401.4,433.1L401.9,433.1L402.4,433.1L402.9,433.1L403.4,433.1L403.9,433.1L404.4,433.1L404.9,432.3L405.4,432.8L405.9,433.1L406.4,432.8L406.9,432.7L407.4,432.3L407.9,432.7L408.4,432.5L408.9,432.5L409.4,432.7L409.9,433.1L410.4,432.2L410.9,433.1L411.4,433.1L411.9,433.1L412.4,433.1L412.9,433.1L413.4,433.1L413.9,432.6L414.4,433.1L414.9,433.1L415.4,432.2L415.9,432.6L416.4,433.1L416.9,433.1L417.4,433.1L417.9,432.5L418.4,433.1L418.9,432.6L419.4,433.1L419.9,432.8L420.4,432.3L420.9,433.1L421.4,431.0L421.9,431.7L422.4,431.2L422.9,430.8L423.4,431.8L423.9,431.5L424.4,431.3L424.9,431.0L425.4,431.1L425.9,431.7L426.4,429.1L426.9,428.5L427.4,428.8L427.9,426.7L428.4,424.2L428.9,422.7L429.4,426.1L429.9,429.0L430.4,428.6L430.9,426.1L431.4,427.1L431.9,420.5L432.4,419.0L432.9,425.1L433.4,427.2L433.9,428.1L434.4,428.0L434.9,428.7L435.4,426.7L435.9,426.5L436.4,433.1L436.9,433.1L437.4,433.1L437.9,433.1L438.4,433.1L438.9,433.1L439.4,433.1L439.9,433.1L440.4,432.9L440.9,432.9L441.4,433.1L441.9,433.1L442.4,433.1L442.9,433.1L443.4,433.1L443.9,433.1L444.4,432.5L444.9,433.1L445.4,433.1L445.9,433.1L446.4,433.1L446.9,432.7L447.4,433.1L447.9,432.2L448.4,433.1L448.9,432.3L449.4,432.3L449.9,433.1L450.4,432.6L450.9,433.1L451.4,432.7L451.9,432.4L452.4,432.2L452.9,433.1L453.4,433.1L453.9,432.7L454.4,432.9L454.9,432.4L455.4,433.1L455.9,433.1L456.4,432.4L456.9,433.1L457.4,433.1L457.9,432.8L458.4,433.1L458.9,433.1L459.4,432.5L459.9,431.7L460.4,432.0L460.9,432.5L461.4,433.1L461.9,433.1L462.4,433.1L462.9,433.1L463.4,433.1L463.9,432.5L464.4,433.1L464.9,432.7L465.4,432.2L465.9,432.8L466.4,433.1L466.9,433.1L467.4,433.1L467.9,433.1L468.4,433.1L468.9,433.1L469.4,432.3L469.9,433.1L470.4,433.1L470.9,433.1L471.4,432.7L471.9,433.1L472.4,433.1L472.9,433.1L473.4,432.8L473.9,432.5L474.4,433.1L474.9,433.1L475.4,432.5L475.9,433.1L476.4,433.1L476.9,432.4L477.4,433.1L477.9,432.8L478.4,433.1L478.9,433.1L479.4,432.8L479.9,433.1L480.4,433.1L480.9,433.1L481.4,432.1L481.9,432.8L482.4,432.9L482.9,433.1L483.4,433.1L483.9,433.1L484.4,433.1L484.9,432.6L485.4,433.1L485.9,432.8L486.4,433.1L486.9,433.1L487.4,433.1L487.7,433.1Z" fill="#e8501e" stroke="#e8501e" stroke-width="0.3"/>
<path d="M367.2,418.1H370.4V433.1" fill="none" stroke="#333" stroke-width="0.9"/>
<line x1="370.4" y1="433.1" x2="487.7" y2="433.1" stroke="#333" stroke-width="1.1"/>
<text x="363.8" y="420.04" font-size="8.0" text-anchor="end" textLength="8.3" lengthAdjust="spacingAndGlyphs">26</text>
<text x="363.8" y="433.34" font-size="8.0" text-anchor="end">0</text>
<text x="488.3" y="428.74" font-size="8.0" text-anchor="end" textLength="44.0" lengthAdjust="spacingAndGlyphs">CAR-T + THZ1</text>
<path d="M370.4,452.0L370.9,452.0L371.4,452.0L371.9,452.0L372.4,452.0L372.9,452.0L373.4,452.0L373.9,452.0L374.4,451.5L374.9,452.0L375.4,451.3L375.9,452.0L376.4,451.5L376.9,452.0L377.4,452.0L377.9,452.0L378.4,452.0L378.9,451.0L379.4,450.8L379.9,449.2L380.4,449.8L380.9,452.0L381.4,452.0L381.9,451.1L382.4,452.0L382.9,452.0L383.4,452.0L383.9,452.0L384.4,452.0L384.9,452.0L385.4,452.0L385.9,452.0L386.4,452.0L386.9,452.0L387.4,452.0L387.9,452.0L388.4,452.0L388.9,452.0L389.4,452.0L389.9,452.0L390.4,452.0L390.9,451.5L391.4,452.0L391.9,452.0L392.4,451.7L392.9,452.0L393.4,452.0L393.9,452.0L394.4,452.0L394.9,452.0L395.4,451.6L395.9,451.1L396.4,452.0L396.9,450.2L397.4,448.1L397.9,449.3L398.4,451.7L398.9,452.0L399.4,452.0L399.9,451.1L400.4,452.0L400.9,451.2L401.4,452.0L401.9,452.0L402.4,451.1L402.9,452.0L403.4,451.8L403.9,452.0L404.4,451.7L404.9,452.0L405.4,452.0L405.9,452.0L406.4,451.3L406.9,452.0L407.4,452.0L407.9,452.0L408.4,452.0L408.9,452.0L409.4,452.0L409.9,452.0L410.4,451.7L410.9,452.0L411.4,452.0L411.9,452.0L412.4,451.2L412.9,452.0L413.4,452.0L413.9,452.0L414.4,452.0L414.9,452.0L415.4,452.0L415.9,451.3L416.4,452.0L416.9,452.0L417.4,451.6L417.9,451.6L418.4,452.0L418.9,452.0L419.4,452.0L419.9,451.3L420.4,452.0L420.9,452.0L421.4,452.0L421.9,452.0L422.4,452.0L422.9,452.0L423.4,452.0L423.9,452.0L424.4,452.0L424.9,452.0L425.4,451.1L425.9,452.0L426.4,450.7L426.9,449.4L427.4,449.7L427.9,451.8L428.4,451.4L428.9,452.0L429.4,452.0L429.9,452.0L430.4,451.4L430.9,446.1L431.4,444.5L431.9,448.3L432.4,452.0L432.9,451.6L433.4,447.5L433.9,446.0L434.4,449.1L434.9,452.0L435.4,452.0L435.9,452.0L436.4,452.0L436.9,452.0L437.4,451.4L437.9,452.0L438.4,452.0L438.9,452.0L439.4,452.0L439.9,451.5L440.4,452.0L440.9,452.0L441.4,451.4L441.9,452.0L442.4,452.0L442.9,452.0L443.4,452.0L443.9,452.0L444.4,452.0L444.9,452.0L445.4,451.7L445.9,452.0L446.4,452.0L446.9,452.0L447.4,452.0L447.9,452.0L448.4,452.0L448.9,452.0L449.4,452.0L449.9,452.0L450.4,452.0L450.9,452.0L451.4,451.0L451.9,451.4L452.4,452.0L452.9,451.0L453.4,452.0L453.9,451.5L454.4,451.4L454.9,452.0L455.4,452.0L455.9,451.2L456.4,452.0L456.9,452.0L457.4,451.8L457.9,451.1L458.4,451.8L458.9,452.0L459.4,450.6L459.9,448.6L460.4,449.6L460.9,451.5L461.4,452.0L461.9,452.0L462.4,452.0L462.9,452.0L463.4,452.0L463.9,452.0L464.4,452.0L464.9,452.0L465.4,452.0L465.9,452.0L466.4,452.0L466.9,452.0L467.4,452.0L467.9,452.0L468.4,451.4L468.9,452.0L469.4,452.0L469.9,451.2L470.4,452.0L470.9,452.0L471.4,451.1L471.9,452.0L472.4,451.5L472.9,452.0L473.4,451.1L473.9,452.0L474.4,452.0L474.9,452.0L475.4,452.0L475.9,452.0L476.4,451.3L476.9,452.0L477.4,451.6L477.9,452.0L478.4,451.7L478.9,452.0L479.4,452.0L479.9,452.0L480.4,452.0L480.9,452.0L481.4,451.7L481.9,452.0L482.4,452.0L482.9,452.0L483.4,452.0L483.9,452.0L484.4,452.0L484.9,452.0L485.4,451.4L485.9,452.0L486.4,452.0L486.9,452.0L487.4,451.7L487.7,452.0Z" fill="#3c8c3c" stroke="#3c8c3c" stroke-width="0.3"/>
<path d="M367.2,437.0H370.4V452.0" fill="none" stroke="#333" stroke-width="0.9"/>
<line x1="370.4" y1="452.0" x2="487.7" y2="452.0" stroke="#333" stroke-width="1.1"/>
<text x="363.8" y="438.94" font-size="8.0" text-anchor="end" textLength="8.3" lengthAdjust="spacingAndGlyphs">24</text>
<text x="363.8" y="452.24" font-size="8.0" text-anchor="end">0</text>
<text x="488.3" y="447.64" font-size="8.0" text-anchor="end" textLength="18.3" lengthAdjust="spacingAndGlyphs">CTL T</text>
<path d="M370.4,471.5L370.9,471.5L371.4,471.5L371.9,470.9L372.4,471.5L372.9,471.0L373.4,471.5L373.9,471.5L374.4,471.5L374.9,471.5L375.4,471.5L375.9,471.5L376.4,471.5L376.9,471.5L377.4,471.5L377.9,471.5L378.4,471.5L378.9,471.5L379.4,471.5L379.9,471.2L380.4,471.5L380.9,471.5L381.4,471.5L381.9,471.0L382.4,471.2L382.9,471.5L383.4,471.5L383.9,471.5L384.4,471.5L384.9,471.5L385.4,471.5L385.9,471.5L386.4,471.5L386.9,471.5L387.4,471.5L387.9,471.5L388.4,471.5L388.9,471.5L389.4,471.5L389.9,471.5L390.4,471.5L390.9,471.5L391.4,471.5L391.9,471.5L392.4,471.5L392.9,471.5L393.4,471.5L393.9,471.5L394.4,471.5L394.9,471.5L395.4,471.5L395.9,471.5L396.4,471.5L396.9,471.0L397.4,470.4L397.9,470.7L398.4,471.3L398.9,471.5L399.4,471.5L399.9,471.5L400.4,471.5L400.9,471.5L401.4,471.5L401.9,471.5L402.4,471.5L402.9,471.5L403.4,471.2L403.9,471.5L404.4,471.5L404.9,471.5L405.4,471.0L405.9,471.5L406.4,471.5L406.9,471.5L407.4,471.2L407.9,471.5L408.4,471.5L408.9,471.5L409.4,471.2L409.9,470.9L410.4,471.5L410.9,471.5L411.4,471.5L411.9,471.5L412.4,471.2L412.9,471.5L413.4,471.5L413.9,471.5L414.4,471.5L414.9,471.5L415.4,471.5L415.9,471.5L416.4,471.5L416.9,471.5L417.4,471.5L417.9,471.2L418.4,471.5L418.9,471.5L419.4,471.5L419.9,471.5L420.4,471.2L420.9,471.5L421.4,471.5L421.9,471.5L422.4,471.5L422.9,471.5L423.4,471.5L423.9,471.5L424.4,471.5L424.9,471.5L425.4,471.0L425.9,471.5L426.4,471.5L426.9,471.5L427.4,471.5L427.9,471.5L428.4,471.0L428.9,471.5L429.4,471.5L429.9,471.5L430.4,470.9L430.9,470.1L431.4,470.5L431.9,471.0L432.4,471.5L432.9,471.5L433.4,471.5L433.9,471.5L434.4,471.1L434.9,471.1L435.4,471.5L435.9,471.5L436.4,471.5L436.9,471.2L437.4,471.5L437.9,471.5L438.4,471.2L438.9,471.5L439.4,471.5L439.9,471.5L440.4,471.5L440.9,471.2L441.4,471.5L441.9,471.5L442.4,470.9L442.9,471.5L443.4,471.1L443.9,471.5L444.4,471.5L444.9,471.5L445.4,471.5L445.9,471.5L446.4,471.5L446.9,471.5L447.4,471.5L447.9,471.5L448.4,471.5L448.9,471.5L449.4,471.5L449.9,471.5L450.4,471.5L450.9,471.5L451.4,471.5L451.9,471.5L452.4,471.5L452.9,471.3L453.4,471.5L453.9,471.5L454.4,471.5L454.9,471.5L455.4,471.3L455.9,471.5L456.4,471.2L456.9,471.5L457.4,471.3L457.9,471.5L458.4,471.5L458.9,471.5L459.4,471.5L459.9,471.5L460.4,471.5L460.9,471.5L461.4,471.5L461.9,471.5L462.4,471.5L462.9,471.5L463.4,471.5L463.9,471.0L464.4,471.5L464.9,471.5L465.4,471.5L465.9,471.5L466.4,471.5L466.9,471.5L467.4,471.5L467.9,471.5L468.4,471.5L468.9,471.5L469.4,470.9L469.9,471.5L470.4,471.5L470.9,471.5L471.4,471.5L471.9,471.5L472.4,471.2L472.9,471.5L473.4,471.5L473.9,471.5L474.4,471.5L474.9,471.2L475.4,471.5L475.9,471.5L476.4,471.5L476.9,471.5L477.4,471.5L477.9,471.5L478.4,471.1L478.9,471.5L479.4,471.5L479.9,471.5L480.4,471.5L480.9,471.5L481.4,471.5L481.9,471.2L482.4,471.5L482.9,471.5L483.4,471.5L483.9,471.5L484.4,471.5L484.9,471.5L485.4,471.5L485.9,471.5L486.4,471.5L486.9,471.5L487.4,471.5L487.7,471.5Z" fill="#404040" stroke="#404040" stroke-width="0.3"/>
<path d="M367.2,456.5H370.4V471.5" fill="none" stroke="#333" stroke-width="0.9"/>
<line x1="370.4" y1="471.5" x2="487.7" y2="471.5" stroke="#333" stroke-width="1.1"/>
<text x="363.8" y="458.44" font-size="8.0" text-anchor="end" textLength="8.3" lengthAdjust="spacingAndGlyphs">24</text>
<text x="363.8" y="471.74" font-size="8.0" text-anchor="end">0</text>
<text x="488.3" y="467.14" font-size="8.0" text-anchor="end" textLength="17.0" lengthAdjust="spacingAndGlyphs">THZ1</text>
<path d="M370.4,491.3L370.9,490.6L371.4,491.3L371.9,491.3L372.4,491.3L372.9,491.3L373.4,490.3L373.9,491.3L374.4,490.6L374.9,491.3L375.4,491.3L375.9,490.8L376.4,490.6L376.9,491.3L377.4,491.3L377.9,490.8L378.4,491.0L378.9,491.3L379.4,490.9L379.9,490.8L380.4,491.3L380.9,490.6L381.4,491.3L381.9,490.9L382.4,491.3L382.9,491.3L383.4,491.3L383.9,491.3L384.4,491.3L384.9,490.9L385.4,491.3L385.9,491.3L386.4,491.3L386.9,491.3L387.4,491.3L387.9,491.3L388.4,489.9L388.9,489.5L389.4,490.5L389.9,491.3L390.4,491.3L390.9,491.3L391.4,491.3L391.9,491.3L392.4,491.3L392.9,491.3L393.4,491.3L393.9,491.3L394.4,491.3L394.9,491.3L395.4,490.8L395.9,491.3L396.4,491.3L396.9,489.5L397.4,487.4L397.9,488.2L398.4,491.0L398.9,491.3L399.4,491.3L399.9,491.3L400.4,491.3L400.9,491.3L401.4,491.3L401.9,491.3L402.4,491.3L402.9,491.3L403.4,489.6L403.9,489.2L404.4,490.4L404.9,491.3L405.4,491.3L405.9,491.0L406.4,491.3L406.9,491.3L407.4,491.3L407.9,491.3L408.4,491.3L408.9,491.3L409.4,491.0L409.9,491.3L410.4,491.3L410.9,491.3L411.4,490.6L411.9,490.5L412.4,490.6L412.9,490.3L413.4,491.3L413.9,491.3L414.4,491.3L414.9,491.3L415.4,490.4L415.9,491.3L416.4,490.6L416.9,491.3L417.4,490.7L417.9,490.4L418.4,491.3L418.9,490.8L419.4,490.8L419.9,491.3L420.4,491.3L420.9,491.3L421.4,491.3L421.9,491.3L422.4,491.3L422.9,491.3L423.4,491.3L423.9,491.3L424.4,491.3L424.9,490.8L425.4,490.8L425.9,491.3L426.4,489.0L426.9,482.2L427.4,478.0L427.9,480.2L428.4,487.7L428.9,488.9L429.4,488.0L429.9,488.3L430.4,487.8L430.9,487.1L431.4,487.9L431.9,482.8L432.4,475.8L432.9,479.6L433.4,487.5L433.9,488.7L434.4,488.7L434.9,488.1L435.4,487.3L435.9,487.1L436.4,490.5L436.9,491.3L437.4,491.3L437.9,491.3L438.4,491.3L438.9,491.3L439.4,491.3L439.9,491.3L440.4,491.3L440.9,491.1L441.4,490.4L441.9,490.9L442.4,491.3L442.9,491.3L443.4,491.3L443.9,491.3L444.4,491.3L444.9,491.0L445.4,490.5L445.9,491.3L446.4,491.3L446.9,490.4L447.4,491.3L447.9,491.3L448.4,490.3L448.9,491.3L449.4,490.8L449.9,490.8L450.4,491.3L450.9,490.6L451.4,491.3L451.9,491.0L452.4,491.3L452.9,491.3L453.4,490.4L453.9,491.3L454.4,490.5L454.9,490.8L455.4,491.3L455.9,490.4L456.4,491.3L456.9,491.3L457.4,490.6L457.9,490.6L458.4,491.3L458.9,491.3L459.4,490.2L459.9,488.5L460.4,489.2L460.9,490.3L461.4,491.3L461.9,491.3L462.4,491.3L462.9,491.3L463.4,491.3L463.9,491.3L464.4,491.3L464.9,491.3L465.4,490.9L465.9,491.3L466.4,490.9L466.9,491.3L467.4,490.9L467.9,491.3L468.4,491.3L468.9,491.3L469.4,491.3L469.9,491.1L470.4,490.5L470.9,490.5L471.4,491.3L471.9,491.3L472.4,491.3L472.9,490.4L473.4,491.3L473.9,491.3L474.4,491.3L474.9,491.3L475.4,490.4L475.9,491.3L476.4,491.3L476.9,491.3L477.4,491.3L477.9,491.3L478.4,491.3L478.9,491.3L479.4,491.1L479.9,491.3L480.4,490.4L480.9,491.3L481.4,491.3L481.9,490.7L482.4,491.3L482.9,490.5L483.4,491.3L483.9,491.3L484.4,490.7L484.9,491.3L485.4,491.3L485.9,491.3L486.4,491.3L486.9,490.4L487.4,491.3L487.7,491.3Z" fill="#e2457e" stroke="#e2457e" stroke-width="0.3"/>
<path d="M367.2,476.3H370.4V491.3" fill="none" stroke="#333" stroke-width="0.9"/>
<line x1="370.4" y1="491.3" x2="487.7" y2="491.3" stroke="#333" stroke-width="1.1"/>
<text x="363.8" y="478.24" font-size="8.0" text-anchor="end" textLength="8.3" lengthAdjust="spacingAndGlyphs">24</text>
<text x="363.8" y="491.54" font-size="8.0" text-anchor="end">0</text>
<text x="488.3" y="486.94" font-size="8.0" text-anchor="end" textLength="20.2" lengthAdjust="spacingAndGlyphs">CAR-T</text>
<path d="M370.4,511.0L370.9,510.3L371.4,511.0L371.9,511.0L372.4,511.0L372.9,510.8L373.4,511.0L373.9,511.0L374.4,511.0L374.9,510.7L375.4,511.0L375.9,511.0L376.4,510.6L376.9,511.0L377.4,511.0L377.9,511.0L378.4,511.0L378.9,511.0L379.4,510.4L379.9,511.0L380.4,511.0L380.9,511.0L381.4,511.0L381.9,511.0L382.4,511.0L382.9,511.0L383.4,511.0L383.9,511.0L384.4,511.0L384.9,511.0L385.4,511.0L385.9,511.0L386.4,511.0L386.9,510.6L387.4,511.0L387.9,511.0L388.4,511.0L388.9,511.0L389.4,511.0L389.9,511.0L390.4,510.4L390.9,511.0L391.4,510.3L391.9,511.0L392.4,511.0L392.9,510.5L393.4,510.4L393.9,511.0L394.4,511.0L394.9,510.6L395.4,510.2L395.9,511.0L396.4,510.4L396.9,510.2L397.4,509.1L397.9,509.7L398.4,511.0L398.9,511.0L399.4,510.7L399.9,511.0L400.4,511.0L400.9,511.0L401.4,511.0L401.9,510.2L402.4,511.0L402.9,511.0L403.4,511.0L403.9,511.0L404.4,510.8L404.9,511.0L405.4,511.0L405.9,511.0L406.4,510.4L406.9,511.0L407.4,510.8L407.9,511.0L408.4,511.0L408.9,511.0L409.4,511.0L409.9,511.0L410.4,511.0L410.9,510.4L411.4,510.2L411.9,511.0L412.4,510.4L412.9,511.0L413.4,511.0L413.9,511.0L414.4,510.5L414.9,511.0L415.4,510.3L415.9,511.0L416.4,510.8L416.9,511.0L417.4,511.0L417.9,511.0L418.4,510.4L418.9,511.0L419.4,510.5L419.9,511.0L420.4,511.0L420.9,510.8L421.4,511.0L421.9,511.0L422.4,511.0L422.9,511.0L423.4,511.0L423.9,510.4L424.4,511.0L424.9,511.0L425.4,511.0L425.9,510.6L426.4,511.0L426.9,510.7L427.4,510.4L427.9,511.0L428.4,509.6L428.9,508.1L429.4,508.7L429.9,509.9L430.4,509.8L430.9,505.0L431.4,502.2L431.9,506.5L432.4,509.5L432.9,510.2L433.4,509.5L433.9,509.9L434.4,511.0L434.9,511.0L435.4,511.0L435.9,511.0L436.4,511.0L436.9,511.0L437.4,511.0L437.9,511.0L438.4,511.0L438.9,511.0L439.4,511.0L439.9,511.0L440.4,511.0L440.9,511.0L441.4,511.0L441.9,510.5L442.4,511.0L442.9,511.0L443.4,511.0L443.9,511.0L444.4,510.5L444.9,511.0L445.4,510.2L445.9,511.0L446.4,511.0L446.9,511.0L447.4,511.0L447.9,511.0L448.4,511.0L448.9,511.0L449.4,511.0L449.9,511.0L450.4,511.0L450.9,510.4L451.4,511.0L451.9,510.6L452.4,511.0L452.9,510.4L453.4,511.0L453.9,511.0L454.4,511.0L454.9,511.0L455.4,511.0L455.9,511.0L456.4,511.0L456.9,511.0L457.4,511.0L457.9,511.0L458.4,510.8L458.9,511.0L459.4,511.0L459.9,511.0L460.4,511.0L460.9,511.0L461.4,510.3L461.9,511.0L462.4,510.2L462.9,511.0L463.4,511.0L463.9,510.7L464.4,511.0L464.9,510.3L465.4,511.0L465.9,511.0L466.4,511.0L466.9,511.0L467.4,511.0L467.9,511.0L468.4,511.0L468.9,511.0L469.4,511.0L469.9,511.0L470.4,511.0L470.9,510.6L471.4,511.0L471.9,511.0L472.4,511.0L472.9,511.0L473.4,511.0L473.9,511.0L474.4,511.0L474.9,511.0L475.4,511.0L475.9,510.4L476.4,511.0L476.9,510.7L477.4,511.0L477.9,511.0L478.4,511.0L478.9,511.0L479.4,511.0L479.9,511.0L480.4,511.0L480.9,510.4L481.4,510.3L481.9,511.0L482.4,510.4L482.9,511.0L483.4,511.0L483.9,511.0L484.4,511.0L484.9,510.8L485.4,511.0L485.9,511.0L486.4,511.0L486.9,511.0L487.4,511.0L487.7,511.0Z" fill="#3cb43c" stroke="#3cb43c" stroke-width="0.3"/>
<path d="M367.2,496.0H370.4V511.0" fill="none" stroke="#333" stroke-width="0.9"/>
<line x1="370.4" y1="511.0" x2="487.7" y2="511.0" stroke="#333" stroke-width="1.1"/>
<text x="363.8" y="497.94" font-size="8.0" text-anchor="end" textLength="8.3" lengthAdjust="spacingAndGlyphs">24</text>
<text x="363.8" y="511.24" font-size="8.0" text-anchor="end">0</text>
<text x="488.3" y="506.64" font-size="8.0" text-anchor="end" textLength="44.0" lengthAdjust="spacingAndGlyphs">CAR-T + THZ1</text>
<line x1="347.8" y1="364.0" x2="347.8" y2="429.3" stroke="#666" stroke-width="1"/>
<text transform="translate(339.0,400.0) rotate(-90)" x="0" y="2.84" font-size="8.0" text-anchor="middle" textLength="34.0" lengthAdjust="spacingAndGlyphs">Pol II Ser5</text>
<line x1="347.8" y1="440.6" x2="347.8" y2="501.4" stroke="#666" stroke-width="1"/>
<text transform="translate(339.0,474.4) rotate(-90)" x="0" y="2.84" font-size="8.0" text-anchor="middle" textLength="18.0" lengthAdjust="spacingAndGlyphs">Pol II</text>
<text x="329.5" y="531.45" font-size="12.5" style="stroke-width:0.7px">L</text>
<text x="380.0" y="535.84" font-size="8.0" textLength="105.8" lengthAdjust="spacingAndGlyphs">chr1:110,432,849-110,494,000</text>
<text x="446.6" y="546.04" font-size="8.0" text-anchor="middle" textLength="15.6" lengthAdjust="spacingAndGlyphs">CSF1</text>
<path d="M445.5,550.1H437.7Q436.7,550.1 436.7,551.1V552Q436.7,553 437.7,553H459.6" fill="none" stroke="#444" stroke-width="1.1"/><path d="M444.8,548.3L448.4,550.1L444.8,551.9Z" fill="#222"/>
<path d="M371.5,569.6L372.0,568.3L372.5,568.4L373.0,567.0L373.5,566.8L374.0,566.5L374.5,568.9L375.0,567.8L375.5,568.7L376.0,568.8L376.5,568.6L377.0,568.8L377.5,567.1L378.0,567.4L378.5,567.2L379.0,567.6L379.5,566.8L380.0,568.4L380.5,567.4L381.0,566.4L381.5,568.8L382.0,567.0L382.5,566.1L383.0,568.0L383.5,566.2L384.0,568.5L384.5,568.3L385.0,568.2L385.5,567.4L386.0,567.7L386.5,567.5L387.0,569.4L387.5,566.4L388.0,566.7L388.5,569.6L389.0,566.9L389.5,569.4L390.0,567.7L390.5,566.4L391.0,566.7L391.5,566.2L392.0,569.6L392.5,566.6L393.0,568.3L393.5,567.9L394.0,569.4L394.5,569.6L395.0,566.1L395.5,568.4L396.0,569.2L396.5,568.9L397.0,566.8L397.5,566.0L398.0,565.2L398.5,560.6L399.0,559.8L399.5,565.4L400.0,568.2L400.5,568.3L401.0,567.0L401.5,569.1L402.0,567.6L402.5,567.6L403.0,567.0L403.5,566.2L404.0,566.4L404.5,568.1L405.0,568.9L405.5,567.1L406.0,569.1L406.5,567.7L407.0,568.4L407.5,568.6L408.0,566.7L408.5,568.4L409.0,568.7L409.5,569.4L410.0,568.5L410.5,568.4L411.0,566.8L411.5,567.9L412.0,567.6L412.5,568.4L413.0,569.2L413.5,568.0L414.0,568.2L414.5,567.7L415.0,566.1L415.5,567.5L416.0,568.6L416.5,567.4L417.0,567.9L417.5,569.6L418.0,569.6L418.5,569.6L419.0,567.1L419.5,568.3L420.0,567.1L420.5,566.3L421.0,566.5L421.5,568.1L422.0,566.3L422.5,568.4L423.0,567.4L423.5,567.3L424.0,567.2L424.5,568.1L425.0,567.1L425.5,569.6L426.0,566.2L426.5,568.9L427.0,568.1L427.5,567.4L428.0,566.5L428.5,567.4L429.0,566.5L429.5,569.1L430.0,566.6L430.5,567.6L431.0,567.2L431.5,566.8L432.0,569.2L432.5,568.6L433.0,566.9L433.5,567.5L434.0,569.6L434.5,568.9L435.0,568.4L435.5,569.6L436.0,568.5L436.5,566.2L437.0,561.1L437.5,558.3L438.0,561.0L438.5,565.4L439.0,565.1L439.5,567.2L440.0,566.2L440.5,567.3L441.0,565.6L441.5,566.8L442.0,565.7L442.5,566.0L443.0,567.2L443.5,565.8L444.0,566.8L444.5,566.1L445.0,564.8L445.5,566.3L446.0,566.8L446.5,565.3L447.0,566.1L447.5,566.4L448.0,566.9L448.5,565.6L449.0,566.4L449.5,565.7L450.0,565.6L450.5,565.5L451.0,565.4L451.5,565.3L452.0,564.2L452.5,563.2L453.0,564.1L453.5,567.0L454.0,565.6L454.5,567.0L455.0,565.3L455.5,565.9L456.0,567.2L456.5,565.1L457.0,566.3L457.5,566.1L458.0,565.6L458.5,565.8L459.0,566.1L459.5,565.6L460.0,565.1L460.5,565.9L461.0,566.8L461.5,567.3L462.0,566.9L462.5,566.3L463.0,567.2L463.5,566.4L464.0,565.3L464.5,565.7L465.0,565.1L465.5,567.3L466.0,565.3L466.5,565.4L467.0,566.9L467.5,565.4L468.0,566.2L468.5,565.8L469.0,567.1L469.5,566.6L470.0,566.7L470.5,567.8L471.0,567.2L471.5,568.4L472.0,569.3L472.5,567.5L473.0,569.6L473.5,566.1L474.0,568.2L474.5,567.5L475.0,566.0L475.5,568.7L476.0,567.6L476.5,568.3L477.0,568.7L477.5,568.6L478.0,567.0L478.5,567.9L479.0,567.0L479.5,568.0L480.0,568.6L480.5,568.4L481.0,566.0L481.5,567.5L482.0,567.8L482.5,568.2L483.0,566.6L483.5,569.3L484.0,567.2L484.5,567.6L485.0,568.9L485.5,566.7L486.0,569.6L486.5,567.2L487.0,566.0L487.5,568.3L488.0,567.5L488.5,568.4L489.0,566.7L489.5,568.8L490.0,569.6Z" fill="#cc2040" stroke="#cc2040" stroke-width="0.3"/>
<path d="M368.3,554.8H371.5V569.6" fill="none" stroke="#333" stroke-width="0.9"/>
<line x1="371.5" y1="569.6" x2="490.0" y2="569.6" stroke="#333" stroke-width="1.1"/>
<text x="364.2" y="556.74" font-size="8.0" text-anchor="end" textLength="8.3" lengthAdjust="spacingAndGlyphs">10</text>
<text x="364.2" y="569.84" font-size="8.0" text-anchor="end">0</text>
<text x="489.5" y="565.24" font-size="8.0" text-anchor="end" textLength="18.3" lengthAdjust="spacingAndGlyphs">CTL T</text>
<path d="M371.5,588.9L372.0,588.9L372.5,588.9L373.0,587.8L373.5,588.9L374.0,588.9L374.5,585.0L375.0,586.4L375.5,586.6L376.0,588.9L376.5,588.9L377.0,588.9L377.5,588.9L378.0,588.1L378.5,585.6L379.0,588.9L379.5,587.6L380.0,586.7L380.5,588.9L381.0,588.5L381.5,588.9L382.0,588.9L382.5,588.9L383.0,587.6L383.5,584.8L384.0,588.2L384.5,585.3L385.0,584.5L385.5,585.9L386.0,587.4L386.5,588.9L387.0,588.9L387.5,587.2L388.0,587.9L388.5,586.5L389.0,588.9L389.5,588.0L390.0,588.9L390.5,587.2L391.0,588.9L391.5,588.9L392.0,584.6L392.5,588.9L393.0,584.5L393.5,584.7L394.0,585.0L394.5,588.9L395.0,588.9L395.5,585.9L396.0,588.9L396.5,587.9L397.0,588.9L397.5,588.5L398.0,587.2L398.5,588.9L399.0,586.1L399.5,588.3L400.0,588.9L400.5,588.6L401.0,585.9L401.5,588.9L402.0,588.7L402.5,585.8L403.0,588.9L403.5,586.7L404.0,586.4L404.5,588.9L405.0,585.3L405.5,585.8L406.0,586.1L406.5,586.7L407.0,588.9L407.5,586.3L408.0,586.9L408.5,588.9L409.0,588.9L409.5,588.9L410.0,588.9L410.5,588.9L411.0,588.9L411.5,584.9L412.0,588.9L412.5,587.1L413.0,587.9L413.5,588.9L414.0,588.9L414.5,588.9L415.0,587.0L415.5,588.9L416.0,584.6L416.5,588.9L417.0,586.6L417.5,588.9L418.0,588.9L418.5,588.9L419.0,588.9L419.5,588.9L420.0,586.9L420.5,588.5L421.0,588.9L421.5,588.9L422.0,588.9L422.5,584.5L423.0,588.9L423.5,588.9L424.0,584.7L424.5,588.9L425.0,588.9L425.5,587.8L426.0,584.8L426.5,585.7L427.0,588.9L427.5,588.9L428.0,587.8L428.5,588.9L429.0,584.4L429.5,588.6L430.0,585.4L430.5,588.1L431.0,588.5L431.5,588.9L432.0,585.8L432.5,587.5L433.0,588.9L433.5,585.7L434.0,585.5L434.5,588.9L435.0,585.7L435.5,584.7L436.0,588.9L436.5,585.0L437.0,588.9L437.5,588.9L438.0,588.9L438.5,588.9L439.0,588.9L439.5,585.5L440.0,588.9L440.5,588.9L441.0,588.9L441.5,588.9L442.0,587.8L442.5,588.9L443.0,586.8L443.5,588.9L444.0,586.8L444.5,588.9L445.0,588.9L445.5,588.9L446.0,585.5L446.5,585.6L447.0,588.9L447.5,588.9L448.0,584.7L448.5,588.9L449.0,588.5L449.5,586.2L450.0,588.7L450.5,588.9L451.0,585.1L451.5,585.3L452.0,588.9L452.5,588.9L453.0,586.5L453.5,587.6L454.0,587.1L454.5,588.9L455.0,588.9L455.5,587.2L456.0,586.5L456.5,588.9L457.0,588.9L457.5,585.9L458.0,588.9L458.5,588.0L459.0,586.0L459.5,588.9L460.0,588.9L460.5,588.9L461.0,588.9L461.5,588.9L462.0,588.9L462.5,586.6L463.0,587.3L463.5,584.6L464.0,586.6L464.5,588.4L465.0,588.9L465.5,588.9L466.0,588.9L466.5,588.9L467.0,586.0L467.5,588.9L468.0,585.4L468.5,584.9L469.0,588.9L469.5,588.9L470.0,588.9L470.5,588.3L471.0,588.4L471.5,588.9L472.0,587.7L472.5,588.9L473.0,585.0L473.5,586.4L474.0,588.9L474.5,587.6L475.0,585.7L475.5,586.9L476.0,586.2L476.5,585.9L477.0,586.3L477.5,588.9L478.0,587.7L478.5,588.9L479.0,586.5L479.5,588.0L480.0,585.3L480.5,588.9L481.0,586.2L481.5,588.9L482.0,585.6L482.5,587.6L483.0,586.2L483.5,588.9L484.0,588.9L484.5,588.9L485.0,588.9L485.5,587.6L486.0,584.5L486.5,585.1L487.0,585.0L487.5,584.6L488.0,588.9L488.5,588.9L489.0,585.8L489.5,586.1L490.0,588.9Z" fill="#8a8a8a" stroke="#8a8a8a" stroke-width="0.3"/>
<path d="M368.3,574.1H371.5V588.9" fill="none" stroke="#333" stroke-width="0.9"/>
<line x1="371.5" y1="588.9" x2="490.0" y2="588.9" stroke="#333" stroke-width="1.1"/>
<text x="364.2" y="576.04" font-size="8.0" text-anchor="end" textLength="8.3" lengthAdjust="spacingAndGlyphs">10</text>
<text x="364.2" y="589.14" font-size="8.0" text-anchor="end">0</text>
<text x="489.5" y="584.54" font-size="8.0" text-anchor="end" textLength="17.0" lengthAdjust="spacingAndGlyphs">THZ1</text>
<path d="M371.5,608.3L372.0,605.7L372.5,607.5L373.0,606.4L373.5,606.4L374.0,605.9L374.5,607.8L375.0,608.3L375.5,606.5L376.0,608.3L376.5,607.4L377.0,607.5L377.5,607.3L378.0,606.4L378.5,607.6L379.0,605.8L379.5,606.4L380.0,605.7L380.5,606.3L381.0,607.3L381.5,607.2L382.0,605.5L382.5,606.0L383.0,605.9L383.5,605.9L384.0,607.5L384.5,607.3L385.0,606.7L385.5,607.6L386.0,606.1L386.5,606.8L387.0,605.5L387.5,608.3L388.0,608.3L388.5,608.3L389.0,608.3L389.5,606.2L390.0,607.0L390.5,607.0L391.0,608.3L391.5,608.0L392.0,606.7L392.5,605.8L393.0,605.6L393.5,607.6L394.0,606.6L394.5,606.5L395.0,607.7L395.5,608.3L396.0,608.3L396.5,608.3L397.0,607.9L397.5,605.4L398.0,603.1L398.5,601.0L399.0,601.4L399.5,603.3L400.0,605.6L400.5,605.6L401.0,607.6L401.5,607.9L402.0,605.5L402.5,606.3L403.0,605.4L403.5,607.4L404.0,606.3L404.5,606.4L405.0,608.0L405.5,606.5L406.0,608.3L406.5,605.5L407.0,605.4L407.5,606.9L408.0,606.2L408.5,607.6L409.0,606.6L409.5,607.1L410.0,605.5L410.5,606.5L411.0,606.8L411.5,608.3L412.0,605.5L412.5,605.7L413.0,607.0L413.5,605.5L414.0,607.4L414.5,606.7L415.0,606.9L415.5,606.1L416.0,605.5L416.5,607.3L417.0,608.1L417.5,606.8L418.0,606.8L418.5,606.5L419.0,607.1L419.5,605.7L420.0,605.6L420.5,607.6L421.0,605.3L421.5,608.0L422.0,606.7L422.5,605.6L423.0,606.2L423.5,606.4L424.0,607.4L424.5,605.3L425.0,608.3L425.5,605.6L426.0,608.3L426.5,607.9L427.0,605.3L427.5,606.6L428.0,606.9L428.5,606.5L429.0,607.5L429.5,606.8L430.0,608.3L430.5,608.3L431.0,606.1L431.5,608.3L432.0,608.0L432.5,606.8L433.0,608.3L433.5,608.3L434.0,605.4L434.5,606.9L435.0,607.7L435.5,607.9L436.0,606.4L436.5,604.9L437.0,597.8L437.5,593.8L438.0,596.8L438.5,604.6L439.0,605.4L439.5,605.7L440.0,605.7L440.5,604.3L441.0,603.4L441.5,604.4L442.0,605.6L442.5,606.1L443.0,606.3L443.5,606.4L444.0,606.4L444.5,605.2L445.0,605.0L445.5,605.1L446.0,605.0L446.5,605.3L447.0,606.4L447.5,605.2L448.0,606.0L448.5,605.8L449.0,606.0L449.5,605.1L450.0,605.5L450.5,605.2L451.0,603.9L451.5,603.0L452.0,601.3L452.5,600.7L453.0,601.7L453.5,602.9L454.0,604.3L454.5,605.0L455.0,605.8L455.5,605.8L456.0,606.4L456.5,606.3L457.0,606.3L457.5,605.1L458.0,605.7L458.5,604.2L459.0,602.3L459.5,600.9L460.0,599.5L460.5,600.7L461.0,602.6L461.5,603.9L462.0,605.0L462.5,604.7L463.0,603.7L463.5,602.2L464.0,601.1L464.5,602.0L465.0,603.7L465.5,604.7L466.0,605.0L466.5,605.3L467.0,605.0L467.5,607.3L468.0,607.5L468.5,608.3L469.0,607.8L469.5,607.5L470.0,606.4L470.5,606.7L471.0,605.5L471.5,605.8L472.0,607.6L472.5,607.6L473.0,608.3L473.5,608.3L474.0,608.1L474.5,608.3L475.0,608.3L475.5,606.7L476.0,608.0L476.5,607.4L477.0,607.7L477.5,608.3L478.0,605.7L478.5,608.0L479.0,605.6L479.5,605.4L480.0,608.1L480.5,607.6L481.0,608.3L481.5,608.3L482.0,605.4L482.5,605.9L483.0,606.9L483.5,605.4L484.0,607.9L484.5,606.7L485.0,607.0L485.5,606.7L486.0,608.3L486.5,608.3L487.0,605.9L487.5,606.6L488.0,605.8L488.5,606.4L489.0,608.3L489.5,607.6L490.0,608.3Z" fill="#f2a33a" stroke="#f2a33a" stroke-width="0.3"/>
<path d="M368.3,593.5H371.5V608.3" fill="none" stroke="#333" stroke-width="0.9"/>
<line x1="371.5" y1="608.3" x2="490.0" y2="608.3" stroke="#333" stroke-width="1.1"/>
<text x="364.2" y="595.44" font-size="8.0" text-anchor="end" textLength="8.3" lengthAdjust="spacingAndGlyphs">10</text>
<text x="364.2" y="608.54" font-size="8.0" text-anchor="end">0</text>
<text x="489.5" y="603.94" font-size="8.0" text-anchor="end" textLength="20.2" lengthAdjust="spacingAndGlyphs">CAR-T</text>
<path d="M371.5,627.7L372.0,627.3L372.5,627.1L373.0,626.6L373.5,627.1L374.0,627.7L374.5,627.3L375.0,624.7L375.5,625.2L376.0,626.9L376.5,626.8L377.0,626.6L377.5,626.6L378.0,625.2L378.5,626.0L379.0,627.4L379.5,627.7L380.0,626.2L380.5,625.0L381.0,626.3L381.5,627.7L382.0,626.2L382.5,627.7L383.0,625.3L383.5,627.1L384.0,626.1L384.5,627.7L385.0,627.7L385.5,625.2L386.0,626.4L386.5,625.0L387.0,627.0L387.5,624.9L388.0,625.9L388.5,624.9L389.0,625.8L389.5,625.6L390.0,625.9L390.5,627.7L391.0,625.0L391.5,627.7L392.0,626.4L392.5,626.5L393.0,625.4L393.5,626.4L394.0,627.0L394.5,625.9L395.0,626.5L395.5,627.2L396.0,624.7L396.5,625.3L397.0,624.9L397.5,627.7L398.0,624.6L398.5,621.1L399.0,620.9L399.5,624.6L400.0,626.8L400.5,625.4L401.0,625.0L401.5,624.8L402.0,624.9L402.5,625.4L403.0,625.7L403.5,625.4L404.0,626.5L404.5,626.0L405.0,626.1L405.5,627.0L406.0,625.1L406.5,625.5L407.0,626.2L407.5,625.5L408.0,626.5L408.5,626.2L409.0,626.0L409.5,627.2L410.0,626.4L410.5,627.7L411.0,625.8L411.5,625.4L412.0,624.8L412.5,626.4L413.0,627.0L413.5,625.3L414.0,626.7L414.5,625.5L415.0,625.0L415.5,627.7L416.0,627.7L416.5,624.8L417.0,626.8L417.5,627.7L418.0,625.9L418.5,625.6L419.0,625.9L419.5,626.4L420.0,625.0L420.5,627.0L421.0,626.2L421.5,626.0L422.0,626.3L422.5,627.7L423.0,625.2L423.5,625.8L424.0,626.9L424.5,625.4L425.0,626.4L425.5,625.0L426.0,627.4L426.5,627.7L427.0,627.4L427.5,624.9L428.0,626.8L428.5,625.6L429.0,627.7L429.5,626.3L430.0,627.3L430.5,625.4L431.0,625.1L431.5,626.9L432.0,626.8L432.5,625.5L433.0,627.7L433.5,626.3L434.0,626.6L434.5,625.5L435.0,625.0L435.5,626.7L436.0,626.9L436.5,624.8L437.0,620.5L437.5,618.8L438.0,620.9L438.5,619.9L439.0,623.0L439.5,623.7L440.0,620.4L440.5,621.1L441.0,620.1L441.5,621.2L442.0,621.5L442.5,623.2L443.0,621.3L443.5,621.6L444.0,621.5L444.5,622.2L445.0,620.8L445.5,620.5L446.0,623.4L446.5,621.4L447.0,620.9L447.5,623.2L448.0,620.2L448.5,622.2L449.0,623.1L449.5,623.9L450.0,624.7L450.5,621.8L451.0,623.8L451.5,622.0L452.0,624.0L452.5,623.1L453.0,623.4L453.5,622.3L454.0,622.8L454.5,623.3L455.0,622.1L455.5,623.7L456.0,623.5L456.5,624.3L457.0,624.0L457.5,622.9L458.0,622.7L458.5,623.9L459.0,622.9L459.5,622.7L460.0,624.2L460.5,622.6L461.0,622.9L461.5,623.1L462.0,624.3L462.5,624.2L463.0,624.1L463.5,622.9L464.0,623.8L464.5,623.6L465.0,624.6L465.5,622.1L466.0,623.3L466.5,627.7L467.0,624.9L467.5,626.6L468.0,627.5L468.5,626.8L469.0,626.6L469.5,626.5L470.0,625.2L470.5,624.9L471.0,626.1L471.5,627.3L472.0,626.5L472.5,627.0L473.0,626.1L473.5,626.4L474.0,625.3L474.5,626.3L475.0,627.7L475.5,626.9L476.0,626.6L476.5,627.3L477.0,624.9L477.5,624.8L478.0,626.9L478.5,625.1L479.0,625.5L479.5,627.5L480.0,625.1L480.5,627.3L481.0,626.6L481.5,625.7L482.0,625.6L482.5,625.6L483.0,627.3L483.5,625.8L484.0,627.3L484.5,626.9L485.0,624.9L485.5,627.7L486.0,627.1L486.5,625.4L487.0,626.2L487.5,626.2L488.0,626.7L488.5,624.8L489.0,625.2L489.5,627.7L490.0,627.7Z" fill="#ec5a28" stroke="#ec5a28" stroke-width="0.3"/>
<path d="M368.3,612.9H371.5V627.7" fill="none" stroke="#333" stroke-width="0.9"/>
<line x1="371.5" y1="627.7" x2="490.0" y2="627.7" stroke="#333" stroke-width="1.1"/>
<text x="364.2" y="614.84" font-size="8.0" text-anchor="end" textLength="8.3" lengthAdjust="spacingAndGlyphs">10</text>
<text x="364.2" y="627.94" font-size="8.0" text-anchor="end">0</text>
<text x="489.5" y="623.34" font-size="8.0" text-anchor="end" textLength="40.0" lengthAdjust="spacingAndGlyphs">CAR-T+THZ1</text>
<path d="M371.5,647.6L372.0,645.2L372.5,645.9L373.0,647.6L373.5,644.5L374.0,647.1L374.5,646.7L375.0,647.6L375.5,646.8L376.0,647.6L376.5,644.5L377.0,646.5L377.5,646.6L378.0,647.1L378.5,644.9L379.0,645.4L379.5,645.3L380.0,647.6L380.5,646.3L381.0,645.3L381.5,647.6L382.0,647.6L382.5,647.1L383.0,647.6L383.5,645.4L384.0,645.9L384.5,644.5L385.0,646.1L385.5,647.6L386.0,647.1L386.5,646.7L387.0,645.5L387.5,645.9L388.0,644.9L388.5,645.7L389.0,644.5L389.5,646.6L390.0,646.3L390.5,646.6L391.0,644.8L391.5,647.0L392.0,646.9L392.5,647.6L393.0,647.6L393.5,647.6L394.0,645.4L394.5,646.8L395.0,645.9L395.5,646.2L396.0,645.0L396.5,644.8L397.0,647.6L397.5,645.5L398.0,644.8L398.5,641.2L399.0,641.1L399.5,644.5L400.0,646.7L400.5,647.6L401.0,645.3L401.5,644.6L402.0,644.7L402.5,645.3L403.0,646.4L403.5,646.5L404.0,647.6L404.5,645.1L405.0,646.8L405.5,647.2L406.0,647.2L406.5,647.6L407.0,646.2L407.5,646.7L408.0,647.2L408.5,646.5L409.0,646.0L409.5,644.7L410.0,644.8L410.5,645.7L411.0,647.6L411.5,644.6L412.0,647.6L412.5,647.3L413.0,646.6L413.5,646.4L414.0,645.9L414.5,646.7L415.0,646.8L415.5,646.8L416.0,645.4L416.5,645.1L417.0,647.2L417.5,645.9L418.0,646.0L418.5,647.6L419.0,645.2L419.5,646.2L420.0,644.5L420.5,647.2L421.0,647.4L421.5,646.9L422.0,645.3L422.5,647.6L423.0,646.7L423.5,647.6L424.0,647.6L424.5,647.6L425.0,646.8L425.5,646.9L426.0,647.3L426.5,647.3L427.0,647.6L427.5,645.2L428.0,645.1L428.5,647.6L429.0,646.0L429.5,645.0L430.0,645.5L430.5,645.8L431.0,644.9L431.5,645.6L432.0,646.0L432.5,644.9L433.0,646.0L433.5,646.7L434.0,647.6L434.5,647.6L435.0,647.6L435.5,645.2L436.0,647.6L436.5,644.6L437.0,640.8L437.5,638.6L438.0,640.9L438.5,645.9L439.0,645.6L439.5,645.5L440.0,644.8L440.5,645.5L441.0,644.8L441.5,647.6L442.0,647.6L442.5,647.0L443.0,646.5L443.5,647.2L444.0,646.8L444.5,646.4L445.0,647.6L445.5,647.6L446.0,646.4L446.5,647.6L447.0,644.5L447.5,646.4L448.0,646.2L448.5,644.4L449.0,647.6L449.5,645.5L450.0,646.8L450.5,645.3L451.0,644.6L451.5,644.9L452.0,645.9L452.5,646.4L453.0,647.0L453.5,647.6L454.0,645.4L454.5,645.0L455.0,647.1L455.5,647.6L456.0,646.7L456.5,647.6L457.0,646.8L457.5,647.6L458.0,647.1L458.5,645.6L459.0,647.1L459.5,647.6L460.0,647.6L460.5,647.3L461.0,647.6L461.5,645.3L462.0,645.3L462.5,646.4L463.0,645.2L463.5,644.6L464.0,647.6L464.5,646.6L465.0,645.1L465.5,647.3L466.0,645.7L466.5,644.5L467.0,644.7L467.5,647.6L468.0,646.6L468.5,646.9L469.0,645.0L469.5,645.0L470.0,644.7L470.5,647.6L471.0,646.7L471.5,647.3L472.0,644.6L472.5,646.6L473.0,647.6L473.5,645.0L474.0,645.3L474.5,645.6L475.0,644.8L475.5,647.6L476.0,644.8L476.5,647.6L477.0,646.4L477.5,647.6L478.0,645.5L478.5,647.6L479.0,646.7L479.5,646.5L480.0,645.0L480.5,647.0L481.0,646.1L481.5,647.6L482.0,647.3L482.5,644.6L483.0,644.7L483.5,645.1L484.0,647.6L484.5,647.0L485.0,645.0L485.5,647.6L486.0,646.1L486.5,644.9L487.0,646.0L487.5,646.3L488.0,645.4L488.5,647.6L489.0,644.9L489.5,646.2L490.0,647.6Z" fill="#2f7d2f" stroke="#2f7d2f" stroke-width="0.3"/>
<path d="M368.3,632.8H371.5V647.6" fill="none" stroke="#333" stroke-width="0.9"/>
<line x1="371.5" y1="647.6" x2="490.0" y2="647.6" stroke="#333" stroke-width="1.1"/>
<text x="364.2" y="634.74" font-size="8.0" text-anchor="end" textLength="8.3" lengthAdjust="spacingAndGlyphs">13</text>
<text x="364.2" y="647.84" font-size="8.0" text-anchor="end">0</text>
<text x="489.5" y="643.24" font-size="8.0" text-anchor="end" textLength="18.3" lengthAdjust="spacingAndGlyphs">CTL T</text>
<path d="M371.5,667.4L372.0,666.3L372.5,667.4L373.0,667.4L373.5,667.4L374.0,667.4L374.5,666.5L375.0,665.4L375.5,665.1L376.0,665.3L376.5,666.3L377.0,665.3L377.5,666.4L378.0,667.4L378.5,666.3L379.0,664.5L379.5,667.4L380.0,667.4L380.5,666.7L381.0,665.6L381.5,667.4L382.0,667.4L382.5,667.0L383.0,666.8L383.5,667.4L384.0,667.4L384.5,667.4L385.0,666.7L385.5,667.4L386.0,667.4L386.5,667.0L387.0,666.3L387.5,667.4L388.0,667.4L388.5,666.7L389.0,664.5L389.5,667.4L390.0,666.9L390.5,665.7L391.0,665.1L391.5,664.8L392.0,667.4L392.5,664.6L393.0,667.2L393.5,667.4L394.0,667.4L394.5,667.4L395.0,666.1L395.5,667.4L396.0,667.1L396.5,665.9L397.0,665.3L397.5,664.6L398.0,666.7L398.5,666.7L399.0,666.1L399.5,666.4L400.0,664.4L400.5,664.5L401.0,666.2L401.5,665.7L402.0,667.4L402.5,667.2L403.0,666.9L403.5,666.7L404.0,667.4L404.5,664.9L405.0,666.7L405.5,664.9L406.0,664.8L406.5,665.3L407.0,667.4L407.5,664.4L408.0,667.4L408.5,664.7L409.0,665.3L409.5,667.4L410.0,667.4L410.5,665.6L411.0,667.4L411.5,667.4L412.0,664.5L412.5,667.4L413.0,666.7L413.5,667.4L414.0,667.4L414.5,665.8L415.0,667.4L415.5,665.2L416.0,667.1L416.5,667.1L417.0,667.4L417.5,667.0L418.0,667.4L418.5,667.1L419.0,665.2L419.5,667.4L420.0,667.4L420.5,667.4L421.0,666.6L421.5,667.4L422.0,667.4L422.5,667.1L423.0,667.4L423.5,664.9L424.0,667.1L424.5,667.4L425.0,664.7L425.5,665.3L426.0,667.4L426.5,667.4L427.0,667.0L427.5,666.7L428.0,664.8L428.5,666.6L429.0,667.4L429.5,667.4L430.0,666.5L430.5,666.4L431.0,666.0L431.5,665.2L432.0,665.4L432.5,666.0L433.0,667.4L433.5,665.8L434.0,665.4L434.5,665.4L435.0,665.9L435.5,667.4L436.0,665.1L436.5,667.4L437.0,667.4L437.5,667.4L438.0,667.4L438.5,665.2L439.0,665.9L439.5,667.4L440.0,667.4L440.5,666.5L441.0,667.4L441.5,667.4L442.0,667.4L442.5,664.5L443.0,667.4L443.5,664.8L444.0,665.6L444.5,664.7L445.0,664.4L445.5,665.4L446.0,667.1L446.5,664.7L447.0,667.4L447.5,667.0L448.0,666.2L448.5,665.9L449.0,667.4L449.5,667.4L450.0,665.5L450.5,667.4L451.0,667.0L451.5,666.1L452.0,665.0L452.5,667.4L453.0,666.9L453.5,665.4L454.0,666.6L454.5,666.8L455.0,666.5L455.5,665.4L456.0,665.0L456.5,666.5L457.0,666.6L457.5,667.0L458.0,665.0L458.5,667.4L459.0,666.5L459.5,667.4L460.0,664.6L460.5,666.0L461.0,666.3L461.5,667.4L462.0,666.5L462.5,666.1L463.0,666.9L463.5,665.2L464.0,667.4L464.5,667.4L465.0,666.3L465.5,667.4L466.0,667.4L466.5,664.6L467.0,666.2L467.5,666.0L468.0,667.4L468.5,664.6L469.0,664.9L469.5,664.7L470.0,664.9L470.5,664.8L471.0,664.7L471.5,667.4L472.0,667.4L472.5,667.4L473.0,667.4L473.5,665.8L474.0,664.9L474.5,667.4L475.0,667.4L475.5,666.5L476.0,665.8L476.5,667.1L477.0,665.7L477.5,667.4L478.0,666.9L478.5,667.4L479.0,664.7L479.5,666.4L480.0,666.8L480.5,666.0L481.0,664.6L481.5,665.1L482.0,667.4L482.5,665.1L483.0,665.0L483.5,666.7L484.0,667.4L484.5,665.5L485.0,666.7L485.5,667.4L486.0,667.4L486.5,667.4L487.0,666.5L487.5,665.3L488.0,666.1L488.5,665.3L489.0,664.5L489.5,664.9L490.0,667.4Z" fill="#6868c4" stroke="#6868c4" stroke-width="0.3"/>
<path d="M368.3,652.6H371.5V667.4" fill="none" stroke="#333" stroke-width="0.9"/>
<line x1="371.5" y1="667.4" x2="490.0" y2="667.4" stroke="#333" stroke-width="1.1"/>
<text x="364.2" y="654.54" font-size="8.0" text-anchor="end" textLength="8.3" lengthAdjust="spacingAndGlyphs">13</text>
<text x="364.2" y="667.64" font-size="8.0" text-anchor="end">0</text>
<text x="489.5" y="663.04" font-size="8.0" text-anchor="end" textLength="17.0" lengthAdjust="spacingAndGlyphs">THZ1</text>
<path d="M371.5,687.0L372.0,684.7L372.5,687.0L373.0,686.3L373.5,685.7L374.0,684.1L374.5,685.6L375.0,685.8L375.5,687.0L376.0,685.5L376.5,686.3L377.0,686.7L377.5,684.6L378.0,684.4L378.5,687.0L379.0,684.7L379.5,685.9L380.0,685.3L380.5,685.6L381.0,684.3L381.5,684.6L382.0,683.9L382.5,686.0L383.0,685.9L383.5,685.8L384.0,687.0L384.5,686.2L385.0,687.0L385.5,685.9L386.0,685.7L386.5,687.0L387.0,687.0L387.5,685.2L388.0,687.0L388.5,684.6L389.0,684.2L389.5,687.0L390.0,686.2L390.5,686.1L391.0,685.6L391.5,685.0L392.0,686.8L392.5,684.1L393.0,687.0L393.5,685.8L394.0,685.3L394.5,684.0L395.0,685.5L395.5,686.4L396.0,683.7L396.5,687.0L397.0,685.0L397.5,683.9L398.0,681.7L398.5,677.5L399.0,677.8L399.5,682.3L400.0,686.5L400.5,687.0L401.0,687.0L401.5,687.0L402.0,687.0L402.5,687.0L403.0,684.3L403.5,686.0L404.0,687.0L404.5,685.2L405.0,684.6L405.5,687.0L406.0,685.4L406.5,687.0L407.0,683.9L407.5,686.7L408.0,683.8L408.5,686.8L409.0,685.7L409.5,686.1L410.0,685.9L410.5,686.5L411.0,686.3L411.5,684.6L412.0,686.7L412.5,684.8L413.0,687.0L413.5,686.4L414.0,684.5L414.5,684.1L415.0,686.7L415.5,685.5L416.0,684.2L416.5,684.3L417.0,687.0L417.5,685.4L418.0,684.6L418.5,687.0L419.0,686.2L419.5,685.3L420.0,687.0L420.5,685.8L421.0,686.3L421.5,684.5L422.0,684.7L422.5,685.6L423.0,685.3L423.5,686.0L424.0,685.3L424.5,685.1L425.0,683.9L425.5,684.4L426.0,687.0L426.5,684.0L427.0,686.8L427.5,685.8L428.0,683.8L428.5,683.8L429.0,684.7L429.5,685.1L430.0,685.8L430.5,687.0L431.0,684.5L431.5,684.9L432.0,684.4L432.5,687.0L433.0,684.9L433.5,684.2L434.0,684.1L434.5,684.4L435.0,686.7L435.5,684.7L436.0,685.4L436.5,683.5L437.0,676.1L437.5,673.1L438.0,675.6L438.5,683.6L439.0,686.0L439.5,685.5L440.0,686.6L440.5,683.6L441.0,682.7L441.5,683.6L442.0,686.7L442.5,686.8L443.0,684.9L443.5,686.5L444.0,686.2L444.5,684.7L445.0,684.2L445.5,684.8L446.0,687.0L446.5,685.9L447.0,685.9L447.5,687.0L448.0,684.5L448.5,685.4L449.0,684.7L449.5,686.3L450.0,686.6L450.5,685.7L451.0,686.7L451.5,686.3L452.0,684.5L452.5,687.0L453.0,684.0L453.5,685.1L454.0,685.7L454.5,684.9L455.0,686.1L455.5,686.2L456.0,685.9L456.5,687.0L457.0,684.9L457.5,687.0L458.0,684.8L458.5,684.6L459.0,684.6L459.5,687.0L460.0,684.4L460.5,684.4L461.0,686.6L461.5,683.8L462.0,686.6L462.5,687.0L463.0,683.7L463.5,684.3L464.0,684.3L464.5,686.6L465.0,686.5L465.5,686.0L466.0,686.2L466.5,684.2L467.0,686.6L467.5,684.6L468.0,686.8L468.5,685.8L469.0,686.0L469.5,686.3L470.0,684.4L470.5,686.4L471.0,684.3L471.5,686.5L472.0,685.2L472.5,685.6L473.0,685.1L473.5,684.6L474.0,684.4L474.5,685.3L475.0,685.8L475.5,686.6L476.0,685.9L476.5,684.1L477.0,685.4L477.5,684.9L478.0,686.6L478.5,687.0L479.0,685.7L479.5,686.6L480.0,685.6L480.5,685.7L481.0,686.2L481.5,685.0L482.0,684.2L482.5,685.4L483.0,685.0L483.5,684.2L484.0,686.0L484.5,687.0L485.0,686.3L485.5,685.6L486.0,686.6L486.5,686.2L487.0,687.0L487.5,684.4L488.0,686.7L488.5,687.0L489.0,684.2L489.5,683.9L490.0,687.0Z" fill="#e2527f" stroke="#e2527f" stroke-width="0.3"/>
<path d="M368.3,672.2H371.5V687.0" fill="none" stroke="#333" stroke-width="0.9"/>
<line x1="371.5" y1="687.0" x2="490.0" y2="687.0" stroke="#333" stroke-width="1.1"/>
<text x="364.2" y="674.14" font-size="8.0" text-anchor="end" textLength="8.3" lengthAdjust="spacingAndGlyphs">13</text>
<text x="364.2" y="687.24" font-size="8.0" text-anchor="end">0</text>
<text x="489.5" y="682.64" font-size="8.0" text-anchor="end" textLength="20.2" lengthAdjust="spacingAndGlyphs">CAR-T</text>
<path d="M371.5,706.6L372.0,704.7L372.5,704.6L373.0,705.2L373.5,706.6L374.0,704.9L374.5,706.6L375.0,705.6L375.5,704.2L376.0,704.5L376.5,706.1L377.0,705.6L377.5,705.9L378.0,705.2L378.5,704.6L379.0,704.6L379.5,706.6L380.0,706.6L380.5,704.9L381.0,704.8L381.5,706.6L382.0,704.9L382.5,706.6L383.0,704.3L383.5,706.6L384.0,704.8L384.5,705.0L385.0,704.3L385.5,705.2L386.0,705.5L386.5,706.3L387.0,704.7L387.5,704.8L388.0,705.2L388.5,706.0L389.0,706.6L389.5,706.3L390.0,706.0L390.5,706.6L391.0,706.6L391.5,705.6L392.0,704.2L392.5,705.4L393.0,706.6L393.5,705.5L394.0,706.6L394.5,706.6L395.0,706.2L395.5,706.0L396.0,704.6L396.5,704.5L397.0,706.6L397.5,705.4L398.0,706.6L398.5,705.9L399.0,704.9L399.5,706.6L400.0,706.3L400.5,706.2L401.0,706.6L401.5,706.1L402.0,705.3L402.5,704.7L403.0,704.7L403.5,706.6L404.0,706.6L404.5,704.6L405.0,705.4L405.5,705.1L406.0,704.9L406.5,706.6L407.0,704.9L407.5,705.6L408.0,704.2L408.5,706.1L409.0,706.6L409.5,706.3L410.0,705.8L410.5,705.2L411.0,705.4L411.5,706.3L412.0,706.6L412.5,704.5L413.0,704.7L413.5,704.8L414.0,706.6L414.5,706.0L415.0,704.3L415.5,705.4L416.0,705.5L416.5,704.6L417.0,705.8L417.5,706.6L418.0,706.6L418.5,704.4L419.0,705.6L419.5,704.4L420.0,706.1L420.5,706.6L421.0,705.0L421.5,705.8L422.0,705.5L422.5,704.6L423.0,704.4L423.5,705.1L424.0,705.3L424.5,706.6L425.0,705.9L425.5,706.6L426.0,705.8L426.5,704.6L427.0,705.8L427.5,705.9L428.0,706.6L428.5,705.4L429.0,706.6L429.5,705.3L430.0,704.3L430.5,704.7L431.0,705.0L431.5,704.9L432.0,705.1L432.5,706.6L433.0,706.1L433.5,706.6L434.0,706.6L434.5,705.5L435.0,704.8L435.5,705.5L436.0,704.8L436.5,704.2L437.0,704.3L437.5,703.8L438.0,704.7L438.5,705.1L439.0,706.0L439.5,705.4L440.0,704.7L440.5,705.2L441.0,704.9L441.5,706.6L442.0,704.9L442.5,706.2L443.0,705.4L443.5,705.8L444.0,704.6L444.5,705.8L445.0,705.5L445.5,705.5L446.0,706.6L446.5,706.0L447.0,705.3L447.5,704.4L448.0,704.5L448.5,704.6L449.0,706.6L449.5,706.1L450.0,706.6L450.5,706.6L451.0,706.6L451.5,706.6L452.0,706.6L452.5,704.3L453.0,706.6L453.5,704.3L454.0,704.4L454.5,706.4L455.0,705.7L455.5,704.5L456.0,705.6L456.5,706.6L457.0,704.4L457.5,705.5L458.0,706.6L458.5,706.6L459.0,705.0L459.5,706.1L460.0,706.4L460.5,705.4L461.0,704.3L461.5,704.9L462.0,704.6L462.5,705.7L463.0,705.6L463.5,706.6L464.0,704.7L464.5,705.6L465.0,705.7L465.5,706.6L466.0,706.1L466.5,706.6L467.0,705.1L467.5,706.3L468.0,706.6L468.5,704.2L469.0,706.0L469.5,706.6L470.0,705.4L470.5,705.6L471.0,705.8L471.5,705.5L472.0,706.6L472.5,704.2L473.0,704.7L473.5,704.2L474.0,705.2L474.5,706.1L475.0,706.6L475.5,706.0L476.0,706.6L476.5,706.0L477.0,705.7L477.5,706.6L478.0,706.6L478.5,706.3L479.0,706.1L479.5,704.8L480.0,706.6L480.5,704.5L481.0,705.7L481.5,706.6L482.0,706.6L482.5,705.5L483.0,705.2L483.5,705.2L484.0,704.6L484.5,705.7L485.0,704.4L485.5,705.9L486.0,706.6L486.5,705.2L487.0,704.7L487.5,706.6L488.0,706.6L488.5,706.6L489.0,704.5L489.5,704.5L490.0,706.6Z" fill="#5cc85c" stroke="#5cc85c" stroke-width="0.3"/>
<path d="M368.3,691.8H371.5V706.6" fill="none" stroke="#333" stroke-width="0.9"/>
<line x1="371.5" y1="706.6" x2="490.0" y2="706.6" stroke="#333" stroke-width="1.1"/>
<text x="364.2" y="693.74" font-size="8.0" text-anchor="end" textLength="8.3" lengthAdjust="spacingAndGlyphs">13</text>
<text x="364.2" y="706.84" font-size="8.0" text-anchor="end">0</text>
<text x="489.5" y="702.24" font-size="8.0" text-anchor="end" textLength="40.0" lengthAdjust="spacingAndGlyphs">CAR-T+THZ1</text>
<line x1="347.6" y1="558.0" x2="347.6" y2="624.3" stroke="#666" stroke-width="1"/>
<text transform="translate(339.5,598.4) rotate(-90)" x="0" y="2.84" font-size="8.0" text-anchor="middle" textLength="34.0" lengthAdjust="spacingAndGlyphs">Pol II Ser5</text>
<line x1="347.6" y1="637.8" x2="347.6" y2="697.0" stroke="#666" stroke-width="1"/>
<text transform="translate(339.5,675.0) rotate(-90)" x="0" y="2.84" font-size="8.0" text-anchor="middle" textLength="18.0" lengthAdjust="spacingAndGlyphs">Pol II</text>
</svg>
</body></html>
